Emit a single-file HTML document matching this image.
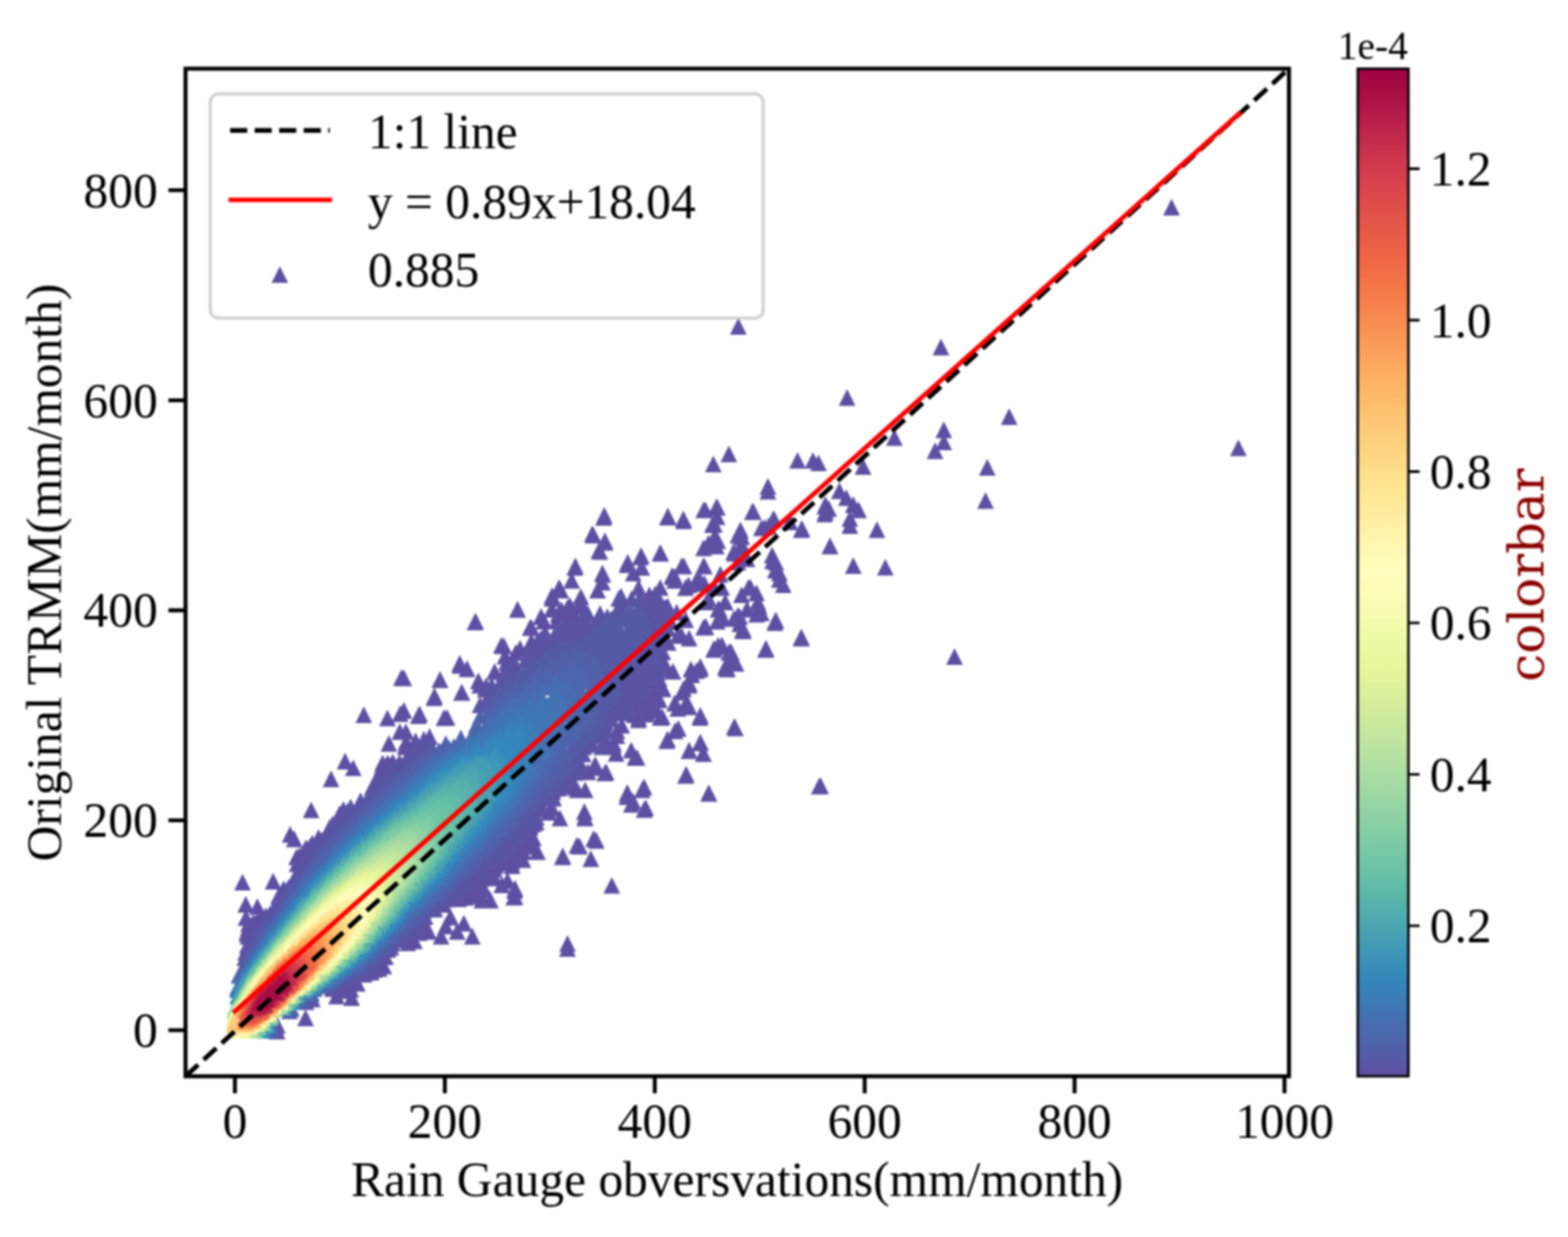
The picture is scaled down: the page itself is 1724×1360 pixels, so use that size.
<!DOCTYPE html><html><head><meta charset="utf-8"><title>scatter</title><style>html,body{margin:0;padding:0;background:#fff;}svg{display:block}#wrap{filter:blur(1px)}text{font-family:'Liberation Serif','Times New Roman',serif;fill:#000}</style></head><body>
<div id="wrap">
<svg xmlns="http://www.w3.org/2000/svg" width="1724" height="1360" viewBox="0 0 1724 1360">
<rect width="1724" height="1360" fill="#fff"/>
<defs><clipPath id="ax"><rect x="204.0" y="75.5" width="1213.2" height="1107.8"/></clipPath>
<linearGradient id="cb" x1="0" y1="0" x2="0" y2="1"><stop offset="0.0000" stop-color="#9e0142"/><stop offset="0.0312" stop-color="#ad1246"/><stop offset="0.0625" stop-color="#be254a"/><stop offset="0.0938" stop-color="#d0384e"/><stop offset="0.1250" stop-color="#dc484c"/><stop offset="0.1562" stop-color="#e55749"/><stop offset="0.1875" stop-color="#ef6645"/><stop offset="0.2188" stop-color="#f57748"/><stop offset="0.2500" stop-color="#f88c51"/><stop offset="0.2812" stop-color="#fba05b"/><stop offset="0.3125" stop-color="#fdb365"/><stop offset="0.3438" stop-color="#fdc372"/><stop offset="0.3750" stop-color="#fed27f"/><stop offset="0.4062" stop-color="#fee18d"/><stop offset="0.4375" stop-color="#feeb9d"/><stop offset="0.4688" stop-color="#fff5ae"/><stop offset="0.5000" stop-color="#fffebe"/><stop offset="0.5312" stop-color="#f8fcb4"/><stop offset="0.5625" stop-color="#f0f9a7"/><stop offset="0.5938" stop-color="#e8f69b"/><stop offset="0.6250" stop-color="#d8ef9b"/><stop offset="0.6562" stop-color="#c6e89f"/><stop offset="0.6875" stop-color="#b3e0a2"/><stop offset="0.7188" stop-color="#9fd8a4"/><stop offset="0.7500" stop-color="#89d0a4"/><stop offset="0.7812" stop-color="#74c7a5"/><stop offset="0.8125" stop-color="#60bba8"/><stop offset="0.8438" stop-color="#50a9af"/><stop offset="0.8750" stop-color="#3f97b7"/><stop offset="0.9062" stop-color="#3585bb"/><stop offset="0.9375" stop-color="#4273b3"/><stop offset="0.9688" stop-color="#5061aa"/><stop offset="1.0000" stop-color="#5e4fa2"/></linearGradient></defs>
<g clip-path="url(#ax)"><path fill="#5e4fa2" d="M336.0 1109.8l9.2 18.4h-18.4zM386.6 1087.6l9.2 18.4h-18.4zM370.0 1085.8l9.2 18.4h-18.4zM266.7 960.7l9.2 18.4h-18.4zM270.2 985.0l9.2 18.4h-18.4zM283.0 987.4l9.2 18.4h-18.4zM300.3 959.5l9.2 18.4h-18.4zM618.2 932.8l9.2 18.4h-18.4zM634.4 920.1l9.2 18.4h-18.4zM624.0 1028.0l9.2 18.4h-18.4zM323.5 913.1l9.2 18.4h-18.4zM364.0 847.1l9.2 18.4h-18.4zM379.4 827.6l9.2 18.4h-18.4zM388.4 834.9l9.2 18.4h-18.4zM319.0 908.0l9.2 18.4h-18.4zM342.1 881.2l9.2 18.4h-18.4zM643.0 888.5l9.2 18.4h-18.4zM689.3 866.6l9.2 18.4h-18.4zM652.7 912.8l9.2 18.4h-18.4zM674.6 808.1l9.2 18.4h-18.4zM694.0 815.4l9.2 18.4h-18.4zM523.0 673.9l9.2 18.4h-18.4zM441.4 735.7l9.2 18.4h-18.4zM483.8 737.8l9.2 18.4h-18.4zM505.8 722.4l9.2 18.4h-18.4zM513.5 725.8l9.2 18.4h-18.4zM508.0 752.2l9.2 18.4h-18.4zM477.2 757.8l9.2 18.4h-18.4zM400.0 776.5l9.2 18.4h-18.4zM426.0 780.2l9.2 18.4h-18.4zM440.0 775.4l9.2 18.4h-18.4zM461.3 775.8l9.2 18.4h-18.4zM488.2 779.8l9.2 18.4h-18.4zM439.6 795.2l9.2 18.4h-18.4zM446.3 795.2l9.2 18.4h-18.4zM472.3 800.5l9.2 18.4h-18.4zM427.6 808.2l9.2 18.4h-18.4zM554.0 700.8l9.2 18.4h-18.4zM571.8 703.6l9.2 18.4h-18.4zM526.0 739.3l9.2 18.4h-18.4zM543.8 729.1l9.2 18.4h-18.4zM1288.1 218.6l9.2 18.4h-18.4zM1361.6 483.2l9.2 18.4h-18.4zM1049.5 712.5l9.2 18.4h-18.4zM902.2 854.6l9.2 18.4h-18.4zM811.8 349.5l9.2 18.4h-18.4zM1109.6 448.8l9.2 18.4h-18.4zM1085.5 504.6l9.2 18.4h-18.4zM1083.6 541.0l9.2 18.4h-18.4zM1034.6 372.3l9.2 18.4h-18.4zM931.4 427.8l9.2 18.4h-18.4zM983.4 471.8l9.2 18.4h-18.4zM1037.7 463.3l9.2 18.4h-18.4zM1037.7 476.7l9.2 18.4h-18.4zM1028.1 486.3l9.2 18.4h-18.4zM948.9 503.5l9.2 18.4h-18.4zM900.0 499.7l9.2 18.4h-18.4zM907.6 545.6l9.2 18.4h-18.4zM907.6 553.2l9.2 18.4h-18.4zM922.9 530.3l9.2 18.4h-18.4zM930.6 537.9l9.2 18.4h-18.4zM938.2 545.6l9.2 18.4h-18.4zM944.0 551.3l9.2 18.4h-18.4zM934.4 560.9l9.2 18.4h-18.4zM934.4 568.5l9.2 18.4h-18.4zM964.2 573.1l9.2 18.4h-18.4zM912.6 590.7l9.2 18.4h-18.4zM938.2 612.5l9.2 18.4h-18.4zM973.4 614.4l9.2 18.4h-18.4zM664.4 557.3l9.2 18.4h-18.4zM733.9 559.3l9.2 18.4h-18.4zM751.8 563.3l9.2 18.4h-18.4zM775.6 551.4l9.2 18.4h-18.4zM788.7 548.6l9.2 18.4h-18.4zM785.5 567.2l9.2 18.4h-18.4zM827.2 553.3l9.2 18.4h-18.4zM851.0 561.3l9.2 18.4h-18.4zM837.1 571.2l9.2 18.4h-18.4zM813.3 575.2l9.2 18.4h-18.4zM880.8 573.2l9.2 18.4h-18.4zM801.4 489.8l9.2 18.4h-18.4zM784.3 500.9l9.2 18.4h-18.4zM876.9 496.9l9.2 18.4h-18.4zM893.9 496.9l9.2 18.4h-18.4zM844.3 525.5l9.2 18.4h-18.4zM652.5 579.2l9.2 18.4h-18.4zM665.2 587.1l9.2 18.4h-18.4zM659.6 597.0l9.2 18.4h-18.4zM690.2 608.9l9.2 18.4h-18.4zM704.1 603.0l9.2 18.4h-18.4zM696.2 620.8l9.2 18.4h-18.4zM725.9 599.0l9.2 18.4h-18.4zM751.8 612.9l9.2 18.4h-18.4zM741.8 624.8l9.2 18.4h-18.4zM773.6 612.9l9.2 18.4h-18.4zM769.6 628.8l9.2 18.4h-18.4zM779.6 589.1l9.2 18.4h-18.4zM785.5 581.1l9.2 18.4h-18.4zM773.6 593.1l9.2 18.4h-18.4zM811.3 579.2l9.2 18.4h-18.4zM815.3 589.1l9.2 18.4h-18.4zM807.4 599.0l9.2 18.4h-18.4zM821.3 605.0l9.2 18.4h-18.4zM811.3 608.9l9.2 18.4h-18.4zM853.0 608.9l9.2 18.4h-18.4zM857.0 620.8l9.2 18.4h-18.4zM849.0 601.0l9.2 18.4h-18.4zM632.6 612.9l9.2 18.4h-18.4zM662.4 620.8l9.2 18.4h-18.4zM614.7 636.8l9.2 18.4h-18.4zM606.8 648.7l9.2 18.4h-18.4zM628.6 628.8l9.2 18.4h-18.4zM638.6 646.7l9.2 18.4h-18.4zM626.7 656.6l9.2 18.4h-18.4zM662.4 630.8l9.2 18.4h-18.4zM680.3 648.7l9.2 18.4h-18.4zM694.2 664.5l9.2 18.4h-18.4zM702.1 636.8l9.2 18.4h-18.4zM714.0 644.7l9.2 18.4h-18.4zM706.1 652.6l9.2 18.4h-18.4zM725.9 652.6l9.2 18.4h-18.4zM741.8 628.8l9.2 18.4h-18.4zM753.7 636.8l9.2 18.4h-18.4zM765.7 628.8l9.2 18.4h-18.4zM785.5 636.8l9.2 18.4h-18.4zM777.6 652.6l9.2 18.4h-18.4zM789.5 660.6l9.2 18.4h-18.4zM797.4 652.6l9.2 18.4h-18.4zM815.3 644.7l9.2 18.4h-18.4zM825.2 636.8l9.2 18.4h-18.4zM833.2 652.6l9.2 18.4h-18.4zM821.3 660.6l9.2 18.4h-18.4zM837.1 664.5l9.2 18.4h-18.4zM853.0 672.5l9.2 18.4h-18.4zM813.3 668.5l9.2 18.4h-18.4zM880.8 692.3l9.2 18.4h-18.4zM569.1 660.6l9.2 18.4h-18.4zM522.2 674.5l9.2 18.4h-18.4zM583.0 680.4l9.2 18.4h-18.4zM594.9 668.5l9.2 18.4h-18.4zM606.8 660.6l9.2 18.4h-18.4zM630.6 664.5l9.2 18.4h-18.4zM638.6 652.6l9.2 18.4h-18.4zM551.2 700.3l9.2 18.4h-18.4zM567.1 708.2l9.2 18.4h-18.4zM555.2 712.2l9.2 18.4h-18.4zM789.5 700.3l9.2 18.4h-18.4zM801.4 708.2l9.2 18.4h-18.4zM809.3 720.1l9.2 18.4h-18.4zM797.4 724.1l9.2 18.4h-18.4zM841.9 704.3l9.2 18.4h-18.4zM773.6 680.4l9.2 18.4h-18.4zM757.7 692.3l9.2 18.4h-18.4zM745.8 688.4l9.2 18.4h-18.4zM813.3 676.5l9.2 18.4h-18.4zM817.3 684.4l9.2 18.4h-18.4zM505.5 720.1l9.2 18.4h-18.4zM513.5 726.1l9.2 18.4h-18.4zM483.7 738.0l9.2 18.4h-18.4zM444.0 736.0l9.2 18.4h-18.4zM765.7 728.1l9.2 18.4h-18.4zM757.7 744.0l9.2 18.4h-18.4zM749.8 751.9l9.2 18.4h-18.4zM741.8 763.8l9.2 18.4h-18.4zM757.7 767.8l9.2 18.4h-18.4zM725.9 747.9l9.2 18.4h-18.4zM714.0 771.8l9.2 18.4h-18.4zM702.1 779.7l9.2 18.4h-18.4zM725.9 779.7l9.2 18.4h-18.4zM769.6 779.7l9.2 18.4h-18.4zM807.4 789.6l9.2 18.4h-18.4zM507.5 751.9l9.2 18.4h-18.4zM527.4 744.0l9.2 18.4h-18.4zM535.3 759.8l9.2 18.4h-18.4zM477.7 755.9l9.2 18.4h-18.4zM459.9 777.7l9.2 18.4h-18.4zM491.6 779.7l9.2 18.4h-18.4zM444.0 771.8l9.2 18.4h-18.4zM733.9 803.5l9.2 18.4h-18.4zM745.8 791.6l9.2 18.4h-18.4zM757.7 815.5l9.2 18.4h-18.4zM769.6 807.5l9.2 18.4h-18.4zM773.6 819.4l9.2 18.4h-18.4zM678.3 799.6l9.2 18.4h-18.4zM698.1 823.4l9.2 18.4h-18.4zM674.3 811.5l9.2 18.4h-18.4zM753.7 843.3l9.2 18.4h-18.4zM779.6 863.1l9.2 18.4h-18.4zM900.7 855.2l9.2 18.4h-18.4zM690.2 863.1l9.2 18.4h-18.4zM706.1 859.1l9.2 18.4h-18.4zM710.0 879.0l9.2 18.4h-18.4zM694.2 875.0l9.2 18.4h-18.4zM654.5 831.3l9.2 18.4h-18.4zM666.4 839.3l9.2 18.4h-18.4zM646.5 839.3l9.2 18.4h-18.4zM634.6 859.1l9.2 18.4h-18.4zM642.5 883.0l9.2 18.4h-18.4zM606.8 879.0l9.2 18.4h-18.4zM808.6 791.2l9.2 18.4h-18.4zM881.2 692.4l9.2 18.4h-18.4zM841.7 704.8l9.2 18.4h-18.4zM851.8 675.4l9.2 18.4h-18.4zM816.3 683.2l9.2 18.4h-18.4zM807.0 670.8l9.2 18.4h-18.4zM794.7 670.8l9.2 18.4h-18.4zM776.2 680.1l9.2 18.4h-18.4zM788.5 673.9l9.2 18.4h-18.4zM785.4 704.8l9.2 18.4h-18.4zM794.7 701.7l9.2 18.4h-18.4zM804.0 707.8l9.2 18.4h-18.4zM804.0 717.1l9.2 18.4h-18.4zM799.3 724.8l9.2 18.4h-18.4zM770.0 726.4l9.2 18.4h-18.4zM760.7 732.6l9.2 18.4h-18.4zM757.7 741.8l9.2 18.4h-18.4zM751.5 748.0l9.2 18.4h-18.4zM770.0 777.3l9.2 18.4h-18.4zM745.3 769.6l9.2 18.4h-18.4zM754.6 763.4l9.2 18.4h-18.4zM728.3 778.9l9.2 18.4h-18.4zM742.2 794.3l9.2 18.4h-18.4zM733.0 805.1l9.2 18.4h-18.4zM757.7 816.0l9.2 18.4h-18.4zM770.0 806.7l9.2 18.4h-18.4zM773.1 819.0l9.2 18.4h-18.4zM754.6 842.2l9.2 18.4h-18.4zM779.3 862.3l9.2 18.4h-18.4zM708.2 856.1l9.2 18.4h-18.4zM689.7 862.3l9.2 18.4h-18.4zM695.9 871.5l9.2 18.4h-18.4zM708.2 880.8l9.2 18.4h-18.4zM700.5 823.7l9.2 18.4h-18.4zM677.4 819.0l9.2 18.4h-18.4zM674.3 808.2l9.2 18.4h-18.4zM665.0 803.6l9.2 18.4h-18.4zM702.0 782.0l9.2 18.4h-18.4zM711.3 775.8l9.2 18.4h-18.4zM695.9 772.7l9.2 18.4h-18.4zM643.4 859.2l9.2 18.4h-18.4zM631.0 856.1l9.2 18.4h-18.4zM665.0 840.7l9.2 18.4h-18.4zM652.6 834.5l9.2 18.4h-18.4zM643.4 890.1l9.2 18.4h-18.4zM615.6 890.1l9.2 18.4h-18.4zM603.2 883.9l9.2 18.4h-18.4zM655.7 914.8l9.2 18.4h-18.4zM649.6 934.8l9.2 18.4h-18.4zM637.2 921.0l9.2 18.4h-18.4zM618.7 931.7l9.2 18.4h-18.4zM584.7 921.0l9.2 18.4h-18.4zM575.4 927.1l9.2 18.4h-18.4zM590.9 927.1l9.2 18.4h-18.4zM566.2 933.3l9.2 18.4h-18.4zM563.1 942.6l9.2 18.4h-18.4zM672.7 964.2l9.2 18.4h-18.4zM566.2 967.3l9.2 18.4h-18.4zM566.2 976.5l9.2 18.4h-18.4zM623.9 1033.7l9.2 18.4h-18.4zM663.7 559.5l9.2 18.4h-18.4zM651.2 577.8l9.2 18.4h-18.4zM665.1 585.2l9.2 18.4h-18.4zM658.5 596.2l9.2 18.4h-18.4zM734.3 558.0l9.2 18.4h-18.4zM751.2 561.7l9.2 18.4h-18.4zM632.0 614.6l9.2 18.4h-18.4zM663.0 622.0l9.2 18.4h-18.4zM657.0 639.6l9.2 18.4h-18.4zM689.4 611.7l9.2 18.4h-18.4zM704.9 601.4l9.2 18.4h-18.4zM705.6 614.6l9.2 18.4h-18.4zM726.2 598.4l9.2 18.4h-18.4zM749.7 613.2l9.2 18.4h-18.4zM739.4 624.9l9.2 18.4h-18.4zM757.0 633.8l9.2 18.4h-18.4zM568.8 660.9l9.2 18.4h-18.4zM584.3 680.8l9.2 18.4h-18.4zM607.0 645.5l9.2 18.4h-18.4zM616.6 639.6l9.2 18.4h-18.4zM624.0 658.8l9.2 18.4h-18.4zM732.0 658.8l9.2 18.4h-18.4zM844.3 530.8l9.2 18.4h-18.4zM734.7 558.8l9.2 18.4h-18.4zM751.6 561.7l9.2 18.4h-18.4zM773.7 551.4l9.2 18.4h-18.4zM787.6 548.4l9.2 18.4h-18.4zM788.4 558.8l9.2 18.4h-18.4zM783.2 567.6l9.2 18.4h-18.4zM828.1 552.8l9.2 18.4h-18.4zM850.1 561.7l9.2 18.4h-18.4zM906.8 547.0l9.2 18.4h-18.4zM906.8 555.8l9.2 18.4h-18.4zM911.2 549.9l9.2 18.4h-18.4zM840.6 570.5l9.2 18.4h-18.4zM845.0 569.0l9.2 18.4h-18.4zM868.5 564.6l9.2 18.4h-18.4zM881.8 572.0l9.2 18.4h-18.4zM814.1 573.4l9.2 18.4h-18.4zM815.6 580.8l9.2 18.4h-18.4zM778.8 588.2l9.2 18.4h-18.4zM789.1 585.2l9.2 18.4h-18.4zM787.6 591.1l9.2 18.4h-18.4zM806.8 597.0l9.2 18.4h-18.4zM814.1 592.6l9.2 18.4h-18.4zM725.9 598.4l9.2 18.4h-18.4zM912.6 591.1l9.2 18.4h-18.4zM749.4 613.2l9.2 18.4h-18.4zM739.1 623.4l9.2 18.4h-18.4zM774.4 613.2l9.2 18.4h-18.4zM792.0 622.0l9.2 18.4h-18.4zM849.4 607.3l9.2 18.4h-18.4zM852.4 617.6l9.2 18.4h-18.4zM856.8 627.9l9.2 18.4h-18.4zM861.2 633.7l9.2 18.4h-18.4zM764.1 632.3l9.2 18.4h-18.4zM774.4 632.3l9.2 18.4h-18.4zM793.5 636.7l9.2 18.4h-18.4zM822.9 636.7l9.2 18.4h-18.4zM831.8 642.6l9.2 18.4h-18.4zM834.7 657.3l9.2 18.4h-18.4zM831.8 666.1l9.2 18.4h-18.4zM725.9 636.7l9.2 18.4h-18.4zM778.8 648.4l9.2 18.4h-18.4zM790.6 660.2l9.2 18.4h-18.4zM793.5 667.6l9.2 18.4h-18.4zM811.2 667.6l9.2 18.4h-18.4zM817.1 682.3l9.2 18.4h-18.4zM775.9 679.3l9.2 18.4h-18.4zM852.4 673.4l9.2 18.4h-18.4zM881.0 691.1l9.2 18.4h-18.4zM842.1 703.6l9.2 18.4h-18.4zM753.8 672.0l9.2 18.4h-18.4zM749.4 689.6l9.2 18.4h-18.4zM734.7 697.0l9.2 18.4h-18.4zM728.8 707.3l9.2 18.4h-18.4zM784.7 704.3l9.2 18.4h-18.4zM793.5 699.9l9.2 18.4h-18.4zM802.4 707.3l9.2 18.4h-18.4zM805.3 717.6l9.2 18.4h-18.4zM799.4 726.4l9.2 18.4h-18.4zM759.7 726.4l9.2 18.4h-18.4zM770.0 723.4l9.2 18.4h-18.4zM723.0 706.8l9.2 18.4h-18.4zM730.0 718.8l9.2 18.4h-18.4zM740.0 728.8l9.2 18.4h-18.4zM725.0 725.8l9.2 18.4h-18.4zM551.7 963.6l9.2 18.4h-18.4zM565.8 969.8l9.2 18.4h-18.4zM564.8 977.2l9.2 18.4h-18.4zM529.8 980.3l9.2 18.4h-18.4zM539.2 980.3l9.2 18.4h-18.4zM495.3 999.1l9.2 18.4h-18.4zM519.3 1020.0l9.2 18.4h-18.4zM502.6 1014.8l9.2 18.4h-18.4zM484.9 1020.0l9.2 18.4h-18.4zM471.3 1014.8l9.2 18.4h-18.4zM455.7 1025.2l9.2 18.4h-18.4zM448.4 1027.3l9.2 18.4h-18.4zM510.0 1005.8l9.2 18.4h-18.4zM490.0 1008.8l9.2 18.4h-18.4zM558.0 958.8l9.2 18.4h-18.4zM575.0 935.8l9.2 18.4h-18.4zM270.5 999.5l9.2 18.4h-18.4zM385.8 1078.4l9.2 18.4h-18.4zM527.8 974.5l9.2 18.4h-18.4zM532.8 969.2l9.2 18.4h-18.4zM273.3 1006.1l9.2 18.4h-18.4zM378.5 1079.5l9.2 18.4h-18.4zM392.9 1071.8l9.2 18.4h-18.4zM543.7 956.0l9.2 18.4h-18.4zM518.0 976.4l9.2 18.4h-18.4zM562.8 938.3l9.2 18.4h-18.4zM273.1 1010.6l9.2 18.4h-18.4zM522.2 972.8l9.2 18.4h-18.4zM390.0 1071.8l9.2 18.4h-18.4zM374.9 1079.8l9.2 18.4h-18.4zM422.0 1052.8l9.2 18.4h-18.4zM271.1 1016.3l9.2 18.4h-18.4zM517.1 974.7l9.2 18.4h-18.4zM561.4 936.8l9.2 18.4h-18.4zM557.8 939.4l9.2 18.4h-18.4zM416.8 1055.7l9.2 18.4h-18.4zM521.1 970.7l9.2 18.4h-18.4zM388.7 1071.1l9.2 18.4h-18.4zM538.1 955.6l9.2 18.4h-18.4zM278.3 1004.9l9.2 18.4h-18.4zM720.3 768.3l9.2 18.4h-18.4zM529.2 962.7l9.2 18.4h-18.4zM586.5 912.0l9.2 18.4h-18.4zM578.3 919.4l9.2 18.4h-18.4zM511.0 977.4l9.2 18.4h-18.4zM408.2 1059.5l9.2 18.4h-18.4zM525.2 965.5l9.2 18.4h-18.4zM725.0 760.1l9.2 18.4h-18.4zM537.7 953.5l9.2 18.4h-18.4zM420.6 829.7l9.2 18.4h-18.4zM571.6 923.5l9.2 18.4h-18.4zM582.9 913.1l9.2 18.4h-18.4zM515.6 972.3l9.2 18.4h-18.4zM563.9 930.2l9.2 18.4h-18.4zM598.0 673.5l9.2 18.4h-18.4zM377.4 1075.9l9.2 18.4h-18.4zM512.4 974.5l9.2 18.4h-18.4zM584.6 910.7l9.2 18.4h-18.4zM411.6 1056.5l9.2 18.4h-18.4zM556.3 936.2l9.2 18.4h-18.4zM575.3 919.1l9.2 18.4h-18.4zM414.9 1054.5l9.2 18.4h-18.4zM461.0 1016.1l9.2 18.4h-18.4zM553.2 938.8l9.2 18.4h-18.4zM578.9 915.5l9.2 18.4h-18.4zM617.3 661.2l9.2 18.4h-18.4zM446.4 806.7l9.2 18.4h-18.4zM539.4 950.4l9.2 18.4h-18.4zM326.1 932.9l9.2 18.4h-18.4zM543.6 946.3l9.2 18.4h-18.4zM275.9 1013.4l9.2 18.4h-18.4zM519.4 967.2l9.2 18.4h-18.4zM272.3 1020.2l9.2 18.4h-18.4zM613.7 665.9l9.2 18.4h-18.4zM512.9 972.4l9.2 18.4h-18.4zM718.2 760.9l9.2 18.4h-18.4zM390.5 1067.6l9.2 18.4h-18.4zM573.6 918.6l9.2 18.4h-18.4zM729.3 748.2l9.2 18.4h-18.4zM400.5 1061.8l9.2 18.4h-18.4zM615.9 665.1l9.2 18.4h-18.4zM527.1 959.6l9.2 18.4h-18.4zM504.3 978.9l9.2 18.4h-18.4zM420.2 833.6l9.2 18.4h-18.4zM281.2 1005.3l9.2 18.4h-18.4zM549.7 939.3l9.2 18.4h-18.4zM569.7 920.8l9.2 18.4h-18.4zM529.9 956.4l9.2 18.4h-18.4zM578.7 912.2l9.2 18.4h-18.4zM385.5 1069.7l9.2 18.4h-18.4zM545.0 942.2l9.2 18.4h-18.4zM329.5 931.6l9.2 18.4h-18.4zM510.8 972.0l9.2 18.4h-18.4zM524.2 960.5l9.2 18.4h-18.4zM425.9 829.8l9.2 18.4h-18.4zM720.8 752.9l9.2 18.4h-18.4zM466.1 1008.3l9.2 18.4h-18.4zM537.9 948.0l9.2 18.4h-18.4zM335.6 924.3l9.2 18.4h-18.4zM445.5 811.5l9.2 18.4h-18.4zM707.3 767.7l9.2 18.4h-18.4zM518.4 965.0l9.2 18.4h-18.4zM551.9 935.3l9.2 18.4h-18.4zM336.6 923.1l9.2 18.4h-18.4zM399.2 1061.3l9.2 18.4h-18.4zM448.0 809.6l9.2 18.4h-18.4zM540.3 945.4l9.2 18.4h-18.4zM557.0 930.3l9.2 18.4h-18.4zM413.9 1052.2l9.2 18.4h-18.4zM284.0 1003.3l9.2 18.4h-18.4zM426.2 831.3l9.2 18.4h-18.4zM285.6 1000.5l9.2 18.4h-18.4zM535.3 949.0l9.2 18.4h-18.4zM553.8 932.2l9.2 18.4h-18.4zM417.7 839.6l9.2 18.4h-18.4zM412.8 1052.6l9.2 18.4h-18.4zM612.0 673.6l9.2 18.4h-18.4zM516.9 964.7l9.2 18.4h-18.4zM544.7 939.9l9.2 18.4h-18.4zM581.3 906.1l9.2 18.4h-18.4zM504.3 975.3l9.2 18.4h-18.4zM576.6 910.3l9.2 18.4h-18.4zM714.3 754.4l9.2 18.4h-18.4zM401.7 1058.8l9.2 18.4h-18.4zM526.5 955.7l9.2 18.4h-18.4zM335.4 927.2l9.2 18.4h-18.4zM419.5 839.2l9.2 18.4h-18.4zM703.4 767.8l9.2 18.4h-18.4zM706.2 762.3l9.2 18.4h-18.4zM427.6 831.5l9.2 18.4h-18.4zM281.0 1010.0l9.2 18.4h-18.4zM422.2 836.9l9.2 18.4h-18.4zM539.5 943.5l9.2 18.4h-18.4zM697.7 776.6l9.2 18.4h-18.4zM426.1 833.5l9.2 18.4h-18.4zM715.8 750.5l9.2 18.4h-18.4zM304.7 1124.3l9.2 18.4h-18.4zM550.1 933.6l9.2 18.4h-18.4zM511.1 968.3l9.2 18.4h-18.4zM342.9 918.8l9.2 18.4h-18.4zM343.4 918.0l9.2 18.4h-18.4zM513.0 966.5l9.2 18.4h-18.4zM555.2 928.7l9.2 18.4h-18.4zM407.0 1055.0l9.2 18.4h-18.4zM377.6 880.7l9.2 18.4h-18.4zM340.8 921.4l9.2 18.4h-18.4zM710.5 755.2l9.2 18.4h-18.4zM431.8 828.6l9.2 18.4h-18.4zM529.9 951.3l9.2 18.4h-18.4zM528.1 952.8l9.2 18.4h-18.4zM446.4 1022.9l9.2 18.4h-18.4zM457.0 805.3l9.2 18.4h-18.4zM373.4 885.4l9.2 18.4h-18.4zM569.9 914.3l9.2 18.4h-18.4zM513.4 965.5l9.2 18.4h-18.4zM423.8 1042.5l9.2 18.4h-18.4zM326.6 940.4l9.2 18.4h-18.4zM636.8 657.0l9.2 18.4h-18.4zM395.5 1061.4l9.2 18.4h-18.4zM589.6 894.6l9.2 18.4h-18.4zM724.6 736.7l9.2 18.4h-18.4zM425.4 836.1l9.2 18.4h-18.4zM520.1 958.8l9.2 18.4h-18.4zM733.2 726.3l9.2 18.4h-18.4zM584.1 696.1l9.2 18.4h-18.4zM350.2 911.5l9.2 18.4h-18.4zM567.0 915.8l9.2 18.4h-18.4zM377.1 882.7l9.2 18.4h-18.4zM552.6 929.1l9.2 18.4h-18.4zM573.3 909.7l9.2 18.4h-18.4zM583.1 900.2l9.2 18.4h-18.4zM541.8 938.9l9.2 18.4h-18.4zM505.3 971.3l9.2 18.4h-18.4zM586.8 896.4l9.2 18.4h-18.4zM332.9 933.7l9.2 18.4h-18.4zM417.1 844.9l9.2 18.4h-18.4zM338.6 926.6l9.2 18.4h-18.4zM331.9 935.0l9.2 18.4h-18.4zM715.6 744.4l9.2 18.4h-18.4zM457.2 1011.7l9.2 18.4h-18.4zM535.5 943.9l9.2 18.4h-18.4zM556.9 719.1l9.2 18.4h-18.4zM575.1 907.0l9.2 18.4h-18.4zM522.4 955.6l9.2 18.4h-18.4zM405.3 1054.7l9.2 18.4h-18.4zM710.2 749.6l9.2 18.4h-18.4zM488.0 985.1l9.2 18.4h-18.4zM330.4 937.6l9.2 18.4h-18.4zM376.5 1071.7l9.2 18.4h-18.4zM599.1 687.6l9.2 18.4h-18.4zM522.5 954.8l9.2 18.4h-18.4zM558.0 922.4l9.2 18.4h-18.4zM532.9 945.4l9.2 18.4h-18.4zM561.0 919.6l9.2 18.4h-18.4zM576.2 905.0l9.2 18.4h-18.4zM554.4 925.6l9.2 18.4h-18.4zM683.6 788.2l9.2 18.4h-18.4zM624.8 672.2l9.2 18.4h-18.4zM386.7 1065.4l9.2 18.4h-18.4zM460.9 1007.1l9.2 18.4h-18.4zM698.6 762.0l9.2 18.4h-18.4zM574.0 906.4l9.2 18.4h-18.4zM365.6 1077.6l9.2 18.4h-18.4zM578.8 901.8l9.2 18.4h-18.4zM423.1 841.0l9.2 18.4h-18.4zM548.1 930.8l9.2 18.4h-18.4zM433.4 831.2l9.2 18.4h-18.4zM337.5 929.8l9.2 18.4h-18.4zM583.1 897.3l9.2 18.4h-18.4zM678.3 794.3l9.2 18.4h-18.4zM365.7 896.7l9.2 18.4h-18.4zM515.5 960.3l9.2 18.4h-18.4zM520.8 955.4l9.2 18.4h-18.4zM273.5 1027.1l9.2 18.4h-18.4zM627.9 851.2l9.2 18.4h-18.4zM538.4 939.4l9.2 18.4h-18.4zM697.2 763.7l9.2 18.4h-18.4zM370.4 892.2l9.2 18.4h-18.4zM543.5 934.5l9.2 18.4h-18.4zM626.6 852.1l9.2 18.4h-18.4zM641.2 836.6l9.2 18.4h-18.4zM271.9 1030.1l9.2 18.4h-18.4zM348.1 917.4l9.2 18.4h-18.4zM594.7 692.8l9.2 18.4h-18.4zM362.5 900.5l9.2 18.4h-18.4z"/><path fill="#5b53a4" d="M520.9 954.7l9.2 18.4h-18.4zM385.5 877.9l9.2 18.4h-18.4zM722.9 729.4l9.2 18.4h-18.4zM581.6 702.4l9.2 18.4h-18.4zM589.8 889.4l9.2 18.4h-18.4zM510.8 963.6l9.2 18.4h-18.4zM518.2 956.9l9.2 18.4h-18.4zM717.2 735.7l9.2 18.4h-18.4zM343.1 923.9l9.2 18.4h-18.4zM727.0 724.0l9.2 18.4h-18.4zM577.6 901.4l9.2 18.4h-18.4zM709.8 744.0l9.2 18.4h-18.4zM343.5 1089.2l9.2 18.4h-18.4zM525.7 949.8l9.2 18.4h-18.4zM552.1 925.6l9.2 18.4h-18.4zM504.7 968.6l9.2 18.4h-18.4zM503.0 970.0l9.2 18.4h-18.4zM692.6 769.3l9.2 18.4h-18.4zM547.2 930.0l9.2 18.4h-18.4zM528.9 946.8l9.2 18.4h-18.4zM698.6 756.1l9.2 18.4h-18.4zM567.1 911.2l9.2 18.4h-18.4zM601.0 689.7l9.2 18.4h-18.4zM382.2 1067.3l9.2 18.4h-18.4zM587.1 891.3l9.2 18.4h-18.4zM288.4 1003.1l9.2 18.4h-18.4zM590.1 697.2l9.2 18.4h-18.4zM661.6 811.9l9.2 18.4h-18.4zM346.4 920.5l9.2 18.4h-18.4zM628.5 848.4l9.2 18.4h-18.4zM558.8 918.7l9.2 18.4h-18.4zM567.8 910.2l9.2 18.4h-18.4zM425.5 840.8l9.2 18.4h-18.4zM525.0 949.9l9.2 18.4h-18.4zM703.1 749.9l9.2 18.4h-18.4zM410.9 854.5l9.2 18.4h-18.4zM555.7 921.5l9.2 18.4h-18.4zM292.0 997.5l9.2 18.4h-18.4zM718.2 732.0l9.2 18.4h-18.4zM409.2 856.2l9.2 18.4h-18.4zM444.2 1020.6l9.2 18.4h-18.4zM512.5 961.1l9.2 18.4h-18.4zM608.5 868.4l9.2 18.4h-18.4zM278.6 1020.1l9.2 18.4h-18.4zM562.0 915.2l9.2 18.4h-18.4zM498.1 973.7l9.2 18.4h-18.4zM285.9 1007.9l9.2 18.4h-18.4zM381.9 882.9l9.2 18.4h-18.4zM539.5 936.1l9.2 18.4h-18.4zM456.0 1009.7l9.2 18.4h-18.4zM466.0 803.6l9.2 18.4h-18.4zM427.4 839.7l9.2 18.4h-18.4zM568.8 908.3l9.2 18.4h-18.4zM367.9 896.9l9.2 18.4h-18.4zM376.7 888.2l9.2 18.4h-18.4zM537.6 937.5l9.2 18.4h-18.4zM338.2 931.6l9.2 18.4h-18.4zM530.2 944.4l9.2 18.4h-18.4zM611.7 685.0l9.2 18.4h-18.4zM360.5 904.7l9.2 18.4h-18.4zM571.5 905.3l9.2 18.4h-18.4zM283.1 1013.1l9.2 18.4h-18.4zM620.5 680.8l9.2 18.4h-18.4zM543.2 932.1l9.2 18.4h-18.4zM578.2 898.6l9.2 18.4h-18.4zM306.2 976.1l9.2 18.4h-18.4zM405.9 1052.1l9.2 18.4h-18.4zM548.9 926.8l9.2 18.4h-18.4zM621.6 853.7l9.2 18.4h-18.4zM490.9 979.1l9.2 18.4h-18.4zM439.5 829.0l9.2 18.4h-18.4zM478.0 990.0l9.2 18.4h-18.4zM689.5 769.4l9.2 18.4h-18.4zM366.9 1075.6l9.2 18.4h-18.4zM563.6 719.7l9.2 18.4h-18.4zM542.3 932.5l9.2 18.4h-18.4zM417.2 850.2l9.2 18.4h-18.4zM525.6 947.8l9.2 18.4h-18.4zM580.7 895.4l9.2 18.4h-18.4zM545.4 929.5l9.2 18.4h-18.4zM467.5 998.5l9.2 18.4h-18.4zM551.7 923.4l9.2 18.4h-18.4zM439.5 1023.8l9.2 18.4h-18.4zM510.5 961.4l9.2 18.4h-18.4zM310.5 970.2l9.2 18.4h-18.4zM534.4 745.0l9.2 18.4h-18.4zM685.6 774.6l9.2 18.4h-18.4zM341.4 929.0l9.2 18.4h-18.4zM312.1 968.0l9.2 18.4h-18.4zM378.8 1068.3l9.2 18.4h-18.4zM397.4 1056.9l9.2 18.4h-18.4zM513.8 957.9l9.2 18.4h-18.4zM429.9 1032.1l9.2 18.4h-18.4zM424.1 844.5l9.2 18.4h-18.4zM353.0 915.0l9.2 18.4h-18.4zM380.0 886.5l9.2 18.4h-18.4zM438.1 831.4l9.2 18.4h-18.4zM416.6 851.7l9.2 18.4h-18.4zM456.5 814.4l9.2 18.4h-18.4zM288.0 1006.3l9.2 18.4h-18.4zM694.7 754.0l9.2 18.4h-18.4zM429.1 840.1l9.2 18.4h-18.4zM621.0 852.1l9.2 18.4h-18.4zM367.0 899.6l9.2 18.4h-18.4zM632.4 840.0l9.2 18.4h-18.4zM437.3 832.5l9.2 18.4h-18.4zM702.5 743.5l9.2 18.4h-18.4zM396.4 871.0l9.2 18.4h-18.4zM524.0 948.0l9.2 18.4h-18.4zM534.4 938.4l9.2 18.4h-18.4zM632.2 675.0l9.2 18.4h-18.4zM719.5 722.7l9.2 18.4h-18.4zM607.5 865.5l9.2 18.4h-18.4zM426.4 1034.7l9.2 18.4h-18.4zM500.1 969.5l9.2 18.4h-18.4zM336.5 1092.0l9.2 18.4h-18.4zM449.6 1013.7l9.2 18.4h-18.4zM566.4 907.7l9.2 18.4h-18.4zM575.7 898.4l9.2 18.4h-18.4zM399.5 1055.1l9.2 18.4h-18.4zM341.4 1089.2l9.2 18.4h-18.4zM626.8 680.4l9.2 18.4h-18.4zM458.6 1005.0l9.2 18.4h-18.4zM571.5 902.5l9.2 18.4h-18.4zM435.5 834.9l9.2 18.4h-18.4zM596.1 697.8l9.2 18.4h-18.4zM332.4 941.4l9.2 18.4h-18.4zM587.5 886.2l9.2 18.4h-18.4zM504.8 964.9l9.2 18.4h-18.4zM623.9 847.7l9.2 18.4h-18.4zM709.7 732.6l9.2 18.4h-18.4zM432.7 837.9l9.2 18.4h-18.4zM354.6 914.7l9.2 18.4h-18.4zM562.8 910.5l9.2 18.4h-18.4zM415.2 854.4l9.2 18.4h-18.4zM389.6 1061.0l9.2 18.4h-18.4zM614.6 857.0l9.2 18.4h-18.4zM335.0 938.5l9.2 18.4h-18.4zM554.0 730.5l9.2 18.4h-18.4zM420.2 849.8l9.2 18.4h-18.4zM504.2 965.1l9.2 18.4h-18.4zM637.3 832.5l9.2 18.4h-18.4zM570.5 902.7l9.2 18.4h-18.4zM534.1 937.5l9.2 18.4h-18.4zM415.2 1044.0l9.2 18.4h-18.4zM392.7 1058.9l9.2 18.4h-18.4zM591.8 701.6l9.2 18.4h-18.4zM603.9 867.6l9.2 18.4h-18.4zM687.0 766.1l9.2 18.4h-18.4zM636.0 833.7l9.2 18.4h-18.4zM682.4 774.3l9.2 18.4h-18.4zM397.3 1056.0l9.2 18.4h-18.4zM639.9 670.7l9.2 18.4h-18.4zM533.5 748.4l9.2 18.4h-18.4zM446.8 1015.4l9.2 18.4h-18.4zM270.1 1037.5l9.2 18.4h-18.4zM646.4 665.4l9.2 18.4h-18.4zM501.6 967.0l9.2 18.4h-18.4zM449.1 823.1l9.2 18.4h-18.4zM372.0 896.4l9.2 18.4h-18.4zM474.6 990.3l9.2 18.4h-18.4zM667.7 794.9l9.2 18.4h-18.4zM708.8 730.8l9.2 18.4h-18.4zM637.4 831.2l9.2 18.4h-18.4zM345.4 926.7l9.2 18.4h-18.4zM438.1 833.9l9.2 18.4h-18.4zM537.3 933.7l9.2 18.4h-18.4zM363.2 905.6l9.2 18.4h-18.4zM591.4 880.2l9.2 18.4h-18.4zM682.2 772.5l9.2 18.4h-18.4zM382.0 1065.2l9.2 18.4h-18.4zM693.1 748.3l9.2 18.4h-18.4zM517.6 951.7l9.2 18.4h-18.4zM573.7 898.1l9.2 18.4h-18.4zM445.5 827.5l9.2 18.4h-18.4zM723.0 710.9l9.2 18.4h-18.4zM493.8 973.1l9.2 18.4h-18.4zM696.1 744.0l9.2 18.4h-18.4zM552.8 918.4l9.2 18.4h-18.4zM601.5 697.0l9.2 18.4h-18.4zM704.7 733.5l9.2 18.4h-18.4zM461.3 813.2l9.2 18.4h-18.4zM438.0 834.8l9.2 18.4h-18.4zM559.4 911.7l9.2 18.4h-18.4zM493.2 973.4l9.2 18.4h-18.4zM622.8 845.8l9.2 18.4h-18.4zM540.6 744.0l9.2 18.4h-18.4zM278.6 1024.3l9.2 18.4h-18.4zM280.9 1020.5l9.2 18.4h-18.4zM566.5 904.6l9.2 18.4h-18.4zM460.2 1001.6l9.2 18.4h-18.4zM549.3 921.2l9.2 18.4h-18.4zM362.9 907.1l9.2 18.4h-18.4zM407.5 1048.6l9.2 18.4h-18.4zM608.1 860.8l9.2 18.4h-18.4zM553.4 917.1l9.2 18.4h-18.4zM690.1 751.6l9.2 18.4h-18.4zM689.1 754.6l9.2 18.4h-18.4zM286.2 1012.2l9.2 18.4h-18.4zM545.2 924.9l9.2 18.4h-18.4zM611.1 857.3l9.2 18.4h-18.4zM296.6 995.7l9.2 18.4h-18.4zM636.0 678.0l9.2 18.4h-18.4zM431.3 841.9l9.2 18.4h-18.4zM527.7 941.1l9.2 18.4h-18.4zM339.9 934.9l9.2 18.4h-18.4zM635.1 831.1l9.2 18.4h-18.4zM567.3 723.0l9.2 18.4h-18.4zM562.4 907.8l9.2 18.4h-18.4zM585.7 709.1l9.2 18.4h-18.4zM473.4 989.8l9.2 18.4h-18.4zM630.9 683.0l9.2 18.4h-18.4zM518.3 949.5l9.2 18.4h-18.4zM594.1 874.8l9.2 18.4h-18.4zM444.6 829.8l9.2 18.4h-18.4zM283.0 1018.0l9.2 18.4h-18.4zM567.8 902.1l9.2 18.4h-18.4zM385.3 1062.3l9.2 18.4h-18.4zM386.6 884.4l9.2 18.4h-18.4zM618.8 848.2l9.2 18.4h-18.4zM554.3 915.3l9.2 18.4h-18.4zM614.9 691.3l9.2 18.4h-18.4zM703.4 730.6l9.2 18.4h-18.4zM339.7 935.7l9.2 18.4h-18.4zM632.6 832.9l9.2 18.4h-18.4zM412.5 1044.5l9.2 18.4h-18.4zM436.7 837.6l9.2 18.4h-18.4zM302.4 987.6l9.2 18.4h-18.4zM384.1 887.1l9.2 18.4h-18.4zM574.1 895.3l9.2 18.4h-18.4zM728.7 696.3l9.2 18.4h-18.4zM529.9 938.1l9.2 18.4h-18.4zM556.5 732.8l9.2 18.4h-18.4zM430.5 843.7l9.2 18.4h-18.4zM713.9 715.9l9.2 18.4h-18.4zM546.2 922.6l9.2 18.4h-18.4zM392.0 1057.9l9.2 18.4h-18.4zM380.1 1065.3l9.2 18.4h-18.4zM431.0 1027.7l9.2 18.4h-18.4zM627.6 686.7l9.2 18.4h-18.4zM576.9 892.1l9.2 18.4h-18.4zM643.9 673.8l9.2 18.4h-18.4zM541.2 927.2l9.2 18.4h-18.4zM578.2 715.9l9.2 18.4h-18.4zM607.0 859.7l9.2 18.4h-18.4zM288.9 1009.0l9.2 18.4h-18.4zM583.2 885.4l9.2 18.4h-18.4zM324.4 955.2l9.2 18.4h-18.4zM493.8 971.1l9.2 18.4h-18.4zM609.5 695.2l9.2 18.4h-18.4zM579.6 889.0l9.2 18.4h-18.4zM338.4 937.9l9.2 18.4h-18.4zM463.8 997.1l9.2 18.4h-18.4zM333.4 944.1l9.2 18.4h-18.4zM295.8 998.2l9.2 18.4h-18.4zM367.4 904.1l9.2 18.4h-18.4zM620.6 690.0l9.2 18.4h-18.4zM378.1 893.7l9.2 18.4h-18.4zM583.3 712.6l9.2 18.4h-18.4zM535.1 932.6l9.2 18.4h-18.4zM358.8 913.9l9.2 18.4h-18.4zM508.0 957.8l9.2 18.4h-18.4zM416.6 857.4l9.2 18.4h-18.4zM285.1 1015.6l9.2 18.4h-18.4zM564.2 727.6l9.2 18.4h-18.4zM422.7 1034.7l9.2 18.4h-18.4zM598.0 868.4l9.2 18.4h-18.4zM351.3 922.9l9.2 18.4h-18.4zM342.5 933.6l9.2 18.4h-18.4zM447.8 1011.5l9.2 18.4h-18.4zM526.4 940.3l9.2 18.4h-18.4zM620.0 844.7l9.2 18.4h-18.4zM387.0 885.5l9.2 18.4h-18.4zM497.5 967.1l9.2 18.4h-18.4zM628.5 687.8l9.2 18.4h-18.4zM317.2 966.4l9.2 18.4h-18.4zM717.5 707.1l9.2 18.4h-18.4zM587.0 710.7l9.2 18.4h-18.4zM512.2 953.5l9.2 18.4h-18.4zM734.5 681.7l9.2 18.4h-18.4zM407.7 865.9l9.2 18.4h-18.4zM671.9 780.3l9.2 18.4h-18.4zM504.7 960.4l9.2 18.4h-18.4zM539.5 748.5l9.2 18.4h-18.4zM671.1 781.4l9.2 18.4h-18.4zM705.1 723.1l9.2 18.4h-18.4zM419.3 1037.5l9.2 18.4h-18.4zM422.0 852.9l9.2 18.4h-18.4zM575.9 891.6l9.2 18.4h-18.4zM447.7 829.0l9.2 18.4h-18.4zM709.1 717.6l9.2 18.4h-18.4zM744.0 663.8l9.2 18.4h-18.4zM521.1 945.0l9.2 18.4h-18.4zM552.1 915.5l9.2 18.4h-18.4zM566.5 901.2l9.2 18.4h-18.4zM682.9 646.3l9.2 18.4h-18.4zM720.1 702.0l9.2 18.4h-18.4zM691.6 739.2l9.2 18.4h-18.4zM551.3 739.1l9.2 18.4h-18.4zM643.4 677.4l9.2 18.4h-18.4zM379.1 893.7l9.2 18.4h-18.4zM585.6 881.0l9.2 18.4h-18.4zM293.4 1003.0l9.2 18.4h-18.4zM641.1 819.6l9.2 18.4h-18.4zM602.8 701.2l9.2 18.4h-18.4zM736.9 673.4l9.2 18.4h-18.4zM705.7 720.0l9.2 18.4h-18.4zM649.4 809.4l9.2 18.4h-18.4zM612.8 851.1l9.2 18.4h-18.4zM440.4 836.3l9.2 18.4h-18.4zM618.7 844.7l9.2 18.4h-18.4zM481.2 980.9l9.2 18.4h-18.4zM631.5 830.5l9.2 18.4h-18.4zM381.6 891.6l9.2 18.4h-18.4zM608.4 855.8l9.2 18.4h-18.4zM658.6 797.6l9.2 18.4h-18.4zM620.8 842.4l9.2 18.4h-18.4zM725.9 691.1l9.2 18.4h-18.4zM432.5 843.9l9.2 18.4h-18.4zM384.9 1061.5l9.2 18.4h-18.4zM717.4 703.3l9.2 18.4h-18.4zM450.7 1007.9l9.2 18.4h-18.4zM659.8 665.3l9.2 18.4h-18.4zM592.2 873.1l9.2 18.4h-18.4zM437.1 1020.6l9.2 18.4h-18.4zM399.8 1051.9l9.2 18.4h-18.4zM443.4 833.9l9.2 18.4h-18.4zM346.1 930.5l9.2 18.4h-18.4zM679.8 762.8l9.2 18.4h-18.4zM578.8 887.2l9.2 18.4h-18.4zM333.3 946.2l9.2 18.4h-18.4zM443.5 834.0l9.2 18.4h-18.4zM462.6 996.7l9.2 18.4h-18.4zM383.6 890.1l9.2 18.4h-18.4zM568.0 898.3l9.2 18.4h-18.4zM697.7 728.4l9.2 18.4h-18.4zM447.6 830.4l9.2 18.4h-18.4zM374.2 899.4l9.2 18.4h-18.4zM320.3 963.2l9.2 18.4h-18.4zM676.2 769.2l9.2 18.4h-18.4zM511.0 953.3l9.2 18.4h-18.4zM419.6 856.3l9.2 18.4h-18.4zM455.9 1002.4l9.2 18.4h-18.4zM522.6 942.1l9.2 18.4h-18.4zM555.0 911.0l9.2 18.4h-18.4zM603.7 859.5l9.2 18.4h-18.4zM615.1 847.3l9.2 18.4h-18.4zM514.6 949.7l9.2 18.4h-18.4zM536.3 929.1l9.2 18.4h-18.4zM310.3 978.2l9.2 18.4h-18.4zM345.5 931.7l9.2 18.4h-18.4zM523.9 940.8l9.2 18.4h-18.4zM269.2 1043.6l9.2 18.4h-18.4zM685.1 744.1l9.2 18.4h-18.4zM483.7 977.9l9.2 18.4h-18.4zM650.1 806.6l9.2 18.4h-18.4zM425.0 851.9l9.2 18.4h-18.4zM501.5 961.8l9.2 18.4h-18.4zM665.9 785.1l9.2 18.4h-18.4zM660.2 793.2l9.2 18.4h-18.4zM727.1 683.9l9.2 18.4h-18.4zM391.4 883.2l9.2 18.4h-18.4zM403.2 1049.3l9.2 18.4h-18.4zM373.5 1068.3l9.2 18.4h-18.4zM629.4 690.3l9.2 18.4h-18.4zM492.9 969.6l9.2 18.4h-18.4zM499.9 963.1l9.2 18.4h-18.4zM288.4 1012.1l9.2 18.4h-18.4zM718.7 696.7l9.2 18.4h-18.4zM428.6 848.7l9.2 18.4h-18.4zM731.9 673.6l9.2 18.4h-18.4zM402.0 873.3l9.2 18.4h-18.4zM515.0 948.8l9.2 18.4h-18.4zM569.3 726.7l9.2 18.4h-18.4zM307.0 983.7l9.2 18.4h-18.4zM559.0 906.4l9.2 18.4h-18.4zM632.7 826.8l9.2 18.4h-18.4zM520.4 943.6l9.2 18.4h-18.4zM329.2 952.1l9.2 18.4h-18.4zM305.1 1118.1l9.2 18.4h-18.4zM276.7 1031.1l9.2 18.4h-18.4zM627.6 832.6l9.2 18.4h-18.4zM477.1 983.3l9.2 18.4h-18.4zM594.4 708.8l9.2 18.4h-18.4zM546.4 918.6l9.2 18.4h-18.4zM540.4 924.4l9.2 18.4h-18.4zM596.6 866.1l9.2 18.4h-18.4zM683.4 651.9l9.2 18.4h-18.4zM563.6 901.4l9.2 18.4h-18.4zM639.2 685.2l9.2 18.4h-18.4zM505.5 957.5l9.2 18.4h-18.4zM560.7 904.3l9.2 18.4h-18.4zM623.0 693.5l9.2 18.4h-18.4zM452.3 1005.2l9.2 18.4h-18.4zM313.7 974.0l9.2 18.4h-18.4zM658.5 670.4l9.2 18.4h-18.4zM594.6 868.0l9.2 18.4h-18.4zM728.2 676.3l9.2 18.4h-18.4zM542.3 922.3l9.2 18.4h-18.4zM725.0 682.3l9.2 18.4h-18.4zM706.9 710.7l9.2 18.4h-18.4zM420.6 856.7l9.2 18.4h-18.4zM417.6 859.5l9.2 18.4h-18.4zM702.9 715.9l9.2 18.4h-18.4zM516.4 946.8l9.2 18.4h-18.4zM600.1 861.5l9.2 18.4h-18.4zM537.2 926.9l9.2 18.4h-18.4zM500.2 962.0l9.2 18.4h-18.4zM441.3 837.9l9.2 18.4h-18.4zM475.6 984.0l9.2 18.4h-18.4zM406.0 870.4l9.2 18.4h-18.4zM734.0 657.1l9.2 18.4h-18.4zM680.6 752.8l9.2 18.4h-18.4zM609.3 851.3l9.2 18.4h-18.4zM351.0 926.6l9.2 18.4h-18.4zM292.9 1006.1l9.2 18.4h-18.4zM626.4 832.3l9.2 18.4h-18.4zM625.3 833.6l9.2 18.4h-18.4zM392.6 1055.5l9.2 18.4h-18.4zM682.1 745.4l9.2 18.4h-18.4zM729.8 666.2l9.2 18.4h-18.4zM612.0 699.8l9.2 18.4h-18.4zM720.6 685.3l9.2 18.4h-18.4zM472.0 810.4l9.2 18.4h-18.4zM656.2 674.3l9.2 18.4h-18.4zM678.2 757.3l9.2 18.4h-18.4zM698.0 719.3l9.2 18.4h-18.4zM730.7 659.3l9.2 18.4h-18.4zM472.1 986.6l9.2 18.4h-18.4zM437.6 841.9l9.2 18.4h-18.4zM495.6 965.6l9.2 18.4h-18.4zM568.1 895.4l9.2 18.4h-18.4zM556.7 907.0l9.2 18.4h-18.4zM617.6 841.5l9.2 18.4h-18.4zM669.4 774.7l9.2 18.4h-18.4zM432.2 847.0l9.2 18.4h-18.4zM528.8 934.1l9.2 18.4h-18.4zM685.8 735.2l9.2 18.4h-18.4zM439.5 1016.6l9.2 18.4h-18.4zM694.3 649.3l9.2 18.4h-18.4zM448.2 1008.2l9.2 18.4h-18.4zM385.7 890.5l9.2 18.4h-18.4zM575.8 887.1l9.2 18.4h-18.4zM425.0 853.9l9.2 18.4h-18.4zM604.6 855.1l9.2 18.4h-18.4zM436.1 843.7l9.2 18.4h-18.4zM644.9 808.9l9.2 18.4h-18.4zM377.8 898.3l9.2 18.4h-18.4zM602.1 857.6l9.2 18.4h-18.4zM620.6 837.4l9.2 18.4h-18.4zM613.3 845.4l9.2 18.4h-18.4zM392.8 884.0l9.2 18.4h-18.4zM344.3 935.5l9.2 18.4h-18.4zM464.9 817.7l9.2 18.4h-18.4zM367.9 908.2l9.2 18.4h-18.4zM446.5 834.4l9.2 18.4h-18.4zM550.8 912.0l9.2 18.4h-18.4zM720.2 644.0l9.2 18.4h-18.4zM338.8 942.2l9.2 18.4h-18.4zM298.6 998.2l9.2 18.4h-18.4zM353.9 924.3l9.2 18.4h-18.4zM589.2 715.1l9.2 18.4h-18.4zM449.3 1006.7l9.2 18.4h-18.4zM651.2 799.9l9.2 18.4h-18.4zM673.4 764.9l9.2 18.4h-18.4zM615.5 842.6l9.2 18.4h-18.4zM534.9 927.5l9.2 18.4h-18.4zM535.7 926.8l9.2 18.4h-18.4zM312.6 977.4l9.2 18.4h-18.4zM507.0 954.2l9.2 18.4h-18.4zM641.9 811.8l9.2 18.4h-18.4zM438.6 841.8l9.2 18.4h-18.4zM529.3 932.8l9.2 18.4h-18.4zM724.8 653.0l9.2 18.4h-18.4zM349.9 929.1l9.2 18.4h-18.4zM527.7 934.3l9.2 18.4h-18.4zM546.0 916.6l9.2 18.4h-18.4zM667.8 668.8l9.2 18.4h-18.4zM528.2 933.8l9.2 18.4h-18.4zM721.7 670.7l9.2 18.4h-18.4zM706.6 701.1l9.2 18.4h-18.4zM609.7 848.5l9.2 18.4h-18.4zM356.4 921.8l9.2 18.4h-18.4zM379.6 897.3l9.2 18.4h-18.4zM701.6 708.2l9.2 18.4h-18.4zM635.4 818.9l9.2 18.4h-18.4zM359.3 918.4l9.2 18.4h-18.4zM722.2 663.0l9.2 18.4h-18.4zM703.0 649.8l9.2 18.4h-18.4zM688.8 726.3l9.2 18.4h-18.4zM444.2 1011.2l9.2 18.4h-18.4zM663.1 781.7l9.2 18.4h-18.4zM715.2 683.6l9.2 18.4h-18.4zM578.5 882.8l9.2 18.4h-18.4zM488.1 971.3l9.2 18.4h-18.4zM571.6 890.0l9.2 18.4h-18.4zM625.8 830.0l9.2 18.4h-18.4zM683.9 732.7l9.2 18.4h-18.4zM721.7 659.7l9.2 18.4h-18.4zM432.7 1022.0l9.2 18.4h-18.4zM439.4 841.8l9.2 18.4h-18.4zM377.3 899.8l9.2 18.4h-18.4zM650.8 682.6l9.2 18.4h-18.4zM684.3 659.9l9.2 18.4h-18.4zM422.7 1031.3l9.2 18.4h-18.4zM717.8 652.0l9.2 18.4h-18.4zM564.5 734.4l9.2 18.4h-18.4zM564.3 897.4l9.2 18.4h-18.4zM697.6 711.9l9.2 18.4h-18.4zM380.6 1062.5l9.2 18.4h-18.4zM589.0 870.7l9.2 18.4h-18.4zM377.9 1064.1l9.2 18.4h-18.4zM465.8 990.8l9.2 18.4h-18.4zM617.7 838.7l9.2 18.4h-18.4zM708.3 693.5l9.2 18.4h-18.4zM607.7 849.6l9.2 18.4h-18.4zM309.8 982.3l9.2 18.4h-18.4zM717.7 668.7l9.2 18.4h-18.4zM557.3 904.2l9.2 18.4h-18.4zM385.1 1059.4l9.2 18.4h-18.4zM686.0 660.3l9.2 18.4h-18.4zM365.0 1072.3l9.2 18.4h-18.4zM645.1 688.2l9.2 18.4h-18.4zM367.7 909.7l9.2 18.4h-18.4zM450.4 832.2l9.2 18.4h-18.4zM638.8 693.2l9.2 18.4h-18.4zM548.7 912.7l9.2 18.4h-18.4zM538.5 922.7l9.2 18.4h-18.4zM282.9 1023.8l9.2 18.4h-18.4zM682.2 663.0l9.2 18.4h-18.4zM391.2 886.9l9.2 18.4h-18.4zM527.9 765.5l9.2 18.4h-18.4zM676.2 666.8l9.2 18.4h-18.4zM383.9 894.0l9.2 18.4h-18.4zM687.4 724.5l9.2 18.4h-18.4zM605.9 851.0l9.2 18.4h-18.4zM465.4 990.9l9.2 18.4h-18.4zM503.6 956.1l9.2 18.4h-18.4zM669.4 767.9l9.2 18.4h-18.4zM448.1 834.5l9.2 18.4h-18.4zM711.9 656.9l9.2 18.4h-18.4zM342.6 939.1l9.2 18.4h-18.4zM399.4 879.4l9.2 18.4h-18.4zM351.2 929.0l9.2 18.4h-18.4zM437.3 1017.1l9.2 18.4h-18.4zM296.2 1003.2l9.2 18.4h-18.4zM712.8 659.0l9.2 18.4h-18.4zM553.0 907.9l9.2 18.4h-18.4zM456.0 998.9l9.2 18.4h-18.4zM712.5 676.6l9.2 18.4h-18.4zM713.5 672.7l9.2 18.4h-18.4zM702.6 698.8l9.2 18.4h-18.4zM316.4 973.3l9.2 18.4h-18.4zM579.4 724.3l9.2 18.4h-18.4zM547.5 913.3l9.2 18.4h-18.4zM439.0 843.1l9.2 18.4h-18.4zM334.2 949.5l9.2 18.4h-18.4zM428.5 853.0l9.2 18.4h-18.4zM357.3 922.0l9.2 18.4h-18.4zM658.6 679.9l9.2 18.4h-18.4z"/><path fill="#555aa7" d="M292.8 1008.7l9.2 18.4h-18.4zM454.2 1000.5l9.2 18.4h-18.4zM454.2 829.4l9.2 18.4h-18.4zM672.3 671.0l9.2 18.4h-18.4zM665.6 675.3l9.2 18.4h-18.4zM343.7 938.1l9.2 18.4h-18.4zM605.3 851.0l9.2 18.4h-18.4zM624.3 829.6l9.2 18.4h-18.4zM690.6 717.1l9.2 18.4h-18.4zM530.9 929.4l9.2 18.4h-18.4zM607.5 848.5l9.2 18.4h-18.4zM703.8 694.6l9.2 18.4h-18.4zM540.9 919.6l9.2 18.4h-18.4zM420.2 1032.8l9.2 18.4h-18.4zM595.6 861.3l9.2 18.4h-18.4zM435.8 846.4l9.2 18.4h-18.4zM449.6 833.7l9.2 18.4h-18.4zM584.5 721.0l9.2 18.4h-18.4zM277.1 1033.5l9.2 18.4h-18.4zM680.4 731.5l9.2 18.4h-18.4zM615.8 702.3l9.2 18.4h-18.4zM569.7 890.3l9.2 18.4h-18.4zM390.3 1055.6l9.2 18.4h-18.4zM708.3 682.2l9.2 18.4h-18.4zM620.6 833.5l9.2 18.4h-18.4zM702.0 659.9l9.2 18.4h-18.4zM460.6 994.5l9.2 18.4h-18.4zM605.4 708.0l9.2 18.4h-18.4zM705.8 687.5l9.2 18.4h-18.4zM578.4 880.7l9.2 18.4h-18.4zM598.7 857.6l9.2 18.4h-18.4zM298.3 1123.5l9.2 18.4h-18.4zM708.3 669.0l9.2 18.4h-18.4zM545.0 915.1l9.2 18.4h-18.4zM398.8 880.8l9.2 18.4h-18.4zM702.4 662.4l9.2 18.4h-18.4zM610.8 844.0l9.2 18.4h-18.4zM396.6 1051.2l9.2 18.4h-18.4zM609.1 845.8l9.2 18.4h-18.4zM675.4 747.7l9.2 18.4h-18.4zM594.7 861.5l9.2 18.4h-18.4zM706.9 675.0l9.2 18.4h-18.4zM689.0 665.2l9.2 18.4h-18.4zM559.5 740.8l9.2 18.4h-18.4zM324.7 962.1l9.2 18.4h-18.4zM691.6 710.9l9.2 18.4h-18.4zM386.9 1057.5l9.2 18.4h-18.4zM600.0 855.3l9.2 18.4h-18.4zM295.2 1005.7l9.2 18.4h-18.4zM472.7 983.3l9.2 18.4h-18.4zM404.8 875.6l9.2 18.4h-18.4zM576.8 881.6l9.2 18.4h-18.4zM694.3 665.6l9.2 18.4h-18.4zM560.5 898.9l9.2 18.4h-18.4zM704.5 676.3l9.2 18.4h-18.4zM350.0 931.6l9.2 18.4h-18.4zM272.5 1041.8l9.2 18.4h-18.4zM695.8 701.2l9.2 18.4h-18.4zM572.4 886.2l9.2 18.4h-18.4zM582.4 875.2l9.2 18.4h-18.4zM350.5 931.0l9.2 18.4h-18.4zM419.4 862.3l9.2 18.4h-18.4zM703.5 675.9l9.2 18.4h-18.4zM671.8 756.3l9.2 18.4h-18.4zM700.7 687.6l9.2 18.4h-18.4zM609.3 844.6l9.2 18.4h-18.4zM559.1 900.0l9.2 18.4h-18.4zM620.6 831.8l9.2 18.4h-18.4zM585.4 871.5l9.2 18.4h-18.4zM424.6 1028.0l9.2 18.4h-18.4zM524.1 934.6l9.2 18.4h-18.4zM458.8 826.6l9.2 18.4h-18.4zM645.0 694.0l9.2 18.4h-18.4zM651.8 792.0l9.2 18.4h-18.4zM428.5 854.5l9.2 18.4h-18.4zM619.1 833.3l9.2 18.4h-18.4zM616.3 836.3l9.2 18.4h-18.4zM375.3 904.2l9.2 18.4h-18.4zM682.4 721.4l9.2 18.4h-18.4zM508.7 949.3l9.2 18.4h-18.4zM612.0 841.0l9.2 18.4h-18.4zM423.1 859.5l9.2 18.4h-18.4zM698.3 687.3l9.2 18.4h-18.4zM688.0 710.9l9.2 18.4h-18.4zM365.8 914.0l9.2 18.4h-18.4zM696.9 673.6l9.2 18.4h-18.4zM666.6 680.8l9.2 18.4h-18.4zM564.5 893.8l9.2 18.4h-18.4zM687.5 671.7l9.2 18.4h-18.4zM655.8 785.2l9.2 18.4h-18.4zM654.8 688.4l9.2 18.4h-18.4zM648.3 796.2l9.2 18.4h-18.4zM479.5 976.5l9.2 18.4h-18.4zM519.6 938.5l9.2 18.4h-18.4zM385.7 894.4l9.2 18.4h-18.4zM563.7 894.6l9.2 18.4h-18.4zM601.0 712.7l9.2 18.4h-18.4zM616.8 835.1l9.2 18.4h-18.4zM657.0 687.4l9.2 18.4h-18.4zM622.2 702.3l9.2 18.4h-18.4zM604.4 849.0l9.2 18.4h-18.4zM678.0 676.0l9.2 18.4h-18.4zM318.3 972.4l9.2 18.4h-18.4zM465.8 988.7l9.2 18.4h-18.4zM287.7 1018.0l9.2 18.4h-18.4zM696.3 681.2l9.2 18.4h-18.4zM482.2 973.9l9.2 18.4h-18.4zM694.3 693.5l9.2 18.4h-18.4zM361.1 919.6l9.2 18.4h-18.4zM555.1 903.2l9.2 18.4h-18.4zM484.1 972.2l9.2 18.4h-18.4zM590.5 864.4l9.2 18.4h-18.4zM475.1 812.9l9.2 18.4h-18.4zM425.3 858.0l9.2 18.4h-18.4zM440.7 1012.2l9.2 18.4h-18.4zM371.8 908.1l9.2 18.4h-18.4zM452.5 1000.6l9.2 18.4h-18.4zM552.9 905.2l9.2 18.4h-18.4zM446.7 838.5l9.2 18.4h-18.4zM584.4 871.3l9.2 18.4h-18.4zM571.4 733.5l9.2 18.4h-18.4zM588.2 866.9l9.2 18.4h-18.4zM613.2 706.8l9.2 18.4h-18.4zM406.5 1043.7l9.2 18.4h-18.4zM576.1 730.2l9.2 18.4h-18.4zM434.9 849.5l9.2 18.4h-18.4zM271.6 1044.2l9.2 18.4h-18.4zM515.9 941.5l9.2 18.4h-18.4zM521.5 936.1l9.2 18.4h-18.4zM388.9 891.9l9.2 18.4h-18.4zM443.3 841.8l9.2 18.4h-18.4zM328.8 958.3l9.2 18.4h-18.4zM672.8 744.2l9.2 18.4h-18.4zM286.1 1020.9l9.2 18.4h-18.4zM363.5 1072.1l9.2 18.4h-18.4zM340.8 943.8l9.2 18.4h-18.4zM576.5 879.8l9.2 18.4h-18.4zM474.4 980.5l9.2 18.4h-18.4zM493.8 962.7l9.2 18.4h-18.4zM690.8 682.2l9.2 18.4h-18.4zM431.5 852.9l9.2 18.4h-18.4zM523.5 933.9l9.2 18.4h-18.4zM490.5 965.8l9.2 18.4h-18.4zM686.9 703.8l9.2 18.4h-18.4zM644.6 698.3l9.2 18.4h-18.4zM411.0 1039.7l9.2 18.4h-18.4zM661.8 772.7l9.2 18.4h-18.4zM677.0 680.7l9.2 18.4h-18.4zM534.5 923.1l9.2 18.4h-18.4zM620.0 830.0l9.2 18.4h-18.4zM394.0 887.4l9.2 18.4h-18.4zM382.7 898.2l9.2 18.4h-18.4zM555.2 902.0l9.2 18.4h-18.4zM678.9 717.6l9.2 18.4h-18.4zM633.4 700.8l9.2 18.4h-18.4zM657.6 779.3l9.2 18.4h-18.4zM679.4 681.8l9.2 18.4h-18.4zM613.2 837.5l9.2 18.4h-18.4zM410.7 872.0l9.2 18.4h-18.4zM283.9 1024.8l9.2 18.4h-18.4zM687.7 689.7l9.2 18.4h-18.4zM511.3 945.4l9.2 18.4h-18.4zM368.7 912.1l9.2 18.4h-18.4zM358.3 923.9l9.2 18.4h-18.4zM680.8 683.4l9.2 18.4h-18.4zM686.3 694.6l9.2 18.4h-18.4zM593.1 859.5l9.2 18.4h-18.4zM596.0 717.8l9.2 18.4h-18.4zM516.6 940.0l9.2 18.4h-18.4zM672.9 725.6l9.2 18.4h-18.4zM589.5 722.0l9.2 18.4h-18.4zM598.3 853.7l9.2 18.4h-18.4zM602.4 849.1l9.2 18.4h-18.4zM550.3 751.5l9.2 18.4h-18.4zM455.4 831.7l9.2 18.4h-18.4zM379.6 901.7l9.2 18.4h-18.4zM487.2 968.1l9.2 18.4h-18.4zM658.5 692.6l9.2 18.4h-18.4zM639.9 804.0l9.2 18.4h-18.4zM665.4 689.3l9.2 18.4h-18.4zM586.0 867.6l9.2 18.4h-18.4zM558.2 745.3l9.2 18.4h-18.4zM671.4 738.3l9.2 18.4h-18.4zM339.3 946.5l9.2 18.4h-18.4zM676.2 686.6l9.2 18.4h-18.4zM282.9 1026.6l9.2 18.4h-18.4zM679.7 709.1l9.2 18.4h-18.4zM653.6 695.9l9.2 18.4h-18.4zM682.8 694.0l9.2 18.4h-18.4zM670.2 727.4l9.2 18.4h-18.4zM677.3 713.9l9.2 18.4h-18.4zM445.0 841.4l9.2 18.4h-18.4zM297.5 1123.3l9.2 18.4h-18.4zM412.5 871.0l9.2 18.4h-18.4zM513.9 942.1l9.2 18.4h-18.4zM664.9 762.2l9.2 18.4h-18.4zM337.6 948.8l9.2 18.4h-18.4zM538.4 918.0l9.2 18.4h-18.4zM455.7 996.1l9.2 18.4h-18.4zM418.6 865.7l9.2 18.4h-18.4zM672.7 719.9l9.2 18.4h-18.4zM679.3 700.1l9.2 18.4h-18.4zM567.4 887.8l9.2 18.4h-18.4zM669.9 724.0l9.2 18.4h-18.4zM471.5 981.9l9.2 18.4h-18.4zM579.0 874.9l9.2 18.4h-18.4zM414.5 869.6l9.2 18.4h-18.4zM640.8 702.4l9.2 18.4h-18.4zM292.8 1011.9l9.2 18.4h-18.4zM665.9 758.0l9.2 18.4h-18.4zM492.1 962.9l9.2 18.4h-18.4zM617.1 830.8l9.2 18.4h-18.4zM450.4 837.2l9.2 18.4h-18.4zM432.7 1018.4l9.2 18.4h-18.4zM504.3 951.1l9.2 18.4h-18.4zM663.7 694.8l9.2 18.4h-18.4zM399.2 1047.7l9.2 18.4h-18.4zM672.8 694.9l9.2 18.4h-18.4zM544.3 757.7l9.2 18.4h-18.4zM340.8 945.4l9.2 18.4h-18.4zM608.5 840.4l9.2 18.4h-18.4zM367.9 1068.6l9.2 18.4h-18.4zM442.8 1008.5l9.2 18.4h-18.4zM674.5 703.0l9.2 18.4h-18.4zM575.0 733.9l9.2 18.4h-18.4zM620.0 707.3l9.2 18.4h-18.4zM558.5 896.7l9.2 18.4h-18.4zM572.5 881.6l9.2 18.4h-18.4zM460.5 991.4l9.2 18.4h-18.4zM673.3 706.4l9.2 18.4h-18.4zM470.9 819.3l9.2 18.4h-18.4zM276.4 1037.5l9.2 18.4h-18.4zM609.4 839.1l9.2 18.4h-18.4zM564.2 890.4l9.2 18.4h-18.4zM588.6 862.7l9.2 18.4h-18.4zM401.2 1046.2l9.2 18.4h-18.4zM599.0 850.7l9.2 18.4h-18.4zM545.6 909.8l9.2 18.4h-18.4zM356.4 927.6l9.2 18.4h-18.4zM495.6 959.0l9.2 18.4h-18.4zM405.3 878.7l9.2 18.4h-18.4zM668.2 744.2l9.2 18.4h-18.4zM492.7 961.7l9.2 18.4h-18.4zM624.7 706.3l9.2 18.4h-18.4zM539.8 915.5l9.2 18.4h-18.4zM669.6 710.4l9.2 18.4h-18.4zM602.7 846.1l9.2 18.4h-18.4zM570.3 883.3l9.2 18.4h-18.4zM654.0 703.0l9.2 18.4h-18.4zM613.4 833.7l9.2 18.4h-18.4zM622.4 823.0l9.2 18.4h-18.4zM463.7 826.2l9.2 18.4h-18.4zM440.5 847.1l9.2 18.4h-18.4zM666.3 703.6l9.2 18.4h-18.4zM580.9 871.2l9.2 18.4h-18.4zM501.9 952.6l9.2 18.4h-18.4zM317.0 977.1l9.2 18.4h-18.4zM486.6 967.2l9.2 18.4h-18.4zM587.5 863.1l9.2 18.4h-18.4zM442.6 845.3l9.2 18.4h-18.4zM458.5 992.6l9.2 18.4h-18.4zM656.7 704.1l9.2 18.4h-18.4zM628.0 815.4l9.2 18.4h-18.4zM658.2 704.6l9.2 18.4h-18.4zM664.7 716.7l9.2 18.4h-18.4zM546.9 907.6l9.2 18.4h-18.4zM334.7 953.7l9.2 18.4h-18.4zM357.6 1074.7l9.2 18.4h-18.4zM616.0 829.9l9.2 18.4h-18.4zM656.3 705.7l9.2 18.4h-18.4zM581.1 870.4l9.2 18.4h-18.4zM647.0 789.1l9.2 18.4h-18.4zM452.1 837.0l9.2 18.4h-18.4zM537.4 764.9l9.2 18.4h-18.4zM328.9 960.9l9.2 18.4h-18.4zM575.5 876.7l9.2 18.4h-18.4zM454.3 996.1l9.2 18.4h-18.4zM633.4 808.1l9.2 18.4h-18.4zM299.0 1003.7l9.2 18.4h-18.4zM391.7 1052.2l9.2 18.4h-18.4zM611.9 834.4l9.2 18.4h-18.4zM497.3 956.6l9.2 18.4h-18.4zM662.1 715.9l9.2 18.4h-18.4zM422.5 864.0l9.2 18.4h-18.4zM448.5 1001.8l9.2 18.4h-18.4zM421.2 865.2l9.2 18.4h-18.4zM378.3 905.2l9.2 18.4h-18.4zM663.1 756.4l9.2 18.4h-18.4zM467.8 983.8l9.2 18.4h-18.4zM592.4 856.1l9.2 18.4h-18.4zM454.7 835.1l9.2 18.4h-18.4zM433.2 854.7l9.2 18.4h-18.4zM654.0 776.2l9.2 18.4h-18.4zM464.3 986.9l9.2 18.4h-18.4zM665.8 732.4l9.2 18.4h-18.4zM526.0 928.0l9.2 18.4h-18.4zM509.1 944.6l9.2 18.4h-18.4zM459.5 830.8l9.2 18.4h-18.4zM295.9 1008.6l9.2 18.4h-18.4zM596.6 851.2l9.2 18.4h-18.4zM417.4 869.0l9.2 18.4h-18.4zM398.5 886.3l9.2 18.4h-18.4zM609.3 714.7l9.2 18.4h-18.4zM447.0 842.3l9.2 18.4h-18.4zM483.1 969.6l9.2 18.4h-18.4zM648.5 708.4l9.2 18.4h-18.4zM436.1 852.2l9.2 18.4h-18.4zM510.1 943.5l9.2 18.4h-18.4zM584.8 729.5l9.2 18.4h-18.4zM447.5 842.0l9.2 18.4h-18.4zM363.3 921.2l9.2 18.4h-18.4zM628.8 812.5l9.2 18.4h-18.4zM581.7 868.3l9.2 18.4h-18.4zM344.3 943.2l9.2 18.4h-18.4zM388.5 895.9l9.2 18.4h-18.4zM606.5 839.4l9.2 18.4h-18.4zM475.5 976.4l9.2 18.4h-18.4zM637.4 800.7l9.2 18.4h-18.4zM350.0 936.6l9.2 18.4h-18.4zM590.4 857.5l9.2 18.4h-18.4zM550.5 755.5l9.2 18.4h-18.4zM554.1 898.9l9.2 18.4h-18.4zM565.1 887.0l9.2 18.4h-18.4zM571.3 880.1l9.2 18.4h-18.4zM598.9 847.9l9.2 18.4h-18.4zM566.9 884.9l9.2 18.4h-18.4zM441.5 847.7l9.2 18.4h-18.4zM445.5 1004.2l9.2 18.4h-18.4zM663.7 749.2l9.2 18.4h-18.4zM318.4 1102.2l9.2 18.4h-18.4zM582.1 867.4l9.2 18.4h-18.4zM600.5 845.9l9.2 18.4h-18.4zM335.0 1088.1l9.2 18.4h-18.4zM408.8 877.3l9.2 18.4h-18.4zM611.1 833.5l9.2 18.4h-18.4zM528.9 924.3l9.2 18.4h-18.4zM348.1 939.1l9.2 18.4h-18.4zM640.7 795.2l9.2 18.4h-18.4zM657.8 765.6l9.2 18.4h-18.4zM435.0 1014.4l9.2 18.4h-18.4zM629.7 708.6l9.2 18.4h-18.4zM520.8 932.1l9.2 18.4h-18.4zM322.8 970.4l9.2 18.4h-18.4zM556.7 751.1l9.2 18.4h-18.4zM396.4 889.0l9.2 18.4h-18.4zM590.4 856.8l9.2 18.4h-18.4zM658.5 719.4l9.2 18.4h-18.4zM572.3 739.3l9.2 18.4h-18.4zM541.0 911.8l9.2 18.4h-18.4zM547.3 905.4l9.2 18.4h-18.4zM369.7 914.7l9.2 18.4h-18.4zM308.7 990.6l9.2 18.4h-18.4zM596.4 723.3l9.2 18.4h-18.4zM645.0 788.2l9.2 18.4h-18.4zM387.4 1054.5l9.2 18.4h-18.4zM392.2 893.0l9.2 18.4h-18.4zM456.5 834.7l9.2 18.4h-18.4zM575.7 874.3l9.2 18.4h-18.4zM495.4 957.1l9.2 18.4h-18.4zM444.4 845.6l9.2 18.4h-18.4zM424.8 863.4l9.2 18.4h-18.4zM489.8 962.3l9.2 18.4h-18.4zM562.0 889.5l9.2 18.4h-18.4zM442.4 1006.9l9.2 18.4h-18.4zM410.1 1037.8l9.2 18.4h-18.4zM394.2 891.3l9.2 18.4h-18.4zM598.5 847.1l9.2 18.4h-18.4zM523.3 929.3l9.2 18.4h-18.4zM604.0 840.7l9.2 18.4h-18.4zM596.9 848.8l9.2 18.4h-18.4zM655.7 717.8l9.2 18.4h-18.4zM352.3 934.8l9.2 18.4h-18.4zM415.8 871.7l9.2 18.4h-18.4zM611.2 832.0l9.2 18.4h-18.4zM580.2 734.5l9.2 18.4h-18.4zM513.6 938.5l9.2 18.4h-18.4zM268.9 1052.0l9.2 18.4h-18.4zM500.9 951.2l9.2 18.4h-18.4zM429.7 859.6l9.2 18.4h-18.4zM515.4 936.6l9.2 18.4h-18.4zM402.5 884.1l9.2 18.4h-18.4zM291.4 1016.7l9.2 18.4h-18.4zM662.2 743.7l9.2 18.4h-18.4zM303.7 998.4l9.2 18.4h-18.4zM450.4 998.5l9.2 18.4h-18.4zM423.2 1025.1l9.2 18.4h-18.4zM385.2 900.4l9.2 18.4h-18.4zM498.0 953.9l9.2 18.4h-18.4zM400.0 886.6l9.2 18.4h-18.4zM373.4 1063.6l9.2 18.4h-18.4zM406.9 1040.5l9.2 18.4h-18.4zM371.9 913.3l9.2 18.4h-18.4zM333.5 957.3l9.2 18.4h-18.4zM557.6 893.3l9.2 18.4h-18.4zM534.4 917.5l9.2 18.4h-18.4zM660.6 730.1l9.2 18.4h-18.4zM543.4 908.3l9.2 18.4h-18.4zM400.8 1044.8l9.2 18.4h-18.4zM635.7 710.3l9.2 18.4h-18.4zM593.7 851.3l9.2 18.4h-18.4zM572.9 876.2l9.2 18.4h-18.4zM526.3 925.4l9.2 18.4h-18.4zM450.1 841.5l9.2 18.4h-18.4zM288.8 1020.8l9.2 18.4h-18.4zM654.5 767.4l9.2 18.4h-18.4zM298.3 1006.6l9.2 18.4h-18.4zM440.9 1007.6l9.2 18.4h-18.4zM649.4 714.5l9.2 18.4h-18.4zM295.8 1123.5l9.2 18.4h-18.4zM368.7 917.0l9.2 18.4h-18.4zM417.3 871.1l9.2 18.4h-18.4zM447.7 1000.7l9.2 18.4h-18.4zM587.8 857.7l9.2 18.4h-18.4zM467.0 982.6l9.2 18.4h-18.4zM332.5 958.9l9.2 18.4h-18.4zM411.9 1035.4l9.2 18.4h-18.4zM568.4 880.8l9.2 18.4h-18.4z"/><path fill="#5061aa" d="M377.2 908.7l9.2 18.4h-18.4zM528.8 922.5l9.2 18.4h-18.4zM633.2 711.5l9.2 18.4h-18.4zM283.6 1029.1l9.2 18.4h-18.4zM559.9 890.0l9.2 18.4h-18.4zM605.5 836.7l9.2 18.4h-18.4zM598.4 844.9l9.2 18.4h-18.4zM506.5 944.6l9.2 18.4h-18.4zM427.8 1020.2l9.2 18.4h-18.4zM408.3 879.7l9.2 18.4h-18.4zM652.8 719.7l9.2 18.4h-18.4zM559.4 751.5l9.2 18.4h-18.4zM619.6 819.2l9.2 18.4h-18.4zM387.3 899.3l9.2 18.4h-18.4zM549.9 900.4l9.2 18.4h-18.4zM659.3 747.1l9.2 18.4h-18.4zM622.2 714.3l9.2 18.4h-18.4zM362.8 924.2l9.2 18.4h-18.4zM262.7 1063.2l9.2 18.4h-18.4zM366.6 920.0l9.2 18.4h-18.4zM429.3 861.2l9.2 18.4h-18.4zM659.0 736.0l9.2 18.4h-18.4zM294.6 1012.8l9.2 18.4h-18.4zM430.1 1017.5l9.2 18.4h-18.4zM601.5 840.5l9.2 18.4h-18.4zM392.4 1050.1l9.2 18.4h-18.4zM455.8 837.5l9.2 18.4h-18.4zM547.1 761.9l9.2 18.4h-18.4zM342.6 1082.8l9.2 18.4h-18.4zM459.6 834.2l9.2 18.4h-18.4zM465.4 829.2l9.2 18.4h-18.4zM320.4 1099.4l9.2 18.4h-18.4zM598.1 844.1l9.2 18.4h-18.4zM634.5 797.9l9.2 18.4h-18.4zM433.6 857.8l9.2 18.4h-18.4zM581.0 864.4l9.2 18.4h-18.4zM471.0 978.1l9.2 18.4h-18.4zM492.6 957.7l9.2 18.4h-18.4zM642.2 715.0l9.2 18.4h-18.4zM490.2 808.2l9.2 18.4h-18.4zM589.6 853.5l9.2 18.4h-18.4zM384.0 903.1l9.2 18.4h-18.4zM356.3 932.1l9.2 18.4h-18.4zM536.1 913.9l9.2 18.4h-18.4zM476.7 972.7l9.2 18.4h-18.4zM605.9 834.6l9.2 18.4h-18.4zM374.1 912.6l9.2 18.4h-18.4zM437.8 854.3l9.2 18.4h-18.4zM489.3 960.6l9.2 18.4h-18.4zM606.0 722.4l9.2 18.4h-18.4zM348.2 941.5l9.2 18.4h-18.4zM479.7 969.7l9.2 18.4h-18.4zM593.9 848.2l9.2 18.4h-18.4zM528.1 778.2l9.2 18.4h-18.4zM603.2 837.3l9.2 18.4h-18.4zM405.4 883.3l9.2 18.4h-18.4zM618.9 717.2l9.2 18.4h-18.4zM595.5 728.2l9.2 18.4h-18.4zM607.0 832.7l9.2 18.4h-18.4zM653.6 726.4l9.2 18.4h-18.4zM358.3 930.2l9.2 18.4h-18.4zM608.3 831.1l9.2 18.4h-18.4zM447.8 845.5l9.2 18.4h-18.4zM546.7 902.3l9.2 18.4h-18.4zM581.1 863.5l9.2 18.4h-18.4zM560.5 887.4l9.2 18.4h-18.4zM608.7 721.5l9.2 18.4h-18.4zM529.7 919.8l9.2 18.4h-18.4zM425.7 865.4l9.2 18.4h-18.4zM655.9 734.2l9.2 18.4h-18.4zM460.2 834.6l9.2 18.4h-18.4zM377.0 1060.2l9.2 18.4h-18.4zM520.8 928.6l9.2 18.4h-18.4zM645.4 777.6l9.2 18.4h-18.4zM411.6 878.2l9.2 18.4h-18.4zM303.0 1001.5l9.2 18.4h-18.4zM581.9 861.9l9.2 18.4h-18.4zM389.5 898.7l9.2 18.4h-18.4zM440.6 852.6l9.2 18.4h-18.4zM463.8 983.9l9.2 18.4h-18.4zM516.8 932.3l9.2 18.4h-18.4zM346.2 944.6l9.2 18.4h-18.4zM649.9 766.9l9.2 18.4h-18.4zM354.5 935.1l9.2 18.4h-18.4zM591.1 732.2l9.2 18.4h-18.4zM460.0 987.1l9.2 18.4h-18.4zM274.6 1044.7l9.2 18.4h-18.4zM337.7 954.8l9.2 18.4h-18.4zM655.0 741.4l9.2 18.4h-18.4zM476.9 820.8l9.2 18.4h-18.4zM482.8 815.9l9.2 18.4h-18.4zM549.8 897.9l9.2 18.4h-18.4zM554.8 892.5l9.2 18.4h-18.4zM437.4 856.0l9.2 18.4h-18.4zM556.0 757.4l9.2 18.4h-18.4zM377.7 910.5l9.2 18.4h-18.4zM552.3 895.1l9.2 18.4h-18.4zM612.6 823.5l9.2 18.4h-18.4zM468.7 828.2l9.2 18.4h-18.4zM412.8 877.9l9.2 18.4h-18.4zM481.6 966.7l9.2 18.4h-18.4zM276.9 1041.2l9.2 18.4h-18.4zM502.3 946.4l9.2 18.4h-18.4zM495.4 953.2l9.2 18.4h-18.4zM567.5 749.0l9.2 18.4h-18.4zM286.5 1026.6l9.2 18.4h-18.4zM565.4 880.1l9.2 18.4h-18.4zM645.8 722.9l9.2 18.4h-18.4zM352.4 938.1l9.2 18.4h-18.4zM415.8 875.4l9.2 18.4h-18.4zM568.9 876.0l9.2 18.4h-18.4zM459.0 837.0l9.2 18.4h-18.4zM473.5 974.2l9.2 18.4h-18.4zM602.4 835.3l9.2 18.4h-18.4zM544.2 903.2l9.2 18.4h-18.4zM574.5 869.3l9.2 18.4h-18.4zM395.6 894.0l9.2 18.4h-18.4zM357.0 1073.1l9.2 18.4h-18.4zM499.8 948.6l9.2 18.4h-18.4zM618.6 814.9l9.2 18.4h-18.4zM427.9 865.0l9.2 18.4h-18.4zM417.0 1028.7l9.2 18.4h-18.4zM506.1 942.0l9.2 18.4h-18.4zM406.7 1038.4l9.2 18.4h-18.4zM341.7 950.8l9.2 18.4h-18.4zM522.3 925.6l9.2 18.4h-18.4zM601.1 728.2l9.2 18.4h-18.4zM289.8 1021.9l9.2 18.4h-18.4zM532.3 915.3l9.2 18.4h-18.4zM365.3 1067.7l9.2 18.4h-18.4zM639.8 782.7l9.2 18.4h-18.4zM323.3 973.9l9.2 18.4h-18.4zM590.0 849.2l9.2 18.4h-18.4zM452.9 842.9l9.2 18.4h-18.4zM539.5 907.7l9.2 18.4h-18.4zM420.3 871.9l9.2 18.4h-18.4zM536.3 911.0l9.2 18.4h-18.4zM557.5 888.3l9.2 18.4h-18.4zM592.9 845.7l9.2 18.4h-18.4zM331.0 1089.3l9.2 18.4h-18.4zM380.1 909.0l9.2 18.4h-18.4zM484.3 963.5l9.2 18.4h-18.4zM641.6 722.2l9.2 18.4h-18.4zM457.7 988.4l9.2 18.4h-18.4zM455.1 990.6l9.2 18.4h-18.4zM651.6 748.6l9.2 18.4h-18.4zM560.8 884.3l9.2 18.4h-18.4zM379.6 909.6l9.2 18.4h-18.4zM537.6 909.3l9.2 18.4h-18.4zM421.7 870.9l9.2 18.4h-18.4zM585.7 853.9l9.2 18.4h-18.4zM645.2 726.1l9.2 18.4h-18.4zM463.2 834.1l9.2 18.4h-18.4zM384.4 1054.3l9.2 18.4h-18.4zM649.8 757.2l9.2 18.4h-18.4zM586.3 852.9l9.2 18.4h-18.4zM645.7 768.8l9.2 18.4h-18.4zM319.1 980.2l9.2 18.4h-18.4zM317.7 982.2l9.2 18.4h-18.4zM583.5 856.6l9.2 18.4h-18.4zM595.6 842.0l9.2 18.4h-18.4zM599.3 837.5l9.2 18.4h-18.4zM649.5 734.4l9.2 18.4h-18.4zM594.3 843.3l9.2 18.4h-18.4zM571.3 871.7l9.2 18.4h-18.4zM539.0 772.7l9.2 18.4h-18.4zM447.5 848.4l9.2 18.4h-18.4zM369.2 1064.7l9.2 18.4h-18.4zM591.6 734.9l9.2 18.4h-18.4zM350.3 941.6l9.2 18.4h-18.4zM512.6 934.3l9.2 18.4h-18.4zM372.0 917.5l9.2 18.4h-18.4zM369.5 920.2l9.2 18.4h-18.4zM390.5 899.7l9.2 18.4h-18.4zM334.8 959.8l9.2 18.4h-18.4zM315.0 986.3l9.2 18.4h-18.4zM319.9 979.4l9.2 18.4h-18.4zM619.0 722.8l9.2 18.4h-18.4zM367.1 922.9l9.2 18.4h-18.4zM367.7 1065.7l9.2 18.4h-18.4zM517.4 929.3l9.2 18.4h-18.4zM442.1 853.5l9.2 18.4h-18.4zM581.6 858.3l9.2 18.4h-18.4zM452.1 844.6l9.2 18.4h-18.4zM434.6 860.4l9.2 18.4h-18.4zM625.1 802.9l9.2 18.4h-18.4zM297.8 1120.1l9.2 18.4h-18.4zM525.5 921.0l9.2 18.4h-18.4zM556.1 888.5l9.2 18.4h-18.4zM424.0 869.7l9.2 18.4h-18.4zM610.7 726.2l9.2 18.4h-18.4zM387.9 1051.5l9.2 18.4h-18.4zM404.0 887.6l9.2 18.4h-18.4zM354.1 937.7l9.2 18.4h-18.4zM571.5 870.5l9.2 18.4h-18.4zM577.2 745.0l9.2 18.4h-18.4zM649.0 750.0l9.2 18.4h-18.4zM398.0 893.2l9.2 18.4h-18.4zM635.0 786.6l9.2 18.4h-18.4zM530.3 915.7l9.2 18.4h-18.4zM415.0 1029.6l9.2 18.4h-18.4zM312.8 989.7l9.2 18.4h-18.4zM444.6 1000.2l9.2 18.4h-18.4zM449.0 995.6l9.2 18.4h-18.4zM422.8 1021.9l9.2 18.4h-18.4zM441.6 1003.2l9.2 18.4h-18.4zM549.3 895.3l9.2 18.4h-18.4zM600.8 833.7l9.2 18.4h-18.4zM404.4 1039.5l9.2 18.4h-18.4zM626.5 723.3l9.2 18.4h-18.4zM575.3 865.1l9.2 18.4h-18.4zM453.1 844.4l9.2 18.4h-18.4zM431.6 1013.2l9.2 18.4h-18.4zM508.4 937.6l9.2 18.4h-18.4zM547.2 767.7l9.2 18.4h-18.4zM568.9 872.9l9.2 18.4h-18.4zM395.1 896.4l9.2 18.4h-18.4zM450.9 846.4l9.2 18.4h-18.4zM598.4 836.3l9.2 18.4h-18.4zM573.4 867.3l9.2 18.4h-18.4zM632.1 723.9l9.2 18.4h-18.4zM301.4 1006.2l9.2 18.4h-18.4zM470.0 829.7l9.2 18.4h-18.4zM611.3 820.0l9.2 18.4h-18.4zM644.2 765.1l9.2 18.4h-18.4zM378.3 1058.0l9.2 18.4h-18.4zM500.0 946.1l9.2 18.4h-18.4zM553.3 890.4l9.2 18.4h-18.4zM509.8 935.8l9.2 18.4h-18.4zM540.3 904.6l9.2 18.4h-18.4zM566.7 875.0l9.2 18.4h-18.4zM536.0 777.2l9.2 18.4h-18.4zM315.5 986.6l9.2 18.4h-18.4zM576.0 863.4l9.2 18.4h-18.4zM603.3 829.4l9.2 18.4h-18.4zM478.2 967.6l9.2 18.4h-18.4zM434.5 1009.9l9.2 18.4h-18.4zM620.7 725.4l9.2 18.4h-18.4zM445.7 998.5l9.2 18.4h-18.4zM439.3 1005.0l9.2 18.4h-18.4zM465.4 979.5l9.2 18.4h-18.4zM305.2 1001.4l9.2 18.4h-18.4zM364.1 927.6l9.2 18.4h-18.4zM475.3 970.1l9.2 18.4h-18.4zM359.7 932.5l9.2 18.4h-18.4zM496.5 949.3l9.2 18.4h-18.4zM523.9 787.6l9.2 18.4h-18.4zM547.5 896.1l9.2 18.4h-18.4zM635.8 780.9l9.2 18.4h-18.4zM631.2 789.2l9.2 18.4h-18.4zM388.6 903.1l9.2 18.4h-18.4zM434.5 862.1l9.2 18.4h-18.4zM590.8 843.8l9.2 18.4h-18.4zM280.6 1037.5l9.2 18.4h-18.4zM407.3 886.0l9.2 18.4h-18.4zM531.7 912.7l9.2 18.4h-18.4zM419.6 875.0l9.2 18.4h-18.4zM519.6 925.2l9.2 18.4h-18.4zM457.5 841.6l9.2 18.4h-18.4zM384.3 907.4l9.2 18.4h-18.4zM489.5 956.0l9.2 18.4h-18.4z"/><path fill="#4d65ad" d="M643.6 760.0l9.2 18.4h-18.4zM625.7 726.3l9.2 18.4h-18.4zM524.0 920.6l9.2 18.4h-18.4zM545.8 897.6l9.2 18.4h-18.4zM287.5 1027.3l9.2 18.4h-18.4zM468.8 831.9l9.2 18.4h-18.4zM465.8 834.5l9.2 18.4h-18.4zM330.3 967.0l9.2 18.4h-18.4zM493.5 951.8l9.2 18.4h-18.4zM560.4 881.0l9.2 18.4h-18.4zM306.8 999.5l9.2 18.4h-18.4zM414.2 880.0l9.2 18.4h-18.4zM286.2 1029.3l9.2 18.4h-18.4zM479.9 965.2l9.2 18.4h-18.4zM317.5 984.5l9.2 18.4h-18.4zM408.8 885.0l9.2 18.4h-18.4zM638.6 732.0l9.2 18.4h-18.4zM577.8 859.5l9.2 18.4h-18.4zM627.8 793.1l9.2 18.4h-18.4zM392.3 1047.5l9.2 18.4h-18.4zM433.2 863.7l9.2 18.4h-18.4zM642.9 739.9l9.2 18.4h-18.4zM543.4 899.7l9.2 18.4h-18.4zM458.8 985.0l9.2 18.4h-18.4zM297.2 1120.1l9.2 18.4h-18.4zM483.1 961.9l9.2 18.4h-18.4zM332.9 964.0l9.2 18.4h-18.4zM447.5 851.1l9.2 18.4h-18.4zM486.7 958.3l9.2 18.4h-18.4zM569.0 870.2l9.2 18.4h-18.4zM470.7 973.7l9.2 18.4h-18.4zM552.9 888.9l9.2 18.4h-18.4zM463.1 837.4l9.2 18.4h-18.4zM366.2 926.2l9.2 18.4h-18.4zM484.3 960.6l9.2 18.4h-18.4zM557.1 762.6l9.2 18.4h-18.4zM424.2 871.7l9.2 18.4h-18.4zM438.7 859.3l9.2 18.4h-18.4zM443.2 855.2l9.2 18.4h-18.4zM558.9 881.9l9.2 18.4h-18.4zM624.9 796.4l9.2 18.4h-18.4zM410.7 883.7l9.2 18.4h-18.4zM592.8 839.7l9.2 18.4h-18.4zM639.1 768.7l9.2 18.4h-18.4zM540.5 902.3l9.2 18.4h-18.4zM586.2 847.5l9.2 18.4h-18.4zM585.1 743.8l9.2 18.4h-18.4zM328.0 970.7l9.2 18.4h-18.4zM466.3 977.6l9.2 18.4h-18.4zM528.7 914.8l9.2 18.4h-18.4zM430.1 1013.3l9.2 18.4h-18.4zM402.5 891.3l9.2 18.4h-18.4zM565.1 874.4l9.2 18.4h-18.4zM628.9 729.4l9.2 18.4h-18.4zM599.1 831.4l9.2 18.4h-18.4zM504.5 939.5l9.2 18.4h-18.4zM463.7 837.4l9.2 18.4h-18.4zM594.5 837.1l9.2 18.4h-18.4zM506.7 802.0l9.2 18.4h-18.4zM603.2 734.6l9.2 18.4h-18.4zM339.1 957.3l9.2 18.4h-18.4zM594.5 739.0l9.2 18.4h-18.4zM561.5 760.2l9.2 18.4h-18.4zM450.0 849.6l9.2 18.4h-18.4zM502.0 942.0l9.2 18.4h-18.4zM397.1 896.6l9.2 18.4h-18.4zM637.5 736.3l9.2 18.4h-18.4zM412.4 1030.4l9.2 18.4h-18.4zM533.2 909.6l9.2 18.4h-18.4zM635.1 733.8l9.2 18.4h-18.4zM520.6 922.7l9.2 18.4h-18.4zM506.3 937.3l9.2 18.4h-18.4zM423.4 1019.7l9.2 18.4h-18.4zM293.3 1123.5l9.2 18.4h-18.4zM342.3 953.8l9.2 18.4h-18.4zM596.1 834.3l9.2 18.4h-18.4zM424.8 1018.2l9.2 18.4h-18.4zM618.4 804.1l9.2 18.4h-18.4zM462.7 980.6l9.2 18.4h-18.4zM432.2 865.7l9.2 18.4h-18.4zM489.1 954.9l9.2 18.4h-18.4zM479.7 964.3l9.2 18.4h-18.4zM322.7 978.5l9.2 18.4h-18.4zM590.9 741.7l9.2 18.4h-18.4zM578.2 749.3l9.2 18.4h-18.4zM590.2 841.3l9.2 18.4h-18.4zM376.8 915.9l9.2 18.4h-18.4zM439.0 1003.8l9.2 18.4h-18.4zM441.6 857.6l9.2 18.4h-18.4zM581.4 852.2l9.2 18.4h-18.4zM446.8 995.6l9.2 18.4h-18.4zM523.6 790.5l9.2 18.4h-18.4zM639.4 758.8l9.2 18.4h-18.4zM401.9 1039.7l9.2 18.4h-18.4zM639.9 752.0l9.2 18.4h-18.4zM407.5 1034.8l9.2 18.4h-18.4zM293.7 1019.5l9.2 18.4h-18.4zM636.9 739.7l9.2 18.4h-18.4zM542.8 775.4l9.2 18.4h-18.4zM283.0 1035.2l9.2 18.4h-18.4zM465.3 837.0l9.2 18.4h-18.4zM606.3 820.0l9.2 18.4h-18.4zM525.3 917.0l9.2 18.4h-18.4zM600.2 828.0l9.2 18.4h-18.4zM537.9 903.5l9.2 18.4h-18.4zM596.8 832.2l9.2 18.4h-18.4zM299.9 1010.7l9.2 18.4h-18.4zM428.2 869.6l9.2 18.4h-18.4zM458.1 843.5l9.2 18.4h-18.4zM444.8 855.3l9.2 18.4h-18.4zM477.9 826.6l9.2 18.4h-18.4zM572.1 863.5l9.2 18.4h-18.4zM495.4 947.8l9.2 18.4h-18.4zM383.6 1052.9l9.2 18.4h-18.4zM458.4 843.3l9.2 18.4h-18.4zM634.1 772.7l9.2 18.4h-18.4zM493.9 813.5l9.2 18.4h-18.4zM630.1 781.2l9.2 18.4h-18.4zM511.6 930.6l9.2 18.4h-18.4zM338.8 958.7l9.2 18.4h-18.4zM374.9 1058.9l9.2 18.4h-18.4zM533.5 907.7l9.2 18.4h-18.4zM588.6 841.5l9.2 18.4h-18.4zM406.2 889.5l9.2 18.4h-18.4zM340.4 957.0l9.2 18.4h-18.4zM491.8 951.2l9.2 18.4h-18.4zM471.8 971.1l9.2 18.4h-18.4zM618.4 733.5l9.2 18.4h-18.4zM627.4 786.1l9.2 18.4h-18.4zM578.4 854.7l9.2 18.4h-18.4zM382.2 911.7l9.2 18.4h-18.4zM625.2 733.8l9.2 18.4h-18.4zM585.6 845.0l9.2 18.4h-18.4zM394.1 900.7l9.2 18.4h-18.4zM532.2 908.9l9.2 18.4h-18.4zM586.5 843.6l9.2 18.4h-18.4zM448.5 992.9l9.2 18.4h-18.4zM461.3 841.4l9.2 18.4h-18.4zM413.7 883.0l9.2 18.4h-18.4zM636.1 761.7l9.2 18.4h-18.4zM457.7 984.1l9.2 18.4h-18.4zM417.8 1024.1l9.2 18.4h-18.4zM389.3 1048.5l9.2 18.4h-18.4zM426.1 1015.9l9.2 18.4h-18.4zM633.3 741.5l9.2 18.4h-18.4zM298.3 1013.6l9.2 18.4h-18.4zM595.2 832.3l9.2 18.4h-18.4zM474.7 830.2l9.2 18.4h-18.4zM614.5 735.7l9.2 18.4h-18.4zM400.2 895.5l9.2 18.4h-18.4zM600.6 824.9l9.2 18.4h-18.4zM475.4 967.0l9.2 18.4h-18.4zM450.9 851.0l9.2 18.4h-18.4zM405.2 1036.3l9.2 18.4h-18.4zM580.9 849.8l9.2 18.4h-18.4zM581.5 848.9l9.2 18.4h-18.4zM611.2 810.2l9.2 18.4h-18.4zM483.3 823.2l9.2 18.4h-18.4zM453.0 988.2l9.2 18.4h-18.4zM569.1 865.6l9.2 18.4h-18.4zM557.7 879.6l9.2 18.4h-18.4zM574.6 858.4l9.2 18.4h-18.4zM561.5 874.9l9.2 18.4h-18.4zM363.3 932.0l9.2 18.4h-18.4zM602.8 739.9l9.2 18.4h-18.4zM432.6 1008.9l9.2 18.4h-18.4zM577.2 854.3l9.2 18.4h-18.4zM573.9 858.8l9.2 18.4h-18.4zM301.6 1009.4l9.2 18.4h-18.4zM566.9 760.3l9.2 18.4h-18.4zM593.0 833.7l9.2 18.4h-18.4zM333.6 965.8l9.2 18.4h-18.4zM460.7 980.7l9.2 18.4h-18.4zM415.5 1026.0l9.2 18.4h-18.4zM328.4 972.6l9.2 18.4h-18.4zM460.1 843.5l9.2 18.4h-18.4zM349.9 947.1l9.2 18.4h-18.4zM427.4 872.1l9.2 18.4h-18.4zM314.6 991.6l9.2 18.4h-18.4zM583.0 845.6l9.2 18.4h-18.4zM589.4 837.6l9.2 18.4h-18.4zM586.1 841.7l9.2 18.4h-18.4zM579.8 849.9l9.2 18.4h-18.4zM378.8 916.2l9.2 18.4h-18.4zM515.0 925.3l9.2 18.4h-18.4zM541.1 897.5l9.2 18.4h-18.4zM499.0 811.5l9.2 18.4h-18.4zM375.9 919.0l9.2 18.4h-18.4zM550.3 887.1l9.2 18.4h-18.4zM537.6 782.7l9.2 18.4h-18.4zM507.8 932.7l9.2 18.4h-18.4zM612.6 805.7l9.2 18.4h-18.4zM538.0 900.8l9.2 18.4h-18.4zM578.3 851.7l9.2 18.4h-18.4zM590.8 746.6l9.2 18.4h-18.4zM498.5 942.6l9.2 18.4h-18.4zM632.2 762.1l9.2 18.4h-18.4zM628.4 775.8l9.2 18.4h-18.4zM616.5 799.1l9.2 18.4h-18.4zM396.2 1042.7l9.2 18.4h-18.4zM563.4 871.2l9.2 18.4h-18.4zM564.2 870.2l9.2 18.4h-18.4zM351.1 946.2l9.2 18.4h-18.4zM311.5 996.1l9.2 18.4h-18.4zM469.9 835.7l9.2 18.4h-18.4zM318.9 986.0l9.2 18.4h-18.4zM388.2 1048.6l9.2 18.4h-18.4zM421.0 878.1l9.2 18.4h-18.4zM346.6 951.4l9.2 18.4h-18.4zM554.0 882.2l9.2 18.4h-18.4zM435.6 1005.2l9.2 18.4h-18.4zM631.1 750.9l9.2 18.4h-18.4zM372.0 923.5l9.2 18.4h-18.4zM280.7 1040.2l9.2 18.4h-18.4zM533.2 905.6l9.2 18.4h-18.4zM599.6 743.4l9.2 18.4h-18.4zM520.5 796.2l9.2 18.4h-18.4zM521.9 795.3l9.2 18.4h-18.4zM278.9 1043.2l9.2 18.4h-18.4zM510.9 928.9l9.2 18.4h-18.4zM367.5 928.5l9.2 18.4h-18.4zM462.7 842.2l9.2 18.4h-18.4zM359.0 937.8l9.2 18.4h-18.4zM359.7 937.0l9.2 18.4h-18.4zM426.7 1014.1l9.2 18.4h-18.4zM345.7 952.8l9.2 18.4h-18.4z"/><path fill="#486cb0" d="M423.7 876.1l9.2 18.4h-18.4zM522.2 916.9l9.2 18.4h-18.4zM584.0 842.6l9.2 18.4h-18.4zM590.1 834.9l9.2 18.4h-18.4zM359.5 1068.8l9.2 18.4h-18.4zM292.9 1022.8l9.2 18.4h-18.4zM288.8 1028.7l9.2 18.4h-18.4zM369.9 926.2l9.2 18.4h-18.4zM547.9 888.7l9.2 18.4h-18.4zM573.2 758.3l9.2 18.4h-18.4zM470.1 836.2l9.2 18.4h-18.4zM466.4 974.2l9.2 18.4h-18.4zM361.0 1067.8l9.2 18.4h-18.4zM537.2 784.4l9.2 18.4h-18.4zM454.8 849.5l9.2 18.4h-18.4zM625.1 745.2l9.2 18.4h-18.4zM629.5 755.7l9.2 18.4h-18.4zM566.0 763.4l9.2 18.4h-18.4zM612.5 741.5l9.2 18.4h-18.4zM551.1 884.7l9.2 18.4h-18.4zM500.8 939.2l9.2 18.4h-18.4zM394.2 1043.8l9.2 18.4h-18.4zM511.4 927.8l9.2 18.4h-18.4zM391.0 905.9l9.2 18.4h-18.4zM492.4 947.9l9.2 18.4h-18.4zM471.8 835.1l9.2 18.4h-18.4zM526.8 911.5l9.2 18.4h-18.4zM555.2 879.5l9.2 18.4h-18.4zM486.5 953.9l9.2 18.4h-18.4zM435.4 866.9l9.2 18.4h-18.4zM419.3 880.5l9.2 18.4h-18.4zM468.5 838.1l9.2 18.4h-18.4zM297.3 1016.8l9.2 18.4h-18.4zM459.1 846.1l9.2 18.4h-18.4zM593.0 829.7l9.2 18.4h-18.4zM415.6 1024.7l9.2 18.4h-18.4zM504.3 809.1l9.2 18.4h-18.4zM372.5 923.9l9.2 18.4h-18.4zM434.0 1006.1l9.2 18.4h-18.4zM412.8 886.4l9.2 18.4h-18.4zM324.3 979.7l9.2 18.4h-18.4zM396.9 900.7l9.2 18.4h-18.4zM457.4 847.8l9.2 18.4h-18.4zM440.8 998.9l9.2 18.4h-18.4zM553.8 772.7l9.2 18.4h-18.4zM563.1 766.2l9.2 18.4h-18.4zM616.3 743.3l9.2 18.4h-18.4zM328.4 1088.9l9.2 18.4h-18.4zM580.2 755.4l9.2 18.4h-18.4zM337.4 963.1l9.2 18.4h-18.4zM371.5 1060.1l9.2 18.4h-18.4zM477.5 830.9l9.2 18.4h-18.4zM575.3 852.7l9.2 18.4h-18.4zM309.5 1000.1l9.2 18.4h-18.4zM408.2 890.7l9.2 18.4h-18.4zM523.5 914.5l9.2 18.4h-18.4zM599.6 746.4l9.2 18.4h-18.4zM517.9 920.2l9.2 18.4h-18.4zM502.7 936.2l9.2 18.4h-18.4zM626.5 755.7l9.2 18.4h-18.4zM577.3 849.4l9.2 18.4h-18.4zM475.0 833.1l9.2 18.4h-18.4zM544.7 890.8l9.2 18.4h-18.4zM598.1 821.6l9.2 18.4h-18.4zM617.8 790.2l9.2 18.4h-18.4zM542.9 892.9l9.2 18.4h-18.4zM388.2 909.2l9.2 18.4h-18.4zM626.5 761.9l9.2 18.4h-18.4zM496.4 942.9l9.2 18.4h-18.4zM421.9 1018.0l9.2 18.4h-18.4zM400.5 897.9l9.2 18.4h-18.4zM586.4 752.9l9.2 18.4h-18.4zM584.9 838.7l9.2 18.4h-18.4zM588.8 833.8l9.2 18.4h-18.4zM466.6 840.4l9.2 18.4h-18.4zM343.9 956.0l9.2 18.4h-18.4zM579.9 844.9l9.2 18.4h-18.4zM549.2 777.1l9.2 18.4h-18.4zM623.0 751.2l9.2 18.4h-18.4zM379.3 1054.2l9.2 18.4h-18.4zM568.3 861.4l9.2 18.4h-18.4zM425.2 876.4l9.2 18.4h-18.4zM331.2 971.2l9.2 18.4h-18.4zM553.1 880.4l9.2 18.4h-18.4zM439.6 864.4l9.2 18.4h-18.4zM345.7 1077.5l9.2 18.4h-18.4zM404.0 895.1l9.2 18.4h-18.4zM454.3 984.6l9.2 18.4h-18.4zM462.0 844.7l9.2 18.4h-18.4zM454.0 851.8l9.2 18.4h-18.4zM348.2 951.4l9.2 18.4h-18.4zM547.6 886.6l9.2 18.4h-18.4zM373.0 1058.7l9.2 18.4h-18.4zM607.4 746.4l9.2 18.4h-18.4zM405.0 1034.4l9.2 18.4h-18.4zM524.9 911.9l9.2 18.4h-18.4zM556.8 875.5l9.2 18.4h-18.4zM622.9 773.5l9.2 18.4h-18.4zM451.7 986.7l9.2 18.4h-18.4zM586.3 835.5l9.2 18.4h-18.4zM443.3 995.3l9.2 18.4h-18.4zM619.0 749.9l9.2 18.4h-18.4zM446.2 859.0l9.2 18.4h-18.4zM462.5 844.7l9.2 18.4h-18.4zM566.3 863.0l9.2 18.4h-18.4zM456.9 981.8l9.2 18.4h-18.4zM590.6 829.6l9.2 18.4h-18.4zM383.5 914.4l9.2 18.4h-18.4zM571.5 855.7l9.2 18.4h-18.4zM570.0 857.7l9.2 18.4h-18.4zM409.2 1030.0l9.2 18.4h-18.4zM447.8 990.2l9.2 18.4h-18.4zM461.6 977.2l9.2 18.4h-18.4zM411.9 888.6l9.2 18.4h-18.4zM475.8 963.2l9.2 18.4h-18.4zM602.0 813.0l9.2 18.4h-18.4zM621.4 756.0l9.2 18.4h-18.4zM506.4 930.8l9.2 18.4h-18.4zM564.5 864.9l9.2 18.4h-18.4zM493.4 819.6l9.2 18.4h-18.4zM433.2 870.5l9.2 18.4h-18.4zM449.3 856.6l9.2 18.4h-18.4zM441.1 863.9l9.2 18.4h-18.4zM267.2 1063.2l9.2 18.4h-18.4zM465.2 973.5l9.2 18.4h-18.4zM402.6 1036.3l9.2 18.4h-18.4zM480.4 830.2l9.2 18.4h-18.4zM466.5 972.2l9.2 18.4h-18.4zM443.4 861.9l9.2 18.4h-18.4zM432.2 871.4l9.2 18.4h-18.4zM408.3 892.1l9.2 18.4h-18.4zM437.1 1001.5l9.2 18.4h-18.4zM519.1 917.1l9.2 18.4h-18.4zM306.4 1005.6l9.2 18.4h-18.4zM453.2 853.6l9.2 18.4h-18.4zM375.5 922.7l9.2 18.4h-18.4zM616.8 784.2l9.2 18.4h-18.4zM391.6 907.5l9.2 18.4h-18.4zM325.9 979.3l9.2 18.4h-18.4zM607.7 801.9l9.2 18.4h-18.4zM317.5 990.6l9.2 18.4h-18.4zM561.4 867.9l9.2 18.4h-18.4zM587.6 831.6l9.2 18.4h-18.4zM607.1 802.6l9.2 18.4h-18.4zM553.4 877.8l9.2 18.4h-18.4zM498.5 938.8l9.2 18.4h-18.4zM477.1 961.2l9.2 18.4h-18.4zM477.7 833.0l9.2 18.4h-18.4zM577.4 845.0l9.2 18.4h-18.4zM612.7 752.0l9.2 18.4h-18.4zM362.5 936.8l9.2 18.4h-18.4zM389.3 909.9l9.2 18.4h-18.4zM285.5 1035.4l9.2 18.4h-18.4zM347.0 954.0l9.2 18.4h-18.4zM274.8 1051.6l9.2 18.4h-18.4zM613.0 790.4l9.2 18.4h-18.4zM487.7 950.1l9.2 18.4h-18.4zM512.3 923.6l9.2 18.4h-18.4zM388.1 911.2l9.2 18.4h-18.4zM536.4 897.4l9.2 18.4h-18.4zM368.8 1061.1l9.2 18.4h-18.4zM436.4 868.8l9.2 18.4h-18.4zM361.8 1066.1l9.2 18.4h-18.4zM542.5 890.2l9.2 18.4h-18.4zM582.3 837.5l9.2 18.4h-18.4zM280.6 1042.7l9.2 18.4h-18.4zM447.3 989.9l9.2 18.4h-18.4zM371.6 927.4l9.2 18.4h-18.4zM539.5 893.6l9.2 18.4h-18.4zM557.2 872.4l9.2 18.4h-18.4zM575.3 763.4l9.2 18.4h-18.4zM558.9 773.8l9.2 18.4h-18.4zM588.9 756.6l9.2 18.4h-18.4zM576.0 846.0l9.2 18.4h-18.4zM356.7 943.5l9.2 18.4h-18.4zM472.0 965.8l9.2 18.4h-18.4zM366.0 933.5l9.2 18.4h-18.4zM618.0 769.6l9.2 18.4h-18.4zM613.1 787.7l9.2 18.4h-18.4zM488.0 825.5l9.2 18.4h-18.4zM617.8 765.2l9.2 18.4h-18.4zM579.1 840.9l9.2 18.4h-18.4zM299.4 1016.1l9.2 18.4h-18.4zM415.3 887.1l9.2 18.4h-18.4zM537.1 790.0l9.2 18.4h-18.4zM606.3 800.8l9.2 18.4h-18.4zM571.2 852.6l9.2 18.4h-18.4zM616.5 775.8l9.2 18.4h-18.4zM393.4 906.8l9.2 18.4h-18.4zM546.2 885.1l9.2 18.4h-18.4zM516.7 804.3l9.2 18.4h-18.4zM588.3 828.2l9.2 18.4h-18.4zM533.1 900.1l9.2 18.4h-18.4zM395.7 904.9l9.2 18.4h-18.4zM481.9 955.4l9.2 18.4h-18.4zM515.2 919.6l9.2 18.4h-18.4zM358.2 942.3l9.2 18.4h-18.4zM579.0 840.3l9.2 18.4h-18.4z"/><path fill="#4273b3" d="M563.2 863.4l9.2 18.4h-18.4zM458.4 850.7l9.2 18.4h-18.4zM547.5 883.2l9.2 18.4h-18.4zM290.8 1123.5l9.2 18.4h-18.4zM296.9 1019.9l9.2 18.4h-18.4zM313.9 996.5l9.2 18.4h-18.4zM369.5 930.4l9.2 18.4h-18.4zM458.2 978.7l9.2 18.4h-18.4zM568.7 855.1l9.2 18.4h-18.4zM551.6 780.4l9.2 18.4h-18.4zM614.3 763.4l9.2 18.4h-18.4zM582.8 834.5l9.2 18.4h-18.4zM491.9 944.4l9.2 18.4h-18.4zM398.6 902.6l9.2 18.4h-18.4zM530.2 902.7l9.2 18.4h-18.4zM480.5 832.5l9.2 18.4h-18.4zM557.6 869.9l9.2 18.4h-18.4zM560.6 865.9l9.2 18.4h-18.4zM321.5 986.6l9.2 18.4h-18.4zM611.3 760.0l9.2 18.4h-18.4zM376.2 1055.2l9.2 18.4h-18.4zM381.5 918.5l9.2 18.4h-18.4zM596.2 814.6l9.2 18.4h-18.4zM420.0 883.8l9.2 18.4h-18.4zM513.1 921.0l9.2 18.4h-18.4zM482.3 954.3l9.2 18.4h-18.4zM576.9 841.1l9.2 18.4h-18.4zM580.2 836.8l9.2 18.4h-18.4zM526.6 906.1l9.2 18.4h-18.4zM560.1 775.7l9.2 18.4h-18.4zM421.7 882.7l9.2 18.4h-18.4zM410.7 892.3l9.2 18.4h-18.4zM569.4 852.7l9.2 18.4h-18.4zM501.1 933.6l9.2 18.4h-18.4zM351.7 950.3l9.2 18.4h-18.4zM538.6 892.4l9.2 18.4h-18.4zM403.9 898.4l9.2 18.4h-18.4zM554.1 873.5l9.2 18.4h-18.4zM607.0 759.5l9.2 18.4h-18.4zM570.7 850.6l9.2 18.4h-18.4zM583.0 832.6l9.2 18.4h-18.4zM427.8 877.6l9.2 18.4h-18.4zM448.7 860.0l9.2 18.4h-18.4zM476.5 836.5l9.2 18.4h-18.4zM552.9 875.0l9.2 18.4h-18.4zM475.8 837.1l9.2 18.4h-18.4zM596.4 759.0l9.2 18.4h-18.4zM506.4 927.5l9.2 18.4h-18.4zM462.1 848.7l9.2 18.4h-18.4zM413.7 889.9l9.2 18.4h-18.4zM611.8 772.2l9.2 18.4h-18.4zM521.7 911.0l9.2 18.4h-18.4zM572.6 847.1l9.2 18.4h-18.4zM424.4 880.8l9.2 18.4h-18.4zM526.7 905.3l9.2 18.4h-18.4zM564.9 858.3l9.2 18.4h-18.4zM309.1 1004.0l9.2 18.4h-18.4zM417.1 1020.0l9.2 18.4h-18.4zM435.6 871.7l9.2 18.4h-18.4zM464.1 847.4l9.2 18.4h-18.4zM486.7 948.7l9.2 18.4h-18.4zM261.1 1076.4l9.2 18.4h-18.4zM367.1 1061.4l9.2 18.4h-18.4zM592.8 816.5l9.2 18.4h-18.4zM479.4 956.3l9.2 18.4h-18.4zM405.7 1031.4l9.2 18.4h-18.4zM366.3 935.1l9.2 18.4h-18.4zM401.1 901.6l9.2 18.4h-18.4zM568.3 772.2l9.2 18.4h-18.4zM519.2 913.2l9.2 18.4h-18.4zM460.9 974.8l9.2 18.4h-18.4zM516.1 807.2l9.2 18.4h-18.4zM315.5 995.6l9.2 18.4h-18.4zM527.4 799.9l9.2 18.4h-18.4zM292.2 1027.6l9.2 18.4h-18.4zM572.6 845.7l9.2 18.4h-18.4zM296.2 1117.9l9.2 18.4h-18.4zM609.4 776.9l9.2 18.4h-18.4zM566.3 855.3l9.2 18.4h-18.4zM469.9 842.9l9.2 18.4h-18.4zM466.6 845.7l9.2 18.4h-18.4zM606.1 789.3l9.2 18.4h-18.4zM556.4 868.9l9.2 18.4h-18.4zM302.2 1013.9l9.2 18.4h-18.4zM379.8 1051.8l9.2 18.4h-18.4zM444.9 864.6l9.2 18.4h-18.4zM384.8 916.8l9.2 18.4h-18.4zM314.2 997.6l9.2 18.4h-18.4zM546.8 787.1l9.2 18.4h-18.4zM454.7 980.5l9.2 18.4h-18.4zM517.0 914.8l9.2 18.4h-18.4zM508.5 924.0l9.2 18.4h-18.4zM524.6 906.5l9.2 18.4h-18.4zM265.6 1067.8l9.2 18.4h-18.4zM584.0 766.0l9.2 18.4h-18.4zM401.4 1035.2l9.2 18.4h-18.4zM472.5 841.2l9.2 18.4h-18.4zM570.3 848.0l9.2 18.4h-18.4zM494.9 938.9l9.2 18.4h-18.4zM331.9 974.4l9.2 18.4h-18.4zM482.6 833.1l9.2 18.4h-18.4zM581.6 830.8l9.2 18.4h-18.4zM606.4 782.6l9.2 18.4h-18.4zM285.5 1037.6l9.2 18.4h-18.4zM578.0 835.6l9.2 18.4h-18.4zM601.8 765.7l9.2 18.4h-18.4zM577.4 836.3l9.2 18.4h-18.4zM552.7 872.6l9.2 18.4h-18.4zM337.0 968.3l9.2 18.4h-18.4zM456.2 855.3l9.2 18.4h-18.4zM505.8 926.4l9.2 18.4h-18.4zM410.7 1025.7l9.2 18.4h-18.4zM396.0 1039.2l9.2 18.4h-18.4zM558.4 864.8l9.2 18.4h-18.4zM368.2 933.9l9.2 18.4h-18.4zM342.9 961.7l9.2 18.4h-18.4zM428.1 1007.8l9.2 18.4h-18.4zM470.7 843.3l9.2 18.4h-18.4zM489.2 944.8l9.2 18.4h-18.4zM507.1 814.9l9.2 18.4h-18.4zM546.7 879.7l9.2 18.4h-18.4zM530.6 898.8l9.2 18.4h-18.4zM580.9 830.4l9.2 18.4h-18.4zM324.9 984.0l9.2 18.4h-18.4zM492.7 940.8l9.2 18.4h-18.4zM472.8 841.7l9.2 18.4h-18.4zM497.9 934.9l9.2 18.4h-18.4zM596.9 803.8l9.2 18.4h-18.4zM381.4 920.8l9.2 18.4h-18.4zM572.3 842.9l9.2 18.4h-18.4zM596.7 766.5l9.2 18.4h-18.4zM581.5 769.1l9.2 18.4h-18.4zM340.4 964.9l9.2 18.4h-18.4zM603.1 773.8l9.2 18.4h-18.4zM502.2 929.6l9.2 18.4h-18.4zM552.9 784.9l9.2 18.4h-18.4zM532.6 896.0l9.2 18.4h-18.4zM537.3 890.5l9.2 18.4h-18.4zM394.0 1040.5l9.2 18.4h-18.4zM428.5 879.3l9.2 18.4h-18.4zM591.3 767.3l9.2 18.4h-18.4zM539.2 794.5l9.2 18.4h-18.4zM575.6 772.1l9.2 18.4h-18.4zM356.8 946.7l9.2 18.4h-18.4zM570.3 845.3l9.2 18.4h-18.4zM387.7 915.4l9.2 18.4h-18.4zM364.0 1063.0l9.2 18.4h-18.4zM536.8 796.3l9.2 18.4h-18.4zM596.8 802.2l9.2 18.4h-18.4zM497.7 822.6l9.2 18.4h-18.4zM528.8 900.2l9.2 18.4h-18.4zM562.2 858.0l9.2 18.4h-18.4zM511.5 919.4l9.2 18.4h-18.4zM403.1 901.5l9.2 18.4h-18.4zM411.7 1024.2l9.2 18.4h-18.4z"/><path fill="#3f77b5" d="M460.9 852.4l9.2 18.4h-18.4zM396.5 907.4l9.2 18.4h-18.4zM448.2 863.3l9.2 18.4h-18.4zM486.3 947.1l9.2 18.4h-18.4zM407.2 897.9l9.2 18.4h-18.4zM323.0 987.0l9.2 18.4h-18.4zM472.9 961.2l9.2 18.4h-18.4zM494.6 825.2l9.2 18.4h-18.4zM548.2 876.6l9.2 18.4h-18.4zM267.0 1066.2l9.2 18.4h-18.4zM543.6 882.2l9.2 18.4h-18.4zM455.0 857.6l9.2 18.4h-18.4zM486.0 832.0l9.2 18.4h-18.4zM441.0 869.6l9.2 18.4h-18.4zM595.8 770.0l9.2 18.4h-18.4zM466.5 847.9l9.2 18.4h-18.4zM299.0 1019.5l9.2 18.4h-18.4zM377.9 924.9l9.2 18.4h-18.4zM386.8 1045.8l9.2 18.4h-18.4zM575.4 835.5l9.2 18.4h-18.4zM510.3 920.1l9.2 18.4h-18.4zM599.4 774.8l9.2 18.4h-18.4zM449.9 983.7l9.2 18.4h-18.4zM600.7 780.0l9.2 18.4h-18.4zM444.0 867.5l9.2 18.4h-18.4zM556.6 864.7l9.2 18.4h-18.4zM437.9 996.4l9.2 18.4h-18.4zM513.9 916.0l9.2 18.4h-18.4zM418.7 1016.7l9.2 18.4h-18.4zM463.8 970.0l9.2 18.4h-18.4zM455.0 978.7l9.2 18.4h-18.4zM334.9 972.0l9.2 18.4h-18.4zM272.1 1058.7l9.2 18.4h-18.4zM363.8 939.9l9.2 18.4h-18.4zM476.6 840.1l9.2 18.4h-18.4zM431.3 877.9l9.2 18.4h-18.4zM579.8 828.0l9.2 18.4h-18.4zM558.9 860.9l9.2 18.4h-18.4zM484.4 833.9l9.2 18.4h-18.4zM534.1 892.7l9.2 18.4h-18.4zM586.4 817.1l9.2 18.4h-18.4zM534.7 891.9l9.2 18.4h-18.4zM489.5 942.7l9.2 18.4h-18.4zM481.0 836.9l9.2 18.4h-18.4zM589.1 812.1l9.2 18.4h-18.4zM539.9 885.5l9.2 18.4h-18.4zM390.3 1042.8l9.2 18.4h-18.4zM348.4 957.0l9.2 18.4h-18.4zM589.2 772.2l9.2 18.4h-18.4zM372.5 931.1l9.2 18.4h-18.4zM289.1 1033.8l9.2 18.4h-18.4zM430.0 1004.6l9.2 18.4h-18.4zM565.0 851.0l9.2 18.4h-18.4zM559.1 860.0l9.2 18.4h-18.4zM514.6 812.1l9.2 18.4h-18.4zM374.2 1054.9l9.2 18.4h-18.4zM524.1 903.9l9.2 18.4h-18.4zM370.6 1057.6l9.2 18.4h-18.4zM392.1 1041.3l9.2 18.4h-18.4zM558.6 784.3l9.2 18.4h-18.4zM570.9 840.3l9.2 18.4h-18.4zM386.3 917.8l9.2 18.4h-18.4zM526.1 901.3l9.2 18.4h-18.4zM561.6 855.8l9.2 18.4h-18.4zM451.9 861.5l9.2 18.4h-18.4zM596.0 793.7l9.2 18.4h-18.4zM574.0 834.8l9.2 18.4h-18.4zM569.1 779.1l9.2 18.4h-18.4zM471.5 961.5l9.2 18.4h-18.4zM466.5 966.5l9.2 18.4h-18.4zM576.9 830.2l9.2 18.4h-18.4zM571.1 839.1l9.2 18.4h-18.4zM531.2 895.2l9.2 18.4h-18.4zM401.4 904.4l9.2 18.4h-18.4zM577.4 776.2l9.2 18.4h-18.4zM536.7 888.5l9.2 18.4h-18.4zM596.1 784.5l9.2 18.4h-18.4zM540.2 884.1l9.2 18.4h-18.4zM319.7 992.6l9.2 18.4h-18.4zM448.0 984.6l9.2 18.4h-18.4zM379.8 924.4l9.2 18.4h-18.4zM518.6 909.3l9.2 18.4h-18.4zM441.5 991.5l9.2 18.4h-18.4zM355.5 949.7l9.2 18.4h-18.4zM542.8 880.6l9.2 18.4h-18.4zM435.3 998.3l9.2 18.4h-18.4zM525.6 806.1l9.2 18.4h-18.4zM420.0 888.4l9.2 18.4h-18.4zM496.8 933.4l9.2 18.4h-18.4zM261.2 1078.6l9.2 18.4h-18.4zM308.7 1007.4l9.2 18.4h-18.4zM442.3 870.3l9.2 18.4h-18.4zM484.2 835.5l9.2 18.4h-18.4zM306.0 1011.0l9.2 18.4h-18.4zM520.7 809.4l9.2 18.4h-18.4zM302.0 1016.6l9.2 18.4h-18.4zM589.6 778.2l9.2 18.4h-18.4zM460.2 855.3l9.2 18.4h-18.4zM441.1 871.5l9.2 18.4h-18.4zM364.3 940.6l9.2 18.4h-18.4zM351.2 954.8l9.2 18.4h-18.4zM407.1 1027.5l9.2 18.4h-18.4zM340.4 966.8l9.2 18.4h-18.4zM516.3 911.2l9.2 18.4h-18.4zM546.2 875.4l9.2 18.4h-18.4zM549.4 871.2l9.2 18.4h-18.4zM332.1 977.0l9.2 18.4h-18.4zM398.6 1035.6l9.2 18.4h-18.4zM345.8 960.9l9.2 18.4h-18.4zM451.3 863.1l9.2 18.4h-18.4zM582.2 777.9l9.2 18.4h-18.4zM564.0 849.4l9.2 18.4h-18.4zM498.2 931.2l9.2 18.4h-18.4zM592.3 793.7l9.2 18.4h-18.4zM335.2 1082.1l9.2 18.4h-18.4zM549.9 870.1l9.2 18.4h-18.4zM413.1 1021.3l9.2 18.4h-18.4zM368.4 936.6l9.2 18.4h-18.4zM546.5 794.4l9.2 18.4h-18.4zM469.5 962.5l9.2 18.4h-18.4zM465.1 967.0l9.2 18.4h-18.4zM443.8 988.4l9.2 18.4h-18.4zM427.1 1006.7l9.2 18.4h-18.4zM296.5 1024.4l9.2 18.4h-18.4zM468.5 963.6l9.2 18.4h-18.4zM588.1 805.7l9.2 18.4h-18.4zM478.4 840.8l9.2 18.4h-18.4zM415.3 893.1l9.2 18.4h-18.4zM570.7 836.1l9.2 18.4h-18.4zM489.1 832.4l9.2 18.4h-18.4zM561.2 853.4l9.2 18.4h-18.4zM278.9 1049.4l9.2 18.4h-18.4zM541.7 880.6l9.2 18.4h-18.4zM345.0 962.1l9.2 18.4h-18.4zM591.3 788.1l9.2 18.4h-18.4zM571.3 834.7l9.2 18.4h-18.4zM422.2 887.4l9.2 18.4h-18.4zM473.6 958.0l9.2 18.4h-18.4zM431.2 1002.1l9.2 18.4h-18.4zM356.6 1067.3l9.2 18.4h-18.4zM543.3 797.3l9.2 18.4h-18.4zM523.7 902.1l9.2 18.4h-18.4zM563.1 849.6l9.2 18.4h-18.4zM393.5 912.7l9.2 18.4h-18.4zM534.5 802.9l9.2 18.4h-18.4zM410.7 897.5l9.2 18.4h-18.4zM585.8 781.4l9.2 18.4h-18.4zM494.7 934.6l9.2 18.4h-18.4zM435.9 876.4l9.2 18.4h-18.4zM426.9 883.8l9.2 18.4h-18.4zM382.8 1047.6l9.2 18.4h-18.4zM419.6 890.0l9.2 18.4h-18.4zM338.3 969.9l9.2 18.4h-18.4zM588.6 799.4l9.2 18.4h-18.4zM584.7 809.9l9.2 18.4h-18.4zM446.2 868.3l9.2 18.4h-18.4zM573.7 829.6l9.2 18.4h-18.4zM487.5 834.4l9.2 18.4h-18.4zM360.8 945.2l9.2 18.4h-18.4zM557.3 789.4l9.2 18.4h-18.4zM436.3 996.2l9.2 18.4h-18.4z"/><path fill="#3a7eb8" d="M498.2 826.4l9.2 18.4h-18.4zM558.3 856.4l9.2 18.4h-18.4zM554.2 862.5l9.2 18.4h-18.4zM567.3 840.7l9.2 18.4h-18.4zM564.4 846.1l9.2 18.4h-18.4zM490.5 832.3l9.2 18.4h-18.4zM433.5 999.1l9.2 18.4h-18.4zM481.6 948.9l9.2 18.4h-18.4zM476.6 954.2l9.2 18.4h-18.4zM421.9 1011.5l9.2 18.4h-18.4zM568.1 838.5l9.2 18.4h-18.4zM526.3 898.1l9.2 18.4h-18.4zM574.6 827.0l9.2 18.4h-18.4zM281.3 1046.2l9.2 18.4h-18.4zM455.5 860.8l9.2 18.4h-18.4zM329.0 982.0l9.2 18.4h-18.4zM499.1 928.4l9.2 18.4h-18.4zM429.6 882.3l9.2 18.4h-18.4zM388.9 917.8l9.2 18.4h-18.4zM555.9 858.5l9.2 18.4h-18.4zM408.4 900.4l9.2 18.4h-18.4zM551.1 865.6l9.2 18.4h-18.4zM465.0 853.3l9.2 18.4h-18.4zM476.9 843.8l9.2 18.4h-18.4zM524.9 809.9l9.2 18.4h-18.4zM474.3 845.9l9.2 18.4h-18.4zM584.8 796.1l9.2 18.4h-18.4zM501.1 925.5l9.2 18.4h-18.4zM463.5 854.9l9.2 18.4h-18.4zM573.0 786.5l9.2 18.4h-18.4zM569.0 787.6l9.2 18.4h-18.4zM298.7 1022.5l9.2 18.4h-18.4zM524.9 898.4l9.2 18.4h-18.4zM582.7 790.9l9.2 18.4h-18.4zM472.5 847.7l9.2 18.4h-18.4zM288.3 1123.5l9.2 18.4h-18.4zM384.3 922.5l9.2 18.4h-18.4zM401.4 907.0l9.2 18.4h-18.4zM528.3 894.1l9.2 18.4h-18.4zM452.1 864.8l9.2 18.4h-18.4zM520.2 903.7l9.2 18.4h-18.4zM558.9 852.1l9.2 18.4h-18.4zM295.8 1026.7l9.2 18.4h-18.4zM570.2 829.9l9.2 18.4h-18.4zM530.6 891.2l9.2 18.4h-18.4zM490.4 834.1l9.2 18.4h-18.4zM484.1 838.9l9.2 18.4h-18.4zM536.3 884.1l9.2 18.4h-18.4zM396.5 911.7l9.2 18.4h-18.4zM449.8 867.0l9.2 18.4h-18.4zM458.0 860.1l9.2 18.4h-18.4zM506.5 822.5l9.2 18.4h-18.4zM574.8 788.8l9.2 18.4h-18.4zM424.2 1008.2l9.2 18.4h-18.4zM564.8 790.7l9.2 18.4h-18.4zM391.3 916.4l9.2 18.4h-18.4zM538.2 881.4l9.2 18.4h-18.4zM320.7 993.6l9.2 18.4h-18.4zM358.2 1065.4l9.2 18.4h-18.4zM360.4 947.0l9.2 18.4h-18.4zM564.8 840.1l9.2 18.4h-18.4zM444.2 871.9l9.2 18.4h-18.4zM460.8 969.3l9.2 18.4h-18.4zM567.4 833.9l9.2 18.4h-18.4zM414.2 1018.6l9.2 18.4h-18.4zM492.5 934.8l9.2 18.4h-18.4zM363.0 944.4l9.2 18.4h-18.4zM549.0 866.4l9.2 18.4h-18.4zM505.0 920.3l9.2 18.4h-18.4zM356.6 1066.6l9.2 18.4h-18.4zM549.7 798.2l9.2 18.4h-18.4zM456.2 973.9l9.2 18.4h-18.4zM544.0 873.1l9.2 18.4h-18.4zM414.2 896.4l9.2 18.4h-18.4zM514.1 909.8l9.2 18.4h-18.4zM580.0 802.6l9.2 18.4h-18.4zM559.7 848.9l9.2 18.4h-18.4zM294.0 1029.5l9.2 18.4h-18.4zM575.2 817.2l9.2 18.4h-18.4zM507.8 916.8l9.2 18.4h-18.4zM566.6 833.7l9.2 18.4h-18.4zM347.4 1073.0l9.2 18.4h-18.4zM291.7 1032.7l9.2 18.4h-18.4zM434.2 880.1l9.2 18.4h-18.4zM546.6 869.0l9.2 18.4h-18.4zM315.0 1001.5l9.2 18.4h-18.4zM496.1 830.8l9.2 18.4h-18.4zM577.1 811.7l9.2 18.4h-18.4zM566.9 832.3l9.2 18.4h-18.4zM370.2 1056.3l9.2 18.4h-18.4zM427.0 886.0l9.2 18.4h-18.4zM570.7 791.9l9.2 18.4h-18.4zM502.9 826.0l9.2 18.4h-18.4zM483.2 840.5l9.2 18.4h-18.4zM404.1 905.6l9.2 18.4h-18.4zM561.4 844.7l9.2 18.4h-18.4zM421.7 890.5l9.2 18.4h-18.4zM532.7 887.1l9.2 18.4h-18.4zM546.0 869.4l9.2 18.4h-18.4zM286.8 1039.6l9.2 18.4h-18.4zM335.1 975.9l9.2 18.4h-18.4zM564.4 837.6l9.2 18.4h-18.4zM450.0 979.6l9.2 18.4h-18.4zM516.7 906.2l9.2 18.4h-18.4zM473.3 848.7l9.2 18.4h-18.4zM402.9 906.9l9.2 18.4h-18.4zM550.0 863.1l9.2 18.4h-18.4zM377.7 930.0l9.2 18.4h-18.4zM469.1 852.2l9.2 18.4h-18.4zM562.2 841.7l9.2 18.4h-18.4zM371.4 936.5l9.2 18.4h-18.4zM499.6 925.1l9.2 18.4h-18.4zM575.7 799.8l9.2 18.4h-18.4zM462.9 857.4l9.2 18.4h-18.4zM465.5 963.5l9.2 18.4h-18.4zM354.5 954.4l9.2 18.4h-18.4zM558.0 797.2l9.2 18.4h-18.4zM307.5 1011.9l9.2 18.4h-18.4zM364.8 943.5l9.2 18.4h-18.4z"/><path fill="#3585bb" d="M467.5 853.9l9.2 18.4h-18.4zM509.2 914.1l9.2 18.4h-18.4zM559.6 845.9l9.2 18.4h-18.4zM567.2 828.2l9.2 18.4h-18.4zM553.3 856.9l9.2 18.4h-18.4zM570.9 796.3l9.2 18.4h-18.4zM482.4 842.1l9.2 18.4h-18.4zM484.2 840.8l9.2 18.4h-18.4zM562.6 839.2l9.2 18.4h-18.4zM352.3 957.0l9.2 18.4h-18.4zM327.7 985.7l9.2 18.4h-18.4zM310.2 1008.5l9.2 18.4h-18.4zM571.4 818.3l9.2 18.4h-18.4zM483.8 943.3l9.2 18.4h-18.4zM548.5 864.0l9.2 18.4h-18.4zM541.0 874.7l9.2 18.4h-18.4zM555.4 852.9l9.2 18.4h-18.4zM348.4 961.3l9.2 18.4h-18.4zM414.8 1017.0l9.2 18.4h-18.4zM375.6 932.8l9.2 18.4h-18.4zM573.4 808.4l9.2 18.4h-18.4zM451.6 977.3l9.2 18.4h-18.4zM438.1 991.6l9.2 18.4h-18.4zM393.8 915.8l9.2 18.4h-18.4zM521.5 899.2l9.2 18.4h-18.4zM563.2 836.0l9.2 18.4h-18.4zM561.6 839.8l9.2 18.4h-18.4zM542.4 806.3l9.2 18.4h-18.4zM557.7 847.8l9.2 18.4h-18.4zM440.2 876.8l9.2 18.4h-18.4zM435.7 880.3l9.2 18.4h-18.4zM450.8 868.4l9.2 18.4h-18.4zM382.6 926.1l9.2 18.4h-18.4zM497.3 831.8l9.2 18.4h-18.4zM460.8 860.1l9.2 18.4h-18.4zM571.5 802.7l9.2 18.4h-18.4zM338.1 973.1l9.2 18.4h-18.4zM538.3 877.6l9.2 18.4h-18.4zM478.3 949.0l9.2 18.4h-18.4zM495.1 833.4l9.2 18.4h-18.4zM551.4 858.4l9.2 18.4h-18.4zM559.0 799.9l9.2 18.4h-18.4zM531.3 886.4l9.2 18.4h-18.4zM546.1 866.2l9.2 18.4h-18.4zM482.2 843.2l9.2 18.4h-18.4zM556.2 849.7l9.2 18.4h-18.4zM406.7 1024.9l9.2 18.4h-18.4zM540.7 873.9l9.2 18.4h-18.4zM552.3 856.4l9.2 18.4h-18.4zM502.1 920.9l9.2 18.4h-18.4zM326.5 987.8l9.2 18.4h-18.4zM490.1 837.4l9.2 18.4h-18.4zM332.3 980.6l9.2 18.4h-18.4zM472.2 851.2l9.2 18.4h-18.4zM388.7 920.9l9.2 18.4h-18.4zM516.4 904.4l9.2 18.4h-18.4zM397.7 1033.9l9.2 18.4h-18.4zM475.9 848.4l9.2 18.4h-18.4zM315.7 1001.8l9.2 18.4h-18.4zM487.8 937.8l9.2 18.4h-18.4zM335.9 976.2l9.2 18.4h-18.4zM426.9 1003.5l9.2 18.4h-18.4zM549.9 804.4l9.2 18.4h-18.4zM339.9 971.4l9.2 18.4h-18.4zM368.1 941.1l9.2 18.4h-18.4zM475.8 951.2l9.2 18.4h-18.4zM511.3 823.2l9.2 18.4h-18.4zM428.9 1001.2l9.2 18.4h-18.4zM480.0 946.4l9.2 18.4h-18.4zM563.1 830.2l9.2 18.4h-18.4zM558.4 843.3l9.2 18.4h-18.4zM501.1 830.2l9.2 18.4h-18.4zM418.7 1012.1l9.2 18.4h-18.4zM470.7 956.5l9.2 18.4h-18.4zM485.6 939.9l9.2 18.4h-18.4zM312.4 1006.4l9.2 18.4h-18.4zM490.8 837.6l9.2 18.4h-18.4zM474.3 952.5l9.2 18.4h-18.4zM504.5 917.4l9.2 18.4h-18.4zM538.3 810.0l9.2 18.4h-18.4zM275.2 1057.9l9.2 18.4h-18.4zM511.2 909.7l9.2 18.4h-18.4zM321.1 1091.7l9.2 18.4h-18.4zM494.4 835.3l9.2 18.4h-18.4zM391.2 1038.8l9.2 18.4h-18.4zM456.5 865.0l9.2 18.4h-18.4zM406.0 1025.1l9.2 18.4h-18.4zM495.5 927.7l9.2 18.4h-18.4zM533.3 882.2l9.2 18.4h-18.4zM447.6 872.4l9.2 18.4h-18.4zM524.7 893.2l9.2 18.4h-18.4zM534.9 880.0l9.2 18.4h-18.4zM566.2 811.3l9.2 18.4h-18.4zM396.4 914.8l9.2 18.4h-18.4zM528.3 888.4l9.2 18.4h-18.4zM466.3 960.8l9.2 18.4h-18.4zM489.5 934.7l9.2 18.4h-18.4zM383.4 1045.0l9.2 18.4h-18.4zM541.7 870.2l9.2 18.4h-18.4zM389.4 921.0l9.2 18.4h-18.4zM419.9 894.5l9.2 18.4h-18.4zM406.9 905.6l9.2 18.4h-18.4zM318.0 999.6l9.2 18.4h-18.4zM554.2 806.1l9.2 18.4h-18.4zM556.9 843.8l9.2 18.4h-18.4zM558.0 841.0l9.2 18.4h-18.4zM445.3 874.6l9.2 18.4h-18.4zM360.4 1062.7l9.2 18.4h-18.4zM370.7 939.3l9.2 18.4h-18.4zM418.4 896.0l9.2 18.4h-18.4zM484.1 843.5l9.2 18.4h-18.4zM461.7 861.2l9.2 18.4h-18.4zM380.6 929.5l9.2 18.4h-18.4zM270.8 1064.7l9.2 18.4h-18.4zM559.2 836.6l9.2 18.4h-18.4zM560.0 807.6l9.2 18.4h-18.4zM526.7 889.8l9.2 18.4h-18.4zM410.9 902.4l9.2 18.4h-18.4zM552.2 852.2l9.2 18.4h-18.4zM496.0 926.2l9.2 18.4h-18.4zM521.8 818.8l9.2 18.4h-18.4zM280.5 1050.4l9.2 18.4h-18.4zM539.1 872.9l9.2 18.4h-18.4zM442.9 984.3l9.2 18.4h-18.4zM531.5 883.2l9.2 18.4h-18.4zM478.5 848.3l9.2 18.4h-18.4zM560.2 830.0l9.2 18.4h-18.4zM561.0 824.6l9.2 18.4h-18.4zM460.3 966.4l9.2 18.4h-18.4z"/><path fill="#3389bd" d="M470.1 855.0l9.2 18.4h-18.4zM479.2 848.0l9.2 18.4h-18.4zM558.3 836.5l9.2 18.4h-18.4zM548.4 857.6l9.2 18.4h-18.4zM559.0 833.4l9.2 18.4h-18.4zM426.4 890.0l9.2 18.4h-18.4zM287.5 1122.9l9.2 18.4h-18.4zM560.9 822.1l9.2 18.4h-18.4zM554.6 809.5l9.2 18.4h-18.4zM503.6 916.7l9.2 18.4h-18.4zM488.6 841.0l9.2 18.4h-18.4zM549.1 856.3l9.2 18.4h-18.4zM438.2 989.5l9.2 18.4h-18.4zM559.3 812.3l9.2 18.4h-18.4zM432.7 995.7l9.2 18.4h-18.4zM323.9 992.6l9.2 18.4h-18.4zM375.1 1051.0l9.2 18.4h-18.4zM298.4 1026.0l9.2 18.4h-18.4zM422.7 1006.8l9.2 18.4h-18.4zM345.4 966.8l9.2 18.4h-18.4zM304.1 1018.4l9.2 18.4h-18.4zM455.3 971.3l9.2 18.4h-18.4zM357.5 953.7l9.2 18.4h-18.4zM517.4 900.1l9.2 18.4h-18.4zM482.1 942.0l9.2 18.4h-18.4zM444.2 876.5l9.2 18.4h-18.4zM492.9 929.1l9.2 18.4h-18.4zM497.6 923.1l9.2 18.4h-18.4zM438.3 881.1l9.2 18.4h-18.4zM394.1 1035.6l9.2 18.4h-18.4zM553.8 845.3l9.2 18.4h-18.4zM489.4 933.1l9.2 18.4h-18.4zM361.3 949.9l9.2 18.4h-18.4zM474.8 852.2l9.2 18.4h-18.4zM376.9 1049.4l9.2 18.4h-18.4zM511.6 906.7l9.2 18.4h-18.4zM394.7 1035.1l9.2 18.4h-18.4zM520.0 896.5l9.2 18.4h-18.4zM523.6 891.8l9.2 18.4h-18.4zM513.5 904.2l9.2 18.4h-18.4zM452.6 870.2l9.2 18.4h-18.4zM468.9 956.5l9.2 18.4h-18.4zM277.8 1055.0l9.2 18.4h-18.4zM556.7 817.2l9.2 18.4h-18.4zM551.9 848.3l9.2 18.4h-18.4zM498.8 834.8l9.2 18.4h-18.4zM434.3 884.5l9.2 18.4h-18.4zM505.7 913.1l9.2 18.4h-18.4zM403.7 909.9l9.2 18.4h-18.4zM543.6 863.1l9.2 18.4h-18.4zM478.6 945.5l9.2 18.4h-18.4zM463.1 861.9l9.2 18.4h-18.4zM420.8 895.5l9.2 18.4h-18.4zM289.1 1039.0l9.2 18.4h-18.4zM490.9 930.7l9.2 18.4h-18.4zM428.7 889.1l9.2 18.4h-18.4zM506.3 912.2l9.2 18.4h-18.4zM279.3 1053.0l9.2 18.4h-18.4zM392.6 919.9l9.2 18.4h-18.4zM555.7 836.7l9.2 18.4h-18.4zM505.7 830.7l9.2 18.4h-18.4zM434.0 885.0l9.2 18.4h-18.4zM429.8 888.3l9.2 18.4h-18.4zM306.4 1015.9l9.2 18.4h-18.4zM521.1 894.2l9.2 18.4h-18.4zM372.9 1052.4l9.2 18.4h-18.4zM360.7 951.0l9.2 18.4h-18.4zM452.6 973.3l9.2 18.4h-18.4zM538.6 870.3l9.2 18.4h-18.4zM533.8 816.5l9.2 18.4h-18.4zM535.4 816.0l9.2 18.4h-18.4zM546.4 814.8l9.2 18.4h-18.4zM553.6 842.2l9.2 18.4h-18.4zM526.1 819.6l9.2 18.4h-18.4zM486.2 844.5l9.2 18.4h-18.4zM545.0 859.6l9.2 18.4h-18.4zM540.8 866.5l9.2 18.4h-18.4zM322.8 994.9l9.2 18.4h-18.4zM445.5 980.4l9.2 18.4h-18.4zM496.7 837.1l9.2 18.4h-18.4zM491.6 840.7l9.2 18.4h-18.4zM408.3 906.4l9.2 18.4h-18.4zM450.6 975.2l9.2 18.4h-18.4zM384.5 927.5l9.2 18.4h-18.4zM549.7 850.3l9.2 18.4h-18.4zM437.2 989.5l9.2 18.4h-18.4zM415.6 900.4l9.2 18.4h-18.4zM472.0 952.3l9.2 18.4h-18.4zM337.2 977.0l9.2 18.4h-18.4zM551.7 845.4l9.2 18.4h-18.4zM508.2 909.2l9.2 18.4h-18.4zM554.9 834.6l9.2 18.4h-18.4zM466.5 860.0l9.2 18.4h-18.4zM555.2 831.3l9.2 18.4h-18.4zM364.5 1058.7l9.2 18.4h-18.4zM386.7 925.7l9.2 18.4h-18.4zM340.5 1076.3l9.2 18.4h-18.4zM493.4 926.6l9.2 18.4h-18.4zM483.2 939.2l9.2 18.4h-18.4zM497.6 837.1l9.2 18.4h-18.4zM554.9 829.2l9.2 18.4h-18.4zM486.3 935.4l9.2 18.4h-18.4zM513.7 902.1l9.2 18.4h-18.4zM347.3 965.9l9.2 18.4h-18.4zM333.6 981.8l9.2 18.4h-18.4zM433.9 886.0l9.2 18.4h-18.4zM549.5 818.8l9.2 18.4h-18.4zM347.9 965.4l9.2 18.4h-18.4zM340.5 973.5l9.2 18.4h-18.4zM381.6 930.8l9.2 18.4h-18.4zM507.9 830.8l9.2 18.4h-18.4zM434.8 991.9l9.2 18.4h-18.4zM477.3 852.2l9.2 18.4h-18.4zM503.8 913.7l9.2 18.4h-18.4zM501.9 834.9l9.2 18.4h-18.4zM446.1 979.1l9.2 18.4h-18.4zM490.0 843.0l9.2 18.4h-18.4zM553.1 835.5l9.2 18.4h-18.4zM402.4 912.4l9.2 18.4h-18.4zM420.3 1007.9l9.2 18.4h-18.4z"/><path fill="#3990ba" d="M471.3 857.1l9.2 18.4h-18.4zM386.0 1041.3l9.2 18.4h-18.4zM267.2 1071.4l9.2 18.4h-18.4zM355.6 957.5l9.2 18.4h-18.4zM412.1 1016.6l9.2 18.4h-18.4zM397.3 917.0l9.2 18.4h-18.4zM400.3 1028.9l9.2 18.4h-18.4zM510.7 904.8l9.2 18.4h-18.4zM509.9 830.4l9.2 18.4h-18.4zM549.8 844.7l9.2 18.4h-18.4zM286.1 1044.0l9.2 18.4h-18.4zM552.5 829.8l9.2 18.4h-18.4zM450.8 873.9l9.2 18.4h-18.4zM544.0 819.0l9.2 18.4h-18.4zM484.2 847.7l9.2 18.4h-18.4zM551.2 839.7l9.2 18.4h-18.4zM496.5 921.3l9.2 18.4h-18.4zM350.5 963.2l9.2 18.4h-18.4zM344.6 1073.1l9.2 18.4h-18.4zM550.8 839.6l9.2 18.4h-18.4zM462.8 961.1l9.2 18.4h-18.4zM293.6 1116.6l9.2 18.4h-18.4zM316.2 1004.4l9.2 18.4h-18.4zM421.8 896.5l9.2 18.4h-18.4zM548.2 847.2l9.2 18.4h-18.4zM520.6 891.8l9.2 18.4h-18.4zM541.0 861.8l9.2 18.4h-18.4zM371.3 941.6l9.2 18.4h-18.4zM532.8 874.9l9.2 18.4h-18.4zM542.4 859.2l9.2 18.4h-18.4zM498.8 918.3l9.2 18.4h-18.4zM319.4 1000.4l9.2 18.4h-18.4zM538.9 865.1l9.2 18.4h-18.4zM308.9 1013.9l9.2 18.4h-18.4zM548.9 844.1l9.2 18.4h-18.4zM481.9 850.2l9.2 18.4h-18.4zM526.2 883.8l9.2 18.4h-18.4zM529.2 879.6l9.2 18.4h-18.4zM549.4 825.9l9.2 18.4h-18.4zM474.1 856.1l9.2 18.4h-18.4zM550.6 833.9l9.2 18.4h-18.4zM550.3 836.9l9.2 18.4h-18.4zM440.5 882.2l9.2 18.4h-18.4zM514.5 899.0l9.2 18.4h-18.4zM285.8 1123.5l9.2 18.4h-18.4zM332.0 984.8l9.2 18.4h-18.4zM461.2 962.3l9.2 18.4h-18.4zM353.1 960.8l9.2 18.4h-18.4zM545.1 852.1l9.2 18.4h-18.4zM515.8 828.6l9.2 18.4h-18.4zM489.0 845.3l9.2 18.4h-18.4zM456.1 870.5l9.2 18.4h-18.4zM492.1 843.2l9.2 18.4h-18.4zM496.9 840.0l9.2 18.4h-18.4zM456.1 967.6l9.2 18.4h-18.4zM505.8 834.4l9.2 18.4h-18.4zM361.7 951.9l9.2 18.4h-18.4zM440.9 983.4l9.2 18.4h-18.4zM497.6 839.7l9.2 18.4h-18.4zM417.1 1010.5l9.2 18.4h-18.4zM402.7 913.3l9.2 18.4h-18.4zM543.6 854.4l9.2 18.4h-18.4zM516.4 895.9l9.2 18.4h-18.4zM513.1 830.6l9.2 18.4h-18.4zM507.0 907.4l9.2 18.4h-18.4zM435.3 886.8l9.2 18.4h-18.4zM524.2 885.2l9.2 18.4h-18.4zM351.9 1067.4l9.2 18.4h-18.4zM532.7 872.6l9.2 18.4h-18.4zM418.9 900.0l9.2 18.4h-18.4zM499.1 839.4l9.2 18.4h-18.4zM424.7 895.3l9.2 18.4h-18.4zM452.4 874.3l9.2 18.4h-18.4zM442.6 881.5l9.2 18.4h-18.4zM367.3 946.6l9.2 18.4h-18.4zM547.9 838.5l9.2 18.4h-18.4zM461.3 867.2l9.2 18.4h-18.4zM414.3 1013.2l9.2 18.4h-18.4zM461.2 961.6l9.2 18.4h-18.4zM371.2 1052.5l9.2 18.4h-18.4zM546.2 844.4l9.2 18.4h-18.4zM546.7 842.2l9.2 18.4h-18.4zM547.5 834.4l9.2 18.4h-18.4zM546.3 829.5l9.2 18.4h-18.4zM509.4 833.6l9.2 18.4h-18.4zM423.8 896.3l9.2 18.4h-18.4zM450.1 876.5l9.2 18.4h-18.4zM303.4 1021.9l9.2 18.4h-18.4zM391.9 1035.5l9.2 18.4h-18.4zM511.3 832.6l9.2 18.4h-18.4zM517.1 829.7l9.2 18.4h-18.4zM507.6 905.7l9.2 18.4h-18.4zM377.9 936.4l9.2 18.4h-18.4zM526.7 880.4l9.2 18.4h-18.4zM516.2 894.8l9.2 18.4h-18.4zM500.6 914.1l9.2 18.4h-18.4zM529.8 875.8l9.2 18.4h-18.4zM308.6 1015.3l9.2 18.4h-18.4zM541.3 825.8l9.2 18.4h-18.4zM373.8 940.6l9.2 18.4h-18.4zM367.7 1055.1l9.2 18.4h-18.4zM505.7 836.3l9.2 18.4h-18.4zM545.9 832.2l9.2 18.4h-18.4zM393.7 922.1l9.2 18.4h-18.4zM406.0 1021.7l9.2 18.4h-18.4zM269.2 1069.6l9.2 18.4h-18.4z"/><path fill="#3f97b7" d="M510.4 901.7l9.2 18.4h-18.4zM545.6 833.3l9.2 18.4h-18.4zM545.2 842.6l9.2 18.4h-18.4zM501.7 839.1l9.2 18.4h-18.4zM536.6 863.1l9.2 18.4h-18.4zM478.2 941.4l9.2 18.4h-18.4zM539.7 857.0l9.2 18.4h-18.4zM544.8 835.5l9.2 18.4h-18.4zM428.2 997.1l9.2 18.4h-18.4zM532.7 869.4l9.2 18.4h-18.4zM413.1 905.9l9.2 18.4h-18.4zM542.8 848.5l9.2 18.4h-18.4zM482.1 936.5l9.2 18.4h-18.4zM507.9 836.0l9.2 18.4h-18.4zM544.6 839.5l9.2 18.4h-18.4zM430.2 994.7l9.2 18.4h-18.4zM523.4 828.8l9.2 18.4h-18.4zM486.8 849.6l9.2 18.4h-18.4zM541.9 830.2l9.2 18.4h-18.4zM541.3 851.8l9.2 18.4h-18.4zM355.9 959.4l9.2 18.4h-18.4zM451.1 971.4l9.2 18.4h-18.4zM467.6 953.3l9.2 18.4h-18.4zM455.8 873.1l9.2 18.4h-18.4zM489.3 927.1l9.2 18.4h-18.4zM497.6 842.6l9.2 18.4h-18.4zM473.6 946.4l9.2 18.4h-18.4zM452.8 969.5l9.2 18.4h-18.4zM313.9 1009.2l9.2 18.4h-18.4zM503.8 908.7l9.2 18.4h-18.4zM430.6 892.1l9.2 18.4h-18.4zM501.9 840.2l9.2 18.4h-18.4zM477.0 857.0l9.2 18.4h-18.4zM443.8 882.4l9.2 18.4h-18.4zM527.1 828.9l9.2 18.4h-18.4zM378.3 1046.1l9.2 18.4h-18.4zM470.7 949.4l9.2 18.4h-18.4zM542.0 834.6l9.2 18.4h-18.4zM345.3 971.1l9.2 18.4h-18.4zM508.2 836.9l9.2 18.4h-18.4zM441.3 981.1l9.2 18.4h-18.4zM523.0 882.5l9.2 18.4h-18.4zM311.8 1098.7l9.2 18.4h-18.4zM541.0 847.8l9.2 18.4h-18.4zM532.1 829.2l9.2 18.4h-18.4zM452.0 877.0l9.2 18.4h-18.4zM518.7 888.5l9.2 18.4h-18.4zM534.0 829.5l9.2 18.4h-18.4zM519.2 832.2l9.2 18.4h-18.4zM296.9 1031.4l9.2 18.4h-18.4zM432.6 991.2l9.2 18.4h-18.4zM468.9 863.7l9.2 18.4h-18.4zM525.5 830.3l9.2 18.4h-18.4zM539.7 833.1l9.2 18.4h-18.4zM527.8 874.7l9.2 18.4h-18.4zM508.5 837.3l9.2 18.4h-18.4zM501.2 910.8l9.2 18.4h-18.4zM447.4 880.3l9.2 18.4h-18.4zM541.4 839.6l9.2 18.4h-18.4zM535.8 830.7l9.2 18.4h-18.4zM408.2 911.0l9.2 18.4h-18.4zM387.0 929.4l9.2 18.4h-18.4zM464.5 867.4l9.2 18.4h-18.4zM536.7 857.8l9.2 18.4h-18.4zM537.7 855.5l9.2 18.4h-18.4zM529.1 830.1l9.2 18.4h-18.4zM496.0 844.9l9.2 18.4h-18.4zM517.7 889.3l9.2 18.4h-18.4zM416.5 904.1l9.2 18.4h-18.4zM390.1 926.8l9.2 18.4h-18.4zM528.9 872.2l9.2 18.4h-18.4zM524.2 831.3l9.2 18.4h-18.4zM529.9 870.6l9.2 18.4h-18.4zM499.6 912.4l9.2 18.4h-18.4zM538.4 834.0l9.2 18.4h-18.4zM434.7 890.0l9.2 18.4h-18.4zM539.8 837.6l9.2 18.4h-18.4zM534.6 861.1l9.2 18.4h-18.4zM540.1 844.0l9.2 18.4h-18.4zM517.1 834.2l9.2 18.4h-18.4zM280.4 1054.2l9.2 18.4h-18.4zM475.9 859.2l9.2 18.4h-18.4zM532.3 865.3l9.2 18.4h-18.4zM524.6 878.4l9.2 18.4h-18.4zM489.0 925.6l9.2 18.4h-18.4zM540.0 841.9l9.2 18.4h-18.4zM453.2 968.0l9.2 18.4h-18.4zM404.7 914.5l9.2 18.4h-18.4zM261.1 1086.0l9.2 18.4h-18.4zM270.2 1069.2l9.2 18.4h-18.4zM478.5 939.0l9.2 18.4h-18.4zM525.5 832.2l9.2 18.4h-18.4zM519.7 833.8l9.2 18.4h-18.4zM485.8 852.6l9.2 18.4h-18.4zM539.0 840.6l9.2 18.4h-18.4zM464.5 955.3l9.2 18.4h-18.4zM507.3 902.0l9.2 18.4h-18.4zM462.2 870.0l9.2 18.4h-18.4z"/><path fill="#459eb4" d="M457.2 963.3l9.2 18.4h-18.4zM537.3 837.2l9.2 18.4h-18.4zM447.8 973.3l9.2 18.4h-18.4zM483.7 932.0l9.2 18.4h-18.4zM494.8 917.2l9.2 18.4h-18.4zM537.6 849.6l9.2 18.4h-18.4zM471.3 947.2l9.2 18.4h-18.4zM472.7 862.4l9.2 18.4h-18.4zM421.0 1003.7l9.2 18.4h-18.4zM531.5 864.8l9.2 18.4h-18.4zM433.6 891.6l9.2 18.4h-18.4zM441.2 885.9l9.2 18.4h-18.4zM423.7 899.3l9.2 18.4h-18.4zM450.4 879.6l9.2 18.4h-18.4zM534.2 858.4l9.2 18.4h-18.4zM435.7 986.4l9.2 18.4h-18.4zM489.3 851.0l9.2 18.4h-18.4zM533.9 835.2l9.2 18.4h-18.4zM528.2 833.6l9.2 18.4h-18.4zM468.3 866.0l9.2 18.4h-18.4zM399.3 919.7l9.2 18.4h-18.4zM513.4 837.5l9.2 18.4h-18.4zM530.0 834.0l9.2 18.4h-18.4zM441.9 979.2l9.2 18.4h-18.4zM330.7 989.5l9.2 18.4h-18.4zM463.5 869.8l9.2 18.4h-18.4zM490.9 921.6l9.2 18.4h-18.4zM411.9 909.1l9.2 18.4h-18.4zM534.9 837.4l9.2 18.4h-18.4zM536.2 850.5l9.2 18.4h-18.4zM533.5 836.1l9.2 18.4h-18.4zM507.2 840.7l9.2 18.4h-18.4zM481.2 856.9l9.2 18.4h-18.4zM467.9 950.6l9.2 18.4h-18.4zM536.3 843.2l9.2 18.4h-18.4zM333.9 985.8l9.2 18.4h-18.4zM526.3 872.2l9.2 18.4h-18.4zM414.9 906.9l9.2 18.4h-18.4zM516.2 888.1l9.2 18.4h-18.4zM532.2 860.4l9.2 18.4h-18.4zM523.1 877.5l9.2 18.4h-18.4zM419.9 902.9l9.2 18.4h-18.4zM376.3 940.9l9.2 18.4h-18.4zM405.9 1019.8l9.2 18.4h-18.4zM380.6 936.9l9.2 18.4h-18.4zM535.5 844.5l9.2 18.4h-18.4zM520.7 881.0l9.2 18.4h-18.4zM494.3 916.4l9.2 18.4h-18.4zM492.0 919.2l9.2 18.4h-18.4zM524.5 836.0l9.2 18.4h-18.4zM396.8 1029.4l9.2 18.4h-18.4zM266.4 1075.5l9.2 18.4h-18.4zM493.1 849.8l9.2 18.4h-18.4zM527.9 836.5l9.2 18.4h-18.4zM521.6 836.7l9.2 18.4h-18.4zM519.8 837.2l9.2 18.4h-18.4zM371.3 946.1l9.2 18.4h-18.4zM392.9 926.0l9.2 18.4h-18.4zM263.6 1081.5l9.2 18.4h-18.4zM442.3 886.2l9.2 18.4h-18.4zM438.6 982.1l9.2 18.4h-18.4zM534.6 847.8l9.2 18.4h-18.4zM275.9 1061.5l9.2 18.4h-18.4zM524.5 836.7l9.2 18.4h-18.4zM479.5 859.1l9.2 18.4h-18.4zM534.2 849.8l9.2 18.4h-18.4zM295.9 1034.0l9.2 18.4h-18.4zM519.4 882.0l9.2 18.4h-18.4zM533.6 842.6l9.2 18.4h-18.4zM491.6 851.1l9.2 18.4h-18.4zM384.5 933.6l9.2 18.4h-18.4zM531.1 839.0l9.2 18.4h-18.4zM457.3 875.8l9.2 18.4h-18.4zM533.1 854.2l9.2 18.4h-18.4zM510.9 840.7l9.2 18.4h-18.4zM531.9 840.0l9.2 18.4h-18.4zM366.3 951.1l9.2 18.4h-18.4zM525.0 872.5l9.2 18.4h-18.4zM446.7 883.4l9.2 18.4h-18.4zM503.2 844.6l9.2 18.4h-18.4zM289.7 1042.3l9.2 18.4h-18.4zM517.1 838.7l9.2 18.4h-18.4zM527.0 868.5l9.2 18.4h-18.4zM433.8 892.8l9.2 18.4h-18.4zM419.8 1004.2l9.2 18.4h-18.4zM531.6 840.9l9.2 18.4h-18.4zM500.4 846.4l9.2 18.4h-18.4zM515.7 839.5l9.2 18.4h-18.4zM425.8 997.2l9.2 18.4h-18.4zM360.5 957.3l9.2 18.4h-18.4zM321.5 1001.6l9.2 18.4h-18.4zM532.7 852.6l9.2 18.4h-18.4zM354.3 963.7l9.2 18.4h-18.4zM514.1 840.1l9.2 18.4h-18.4zM292.5 1038.7l9.2 18.4h-18.4zM461.6 872.8l9.2 18.4h-18.4zM460.8 957.6l9.2 18.4h-18.4zM528.7 839.7l9.2 18.4h-18.4zM370.0 947.8l9.2 18.4h-18.4zM508.0 897.4l9.2 18.4h-18.4zM511.8 892.2l9.2 18.4h-18.4zM480.5 933.9l9.2 18.4h-18.4zM527.3 839.6l9.2 18.4h-18.4zM327.2 994.8l9.2 18.4h-18.4zM416.4 1007.6l9.2 18.4h-18.4zM527.4 865.5l9.2 18.4h-18.4zM300.2 1028.9l9.2 18.4h-18.4zM378.7 1044.4l9.2 18.4h-18.4zM496.1 849.6l9.2 18.4h-18.4zM517.1 840.2l9.2 18.4h-18.4z"/><path fill="#49a2b2" d="M501.6 905.4l9.2 18.4h-18.4zM306.6 1020.7l9.2 18.4h-18.4zM529.1 860.9l9.2 18.4h-18.4zM516.5 884.5l9.2 18.4h-18.4zM408.0 913.9l9.2 18.4h-18.4zM398.5 922.0l9.2 18.4h-18.4zM290.1 1118.0l9.2 18.4h-18.4zM468.8 868.0l9.2 18.4h-18.4zM342.4 976.8l9.2 18.4h-18.4zM475.7 939.5l9.2 18.4h-18.4zM530.9 852.8l9.2 18.4h-18.4zM428.6 897.5l9.2 18.4h-18.4zM432.9 988.1l9.2 18.4h-18.4zM521.3 840.4l9.2 18.4h-18.4zM530.3 846.2l9.2 18.4h-18.4zM498.6 908.7l9.2 18.4h-18.4zM484.2 928.1l9.2 18.4h-18.4zM328.7 993.3l9.2 18.4h-18.4zM485.7 856.8l9.2 18.4h-18.4zM525.2 868.1l9.2 18.4h-18.4zM520.1 877.6l9.2 18.4h-18.4zM475.4 863.8l9.2 18.4h-18.4zM529.7 855.2l9.2 18.4h-18.4zM496.4 850.4l9.2 18.4h-18.4zM349.7 1067.2l9.2 18.4h-18.4zM473.9 865.0l9.2 18.4h-18.4zM473.5 941.7l9.2 18.4h-18.4zM498.3 849.4l9.2 18.4h-18.4zM510.1 843.9l9.2 18.4h-18.4zM485.3 926.1l9.2 18.4h-18.4zM348.3 970.8l9.2 18.4h-18.4zM511.4 890.7l9.2 18.4h-18.4zM528.8 847.3l9.2 18.4h-18.4zM388.4 931.3l9.2 18.4h-18.4zM525.2 842.9l9.2 18.4h-18.4zM509.5 893.3l9.2 18.4h-18.4zM346.6 1069.5l9.2 18.4h-18.4zM472.1 866.6l9.2 18.4h-18.4zM486.9 856.6l9.2 18.4h-18.4zM528.7 848.7l9.2 18.4h-18.4zM441.2 888.9l9.2 18.4h-18.4zM488.1 921.8l9.2 18.4h-18.4zM526.4 863.0l9.2 18.4h-18.4zM379.0 940.1l9.2 18.4h-18.4zM519.3 842.5l9.2 18.4h-18.4zM385.1 934.4l9.2 18.4h-18.4zM363.1 1056.8l9.2 18.4h-18.4zM448.8 883.8l9.2 18.4h-18.4zM399.4 1025.5l9.2 18.4h-18.4zM498.8 849.9l9.2 18.4h-18.4zM506.4 846.4l9.2 18.4h-18.4zM526.2 845.5l9.2 18.4h-18.4zM333.0 988.6l9.2 18.4h-18.4zM489.8 918.9l9.2 18.4h-18.4zM527.5 857.4l9.2 18.4h-18.4zM409.9 913.3l9.2 18.4h-18.4zM527.7 855.8l9.2 18.4h-18.4zM510.9 890.3l9.2 18.4h-18.4zM408.6 1015.4l9.2 18.4h-18.4zM525.8 846.2l9.2 18.4h-18.4zM451.0 967.0l9.2 18.4h-18.4zM521.1 844.0l9.2 18.4h-18.4zM506.9 895.8l9.2 18.4h-18.4zM482.2 929.5l9.2 18.4h-18.4zM402.5 1021.9l9.2 18.4h-18.4zM454.3 880.7l9.2 18.4h-18.4zM496.3 910.0l9.2 18.4h-18.4zM286.0 1048.2l9.2 18.4h-18.4zM452.7 965.0l9.2 18.4h-18.4zM484.4 859.1l9.2 18.4h-18.4zM312.7 1013.8l9.2 18.4h-18.4zM345.2 974.6l9.2 18.4h-18.4zM412.1 911.8l9.2 18.4h-18.4zM464.9 872.8l9.2 18.4h-18.4zM383.8 1039.4l9.2 18.4h-18.4zM323.6 1000.4l9.2 18.4h-18.4zM526.5 852.8l9.2 18.4h-18.4zM294.3 1037.4l9.2 18.4h-18.4zM288.0 1045.6l9.2 18.4h-18.4zM493.7 853.8l9.2 18.4h-18.4zM513.1 845.5l9.2 18.4h-18.4zM358.3 961.1l9.2 18.4h-18.4zM483.0 860.4l9.2 18.4h-18.4zM512.4 886.9l9.2 18.4h-18.4zM342.5 1072.3l9.2 18.4h-18.4zM478.4 863.5l9.2 18.4h-18.4zM522.3 846.2l9.2 18.4h-18.4zM502.5 849.5l9.2 18.4h-18.4zM339.2 981.8l9.2 18.4h-18.4zM477.9 934.5l9.2 18.4h-18.4zM477.6 864.4l9.2 18.4h-18.4zM525.1 851.6l9.2 18.4h-18.4zM507.0 848.0l9.2 18.4h-18.4zM426.3 900.9l9.2 18.4h-18.4zM426.4 994.7l9.2 18.4h-18.4zM362.5 957.0l9.2 18.4h-18.4zM523.5 864.2l9.2 18.4h-18.4zM392.1 929.2l9.2 18.4h-18.4zM518.2 846.4l9.2 18.4h-18.4zM522.2 848.0l9.2 18.4h-18.4zM523.7 862.7l9.2 18.4h-18.4zM319.3 1006.0l9.2 18.4h-18.4zM524.8 856.6l9.2 18.4h-18.4zM479.5 932.1l9.2 18.4h-18.4z"/><path fill="#50a9af" d="M517.8 876.3l9.2 18.4h-18.4zM519.3 873.4l9.2 18.4h-18.4zM452.5 882.7l9.2 18.4h-18.4zM333.8 1078.6l9.2 18.4h-18.4zM522.5 849.2l9.2 18.4h-18.4zM352.2 967.9l9.2 18.4h-18.4zM283.3 1123.5l9.2 18.4h-18.4zM508.9 848.2l9.2 18.4h-18.4zM521.7 849.2l9.2 18.4h-18.4zM508.6 848.6l9.2 18.4h-18.4zM301.8 1028.2l9.2 18.4h-18.4zM501.7 900.9l9.2 18.4h-18.4zM498.4 852.8l9.2 18.4h-18.4zM411.7 1011.2l9.2 18.4h-18.4zM414.2 911.0l9.2 18.4h-18.4zM498.6 905.0l9.2 18.4h-18.4zM376.5 943.8l9.2 18.4h-18.4zM463.0 952.2l9.2 18.4h-18.4zM515.5 879.0l9.2 18.4h-18.4zM434.4 895.5l9.2 18.4h-18.4zM515.1 848.2l9.2 18.4h-18.4zM369.9 950.2l9.2 18.4h-18.4zM461.8 876.7l9.2 18.4h-18.4zM354.6 1062.9l9.2 18.4h-18.4zM519.4 870.3l9.2 18.4h-18.4zM456.0 960.0l9.2 18.4h-18.4zM470.7 870.5l9.2 18.4h-18.4zM509.8 888.0l9.2 18.4h-18.4zM511.3 849.3l9.2 18.4h-18.4zM489.2 858.6l9.2 18.4h-18.4zM421.4 905.7l9.2 18.4h-18.4zM494.8 909.2l9.2 18.4h-18.4zM521.9 858.9l9.2 18.4h-18.4zM511.4 885.0l9.2 18.4h-18.4zM501.2 852.7l9.2 18.4h-18.4zM469.8 943.5l9.2 18.4h-18.4zM461.4 953.6l9.2 18.4h-18.4zM427.3 901.2l9.2 18.4h-18.4zM481.3 863.7l9.2 18.4h-18.4zM463.5 876.0l9.2 18.4h-18.4zM507.6 850.8l9.2 18.4h-18.4zM521.1 860.6l9.2 18.4h-18.4zM326.4 1083.8l9.2 18.4h-18.4zM465.9 874.3l9.2 18.4h-18.4zM337.0 985.3l9.2 18.4h-18.4zM519.6 866.8l9.2 18.4h-18.4zM489.2 916.0l9.2 18.4h-18.4zM485.1 922.4l9.2 18.4h-18.4zM416.2 1005.6l9.2 18.4h-18.4zM492.1 857.7l9.2 18.4h-18.4zM518.3 852.3l9.2 18.4h-18.4zM491.1 913.5l9.2 18.4h-18.4zM383.3 1039.0l9.2 18.4h-18.4zM387.0 934.8l9.2 18.4h-18.4zM494.3 856.7l9.2 18.4h-18.4zM374.0 1046.9l9.2 18.4h-18.4zM516.7 851.7l9.2 18.4h-18.4zM438.1 893.7l9.2 18.4h-18.4zM408.8 1013.8l9.2 18.4h-18.4zM519.6 855.6l9.2 18.4h-18.4zM422.4 998.3l9.2 18.4h-18.4zM365.9 954.8l9.2 18.4h-18.4zM465.8 947.8l9.2 18.4h-18.4zM397.8 925.6l9.2 18.4h-18.4zM500.0 854.4l9.2 18.4h-18.4zM458.1 880.5l9.2 18.4h-18.4zM511.0 851.5l9.2 18.4h-18.4zM459.8 879.4l9.2 18.4h-18.4zM346.8 974.5l9.2 18.4h-18.4zM519.5 858.3l9.2 18.4h-18.4zM498.8 902.5l9.2 18.4h-18.4zM517.6 869.7l9.2 18.4h-18.4zM316.2 1092.8l9.2 18.4h-18.4zM480.4 865.2l9.2 18.4h-18.4zM506.1 891.6l9.2 18.4h-18.4zM427.8 991.7l9.2 18.4h-18.4zM504.4 894.1l9.2 18.4h-18.4zM496.5 905.4l9.2 18.4h-18.4zM350.9 970.3l9.2 18.4h-18.4zM462.6 951.4l9.2 18.4h-18.4zM450.4 885.9l9.2 18.4h-18.4zM401.3 922.9l9.2 18.4h-18.4zM447.0 969.2l9.2 18.4h-18.4zM512.7 852.6l9.2 18.4h-18.4zM377.2 1044.0l9.2 18.4h-18.4zM512.9 879.3l9.2 18.4h-18.4zM447.4 887.9l9.2 18.4h-18.4zM353.2 1063.6l9.2 18.4h-18.4zM390.8 932.0l9.2 18.4h-18.4zM475.9 934.4l9.2 18.4h-18.4zM517.8 857.8l9.2 18.4h-18.4zM492.8 910.0l9.2 18.4h-18.4zM405.2 919.8l9.2 18.4h-18.4zM468.7 943.6l9.2 18.4h-18.4zM515.7 855.0l9.2 18.4h-18.4z"/><path fill="#56b0ad" d="M486.4 862.5l9.2 18.4h-18.4zM344.7 977.2l9.2 18.4h-18.4zM429.2 989.6l9.2 18.4h-18.4zM513.0 877.3l9.2 18.4h-18.4zM360.9 960.5l9.2 18.4h-18.4zM316.8 1010.5l9.2 18.4h-18.4zM500.4 898.6l9.2 18.4h-18.4zM501.1 897.5l9.2 18.4h-18.4zM419.2 1001.4l9.2 18.4h-18.4zM470.7 940.7l9.2 18.4h-18.4zM513.2 855.3l9.2 18.4h-18.4zM503.2 894.2l9.2 18.4h-18.4zM514.9 871.4l9.2 18.4h-18.4zM395.1 1028.0l9.2 18.4h-18.4zM438.7 977.6l9.2 18.4h-18.4zM433.6 898.1l9.2 18.4h-18.4zM398.4 1024.5l9.2 18.4h-18.4zM443.6 891.1l9.2 18.4h-18.4zM516.1 863.5l9.2 18.4h-18.4zM408.3 917.7l9.2 18.4h-18.4zM501.8 856.5l9.2 18.4h-18.4zM513.9 873.1l9.2 18.4h-18.4zM510.6 880.2l9.2 18.4h-18.4zM275.5 1064.7l9.2 18.4h-18.4zM504.5 856.2l9.2 18.4h-18.4zM291.2 1115.8l9.2 18.4h-18.4zM510.5 856.5l9.2 18.4h-18.4zM393.5 930.4l9.2 18.4h-18.4zM443.1 972.6l9.2 18.4h-18.4zM484.9 919.9l9.2 18.4h-18.4zM514.8 865.8l9.2 18.4h-18.4zM484.4 865.1l9.2 18.4h-18.4zM456.0 957.9l9.2 18.4h-18.4zM495.7 859.6l9.2 18.4h-18.4zM392.5 931.4l9.2 18.4h-18.4zM489.0 862.8l9.2 18.4h-18.4zM512.1 858.5l9.2 18.4h-18.4zM514.3 866.5l9.2 18.4h-18.4zM514.0 867.9l9.2 18.4h-18.4zM451.0 963.5l9.2 18.4h-18.4zM478.5 929.1l9.2 18.4h-18.4zM513.8 863.0l9.2 18.4h-18.4zM419.7 909.2l9.2 18.4h-18.4zM501.8 858.2l9.2 18.4h-18.4zM489.0 912.7l9.2 18.4h-18.4zM470.7 874.2l9.2 18.4h-18.4zM370.5 1049.0l9.2 18.4h-18.4zM475.9 871.0l9.2 18.4h-18.4zM307.4 1022.8l9.2 18.4h-18.4zM329.8 995.3l9.2 18.4h-18.4zM490.6 862.8l9.2 18.4h-18.4zM380.1 1040.9l9.2 18.4h-18.4zM358.7 963.5l9.2 18.4h-18.4zM460.1 881.9l9.2 18.4h-18.4zM508.2 881.6l9.2 18.4h-18.4zM379.7 943.2l9.2 18.4h-18.4zM509.2 859.9l9.2 18.4h-18.4zM406.7 920.1l9.2 18.4h-18.4zM454.7 958.7l9.2 18.4h-18.4zM337.3 1075.2l9.2 18.4h-18.4zM464.7 946.7l9.2 18.4h-18.4zM499.6 860.1l9.2 18.4h-18.4zM332.6 992.2l9.2 18.4h-18.4zM279.4 1059.7l9.2 18.4h-18.4zM486.4 915.6l9.2 18.4h-18.4zM510.8 862.6l9.2 18.4h-18.4zM310.7 1018.9l9.2 18.4h-18.4zM420.5 909.2l9.2 18.4h-18.4zM449.7 888.8l9.2 18.4h-18.4zM392.5 1029.8l9.2 18.4h-18.4zM473.7 873.3l9.2 18.4h-18.4zM504.4 887.6l9.2 18.4h-18.4zM402.3 1019.4l9.2 18.4h-18.4zM446.0 891.2l9.2 18.4h-18.4zM505.2 860.4l9.2 18.4h-18.4zM322.3 1004.8l9.2 18.4h-18.4zM509.3 876.5l9.2 18.4h-18.4zM510.7 866.0l9.2 18.4h-18.4zM510.8 870.2l9.2 18.4h-18.4zM438.2 896.4l9.2 18.4h-18.4zM376.6 946.5l9.2 18.4h-18.4zM429.1 902.9l9.2 18.4h-18.4z"/><path fill="#5ab4ab" d="M396.4 1025.8l9.2 18.4h-18.4zM480.8 869.4l9.2 18.4h-18.4zM488.9 865.2l9.2 18.4h-18.4zM404.4 922.4l9.2 18.4h-18.4zM483.4 868.0l9.2 18.4h-18.4zM368.8 954.0l9.2 18.4h-18.4zM496.5 899.9l9.2 18.4h-18.4zM431.2 901.6l9.2 18.4h-18.4zM385.3 1036.0l9.2 18.4h-18.4zM479.2 870.6l9.2 18.4h-18.4zM491.4 907.0l9.2 18.4h-18.4zM468.1 877.8l9.2 18.4h-18.4zM505.5 862.7l9.2 18.4h-18.4zM415.9 913.4l9.2 18.4h-18.4zM481.9 921.7l9.2 18.4h-18.4zM504.8 884.3l9.2 18.4h-18.4zM436.9 897.9l9.2 18.4h-18.4zM458.5 884.6l9.2 18.4h-18.4zM502.3 889.2l9.2 18.4h-18.4zM501.2 862.6l9.2 18.4h-18.4zM463.5 881.2l9.2 18.4h-18.4zM473.4 934.0l9.2 18.4h-18.4zM507.4 876.3l9.2 18.4h-18.4zM496.3 863.9l9.2 18.4h-18.4zM498.4 863.5l9.2 18.4h-18.4zM507.8 873.2l9.2 18.4h-18.4zM471.5 876.2l9.2 18.4h-18.4zM287.3 1049.1l9.2 18.4h-18.4zM402.8 924.3l9.2 18.4h-18.4zM409.8 1010.5l9.2 18.4h-18.4zM491.4 906.0l9.2 18.4h-18.4zM479.8 924.5l9.2 18.4h-18.4zM424.6 993.2l9.2 18.4h-18.4zM478.2 872.3l9.2 18.4h-18.4zM371.8 951.7l9.2 18.4h-18.4zM507.2 873.3l9.2 18.4h-18.4zM506.5 867.4l9.2 18.4h-18.4zM505.6 879.9l9.2 18.4h-18.4zM496.2 864.7l9.2 18.4h-18.4zM426.4 906.0l9.2 18.4h-18.4zM384.5 940.1l9.2 18.4h-18.4zM453.0 888.3l9.2 18.4h-18.4zM443.1 970.6l9.2 18.4h-18.4zM294.3 1040.2l9.2 18.4h-18.4zM468.8 878.5l9.2 18.4h-18.4zM482.3 919.7l9.2 18.4h-18.4zM431.4 984.4l9.2 18.4h-18.4zM443.5 894.1l9.2 18.4h-18.4zM496.5 897.3l9.2 18.4h-18.4zM492.6 866.3l9.2 18.4h-18.4zM499.1 865.4l9.2 18.4h-18.4zM497.3 895.4l9.2 18.4h-18.4zM452.5 889.0l9.2 18.4h-18.4zM505.2 869.8l9.2 18.4h-18.4zM500.9 866.0l9.2 18.4h-18.4zM493.5 901.4l9.2 18.4h-18.4zM399.6 927.6l9.2 18.4h-18.4zM348.4 1066.2l9.2 18.4h-18.4zM327.9 999.0l9.2 18.4h-18.4zM356.8 966.9l9.2 18.4h-18.4zM434.3 980.3l9.2 18.4h-18.4zM439.0 974.7l9.2 18.4h-18.4zM447.1 965.7l9.2 18.4h-18.4zM470.6 878.1l9.2 18.4h-18.4zM317.1 1012.2l9.2 18.4h-18.4zM454.9 956.4l9.2 18.4h-18.4zM418.7 912.4l9.2 18.4h-18.4zM486.6 910.9l9.2 18.4h-18.4zM501.6 885.2l9.2 18.4h-18.4zM489.1 869.1l9.2 18.4h-18.4zM411.2 918.5l9.2 18.4h-18.4zM455.6 887.8l9.2 18.4h-18.4zM478.4 924.8l9.2 18.4h-18.4zM499.8 868.1l9.2 18.4h-18.4z"/><path fill="#60bba8" d="M278.7 1061.7l9.2 18.4h-18.4zM319.5 1088.7l9.2 18.4h-18.4zM386.5 939.1l9.2 18.4h-18.4zM476.9 875.2l9.2 18.4h-18.4zM461.0 948.6l9.2 18.4h-18.4zM501.3 884.5l9.2 18.4h-18.4zM502.2 870.9l9.2 18.4h-18.4zM401.1 926.9l9.2 18.4h-18.4zM299.4 1034.3l9.2 18.4h-18.4zM502.1 871.3l9.2 18.4h-18.4zM469.1 937.9l9.2 18.4h-18.4zM455.7 954.9l9.2 18.4h-18.4zM451.7 959.8l9.2 18.4h-18.4zM475.1 876.5l9.2 18.4h-18.4zM489.2 906.0l9.2 18.4h-18.4zM472.1 933.6l9.2 18.4h-18.4zM499.8 886.7l9.2 18.4h-18.4zM495.8 895.1l9.2 18.4h-18.4zM402.4 1017.9l9.2 18.4h-18.4zM501.8 880.4l9.2 18.4h-18.4zM343.2 981.8l9.2 18.4h-18.4zM293.2 1042.3l9.2 18.4h-18.4zM498.5 888.8l9.2 18.4h-18.4zM501.6 875.5l9.2 18.4h-18.4zM494.9 869.9l9.2 18.4h-18.4zM488.1 906.9l9.2 18.4h-18.4zM481.3 874.0l9.2 18.4h-18.4zM324.8 1003.4l9.2 18.4h-18.4zM491.4 870.8l9.2 18.4h-18.4zM464.9 883.5l9.2 18.4h-18.4zM423.8 909.5l9.2 18.4h-18.4zM498.9 872.2l9.2 18.4h-18.4zM390.1 1030.5l9.2 18.4h-18.4zM493.0 871.7l9.2 18.4h-18.4zM457.0 888.6l9.2 18.4h-18.4zM318.9 1010.7l9.2 18.4h-18.4zM447.7 893.7l9.2 18.4h-18.4zM496.9 872.7l9.2 18.4h-18.4zM497.0 888.9l9.2 18.4h-18.4zM475.3 927.5l9.2 18.4h-18.4zM384.3 942.0l9.2 18.4h-18.4zM357.0 1058.9l9.2 18.4h-18.4zM490.2 902.0l9.2 18.4h-18.4zM488.9 872.8l9.2 18.4h-18.4zM313.4 1017.5l9.2 18.4h-18.4zM474.5 878.7l9.2 18.4h-18.4zM434.6 978.5l9.2 18.4h-18.4zM498.5 875.8l9.2 18.4h-18.4zM374.4 951.0l9.2 18.4h-18.4zM442.0 897.4l9.2 18.4h-18.4zM498.1 884.5l9.2 18.4h-18.4zM436.0 901.4l9.2 18.4h-18.4zM498.7 878.3l9.2 18.4h-18.4zM484.9 874.4l9.2 18.4h-18.4zM389.7 937.5l9.2 18.4h-18.4zM497.1 875.3l9.2 18.4h-18.4zM285.5 1052.9l9.2 18.4h-18.4zM398.4 930.3l9.2 18.4h-18.4zM409.3 1009.4l9.2 18.4h-18.4zM482.2 914.8l9.2 18.4h-18.4zM470.0 934.8l9.2 18.4h-18.4zM362.9 962.3l9.2 18.4h-18.4zM458.9 888.4l9.2 18.4h-18.4zM363.0 1053.8l9.2 18.4h-18.4zM433.6 903.5l9.2 18.4h-18.4zM305.9 1027.0l9.2 18.4h-18.4zM410.8 1007.5l9.2 18.4h-18.4z"/><path fill="#66c2a5" d="M483.4 876.2l9.2 18.4h-18.4zM488.2 875.1l9.2 18.4h-18.4zM469.2 883.0l9.2 18.4h-18.4zM392.4 935.6l9.2 18.4h-18.4zM425.7 989.4l9.2 18.4h-18.4zM481.5 877.1l9.2 18.4h-18.4zM465.1 940.9l9.2 18.4h-18.4zM495.4 887.4l9.2 18.4h-18.4zM280.8 1123.5l9.2 18.4h-18.4zM452.2 892.4l9.2 18.4h-18.4zM492.0 895.3l9.2 18.4h-18.4zM421.2 994.9l9.2 18.4h-18.4zM495.5 881.5l9.2 18.4h-18.4zM413.8 918.6l9.2 18.4h-18.4zM490.4 876.3l9.2 18.4h-18.4zM404.2 1014.8l9.2 18.4h-18.4zM468.4 936.0l9.2 18.4h-18.4zM431.1 982.1l9.2 18.4h-18.4zM359.8 965.8l9.2 18.4h-18.4zM462.3 887.8l9.2 18.4h-18.4zM418.9 997.6l9.2 18.4h-18.4zM336.1 991.2l9.2 18.4h-18.4zM366.5 1050.5l9.2 18.4h-18.4zM407.3 923.9l9.2 18.4h-18.4zM381.2 945.7l9.2 18.4h-18.4zM476.9 922.5l9.2 18.4h-18.4zM281.3 1059.1l9.2 18.4h-18.4zM357.8 1057.9l9.2 18.4h-18.4zM483.6 908.9l9.2 18.4h-18.4zM493.8 881.9l9.2 18.4h-18.4zM459.8 947.0l9.2 18.4h-18.4zM493.4 886.9l9.2 18.4h-18.4zM490.3 896.1l9.2 18.4h-18.4zM492.4 880.8l9.2 18.4h-18.4zM348.0 978.2l9.2 18.4h-18.4zM486.8 878.5l9.2 18.4h-18.4zM293.0 1043.7l9.2 18.4h-18.4zM338.6 988.6l9.2 18.4h-18.4zM419.5 914.8l9.2 18.4h-18.4zM479.2 880.3l9.2 18.4h-18.4zM492.3 882.8l9.2 18.4h-18.4zM398.4 931.6l9.2 18.4h-18.4zM285.5 1053.5l9.2 18.4h-18.4zM376.0 950.9l9.2 18.4h-18.4zM486.4 879.5l9.2 18.4h-18.4zM390.9 937.8l9.2 18.4h-18.4zM439.6 971.1l9.2 18.4h-18.4zM451.7 894.0l9.2 18.4h-18.4zM470.0 884.8l9.2 18.4h-18.4zM444.6 965.2l9.2 18.4h-18.4zM479.0 916.7l9.2 18.4h-18.4zM486.6 901.3l9.2 18.4h-18.4zM430.5 907.3l9.2 18.4h-18.4zM422.8 912.8l9.2 18.4h-18.4zM341.5 985.6l9.2 18.4h-18.4zM467.7 886.6l9.2 18.4h-18.4zM490.3 891.3l9.2 18.4h-18.4zM473.0 884.1l9.2 18.4h-18.4zM489.5 882.7l9.2 18.4h-18.4zM386.0 1033.0l9.2 18.4h-18.4zM436.2 903.6l9.2 18.4h-18.4zM457.5 949.0l9.2 18.4h-18.4zM367.8 958.9l9.2 18.4h-18.4zM480.7 912.0l9.2 18.4h-18.4zM482.0 881.5l9.2 18.4h-18.4zM474.2 924.9l9.2 18.4h-18.4zM487.5 897.5l9.2 18.4h-18.4zM486.1 882.2l9.2 18.4h-18.4z"/><path fill="#6bc4a5" d="M439.6 901.7l9.2 18.4h-18.4zM488.8 893.0l9.2 18.4h-18.4zM372.0 1045.3l9.2 18.4h-18.4zM489.4 886.9l9.2 18.4h-18.4zM430.3 982.0l9.2 18.4h-18.4zM427.6 985.5l9.2 18.4h-18.4zM375.2 1042.5l9.2 18.4h-18.4zM489.3 888.8l9.2 18.4h-18.4zM413.0 920.6l9.2 18.4h-18.4zM461.9 890.4l9.2 18.4h-18.4zM462.3 942.3l9.2 18.4h-18.4zM312.0 1020.7l9.2 18.4h-18.4zM369.4 957.7l9.2 18.4h-18.4zM486.3 899.0l9.2 18.4h-18.4zM414.0 920.1l9.2 18.4h-18.4zM483.7 903.9l9.2 18.4h-18.4zM480.9 909.3l9.2 18.4h-18.4zM346.5 980.6l9.2 18.4h-18.4zM476.4 884.7l9.2 18.4h-18.4zM278.2 1064.1l9.2 18.4h-18.4zM471.3 928.4l9.2 18.4h-18.4zM386.8 942.3l9.2 18.4h-18.4zM298.0 1108.1l9.2 18.4h-18.4zM433.7 906.1l9.2 18.4h-18.4zM463.9 890.5l9.2 18.4h-18.4zM485.3 885.2l9.2 18.4h-18.4zM479.4 912.6l9.2 18.4h-18.4zM481.3 884.4l9.2 18.4h-18.4zM471.2 887.2l9.2 18.4h-18.4zM473.1 886.5l9.2 18.4h-18.4zM437.8 903.7l9.2 18.4h-18.4zM344.0 983.6l9.2 18.4h-18.4zM482.8 903.2l9.2 18.4h-18.4zM311.2 1022.0l9.2 18.4h-18.4zM461.7 942.0l9.2 18.4h-18.4zM485.8 890.7l9.2 18.4h-18.4zM403.8 1013.7l9.2 18.4h-18.4zM356.6 970.7l9.2 18.4h-18.4zM296.0 1109.8l9.2 18.4h-18.4zM447.0 898.7l9.2 18.4h-18.4zM485.0 894.5l9.2 18.4h-18.4zM473.7 923.0l9.2 18.4h-18.4zM331.9 997.7l9.2 18.4h-18.4zM476.4 886.9l9.2 18.4h-18.4zM451.9 896.2l9.2 18.4h-18.4zM445.2 962.7l9.2 18.4h-18.4zM414.3 1001.2l9.2 18.4h-18.4zM479.8 887.2l9.2 18.4h-18.4zM316.1 1016.5l9.2 18.4h-18.4zM478.0 913.3l9.2 18.4h-18.4zM436.7 972.6l9.2 18.4h-18.4zM481.6 889.2l9.2 18.4h-18.4zM470.9 889.6l9.2 18.4h-18.4zM482.4 899.9l9.2 18.4h-18.4zM374.5 1042.5l9.2 18.4h-18.4zM450.5 897.5l9.2 18.4h-18.4zM475.7 917.8l9.2 18.4h-18.4zM397.7 934.3l9.2 18.4h-18.4zM474.2 889.1l9.2 18.4h-18.4zM458.3 945.7l9.2 18.4h-18.4zM441.1 967.2l9.2 18.4h-18.4zM460.5 893.5l9.2 18.4h-18.4z"/><path fill="#74c7a5" d="M467.6 932.1l9.2 18.4h-18.4zM425.3 913.2l9.2 18.4h-18.4zM428.8 910.8l9.2 18.4h-18.4zM386.1 1032.0l9.2 18.4h-18.4zM351.3 976.7l9.2 18.4h-18.4zM456.9 894.9l9.2 18.4h-18.4zM479.3 905.9l9.2 18.4h-18.4zM334.0 1075.7l9.2 18.4h-18.4zM466.9 892.0l9.2 18.4h-18.4zM353.6 974.5l9.2 18.4h-18.4zM453.4 951.6l9.2 18.4h-18.4zM427.2 912.3l9.2 18.4h-18.4zM352.2 1061.3l9.2 18.4h-18.4zM410.2 924.8l9.2 18.4h-18.4zM480.2 892.6l9.2 18.4h-18.4zM363.7 1051.7l9.2 18.4h-18.4zM442.9 902.3l9.2 18.4h-18.4zM431.8 978.0l9.2 18.4h-18.4zM480.5 898.9l9.2 18.4h-18.4zM422.8 915.6l9.2 18.4h-18.4zM381.3 1036.1l9.2 18.4h-18.4zM448.6 957.5l9.2 18.4h-18.4zM477.7 891.8l9.2 18.4h-18.4zM304.5 1031.0l9.2 18.4h-18.4zM467.5 893.2l9.2 18.4h-18.4zM328.0 1003.0l9.2 18.4h-18.4zM469.4 892.8l9.2 18.4h-18.4zM478.0 893.6l9.2 18.4h-18.4zM441.7 965.6l9.2 18.4h-18.4zM479.3 896.6l9.2 18.4h-18.4zM380.4 949.5l9.2 18.4h-18.4zM465.2 894.0l9.2 18.4h-18.4zM447.0 959.1l9.2 18.4h-18.4zM473.0 892.9l9.2 18.4h-18.4zM365.2 963.6l9.2 18.4h-18.4zM407.4 927.5l9.2 18.4h-18.4zM366.9 962.0l9.2 18.4h-18.4zM470.5 925.0l9.2 18.4h-18.4zM301.3 1035.1l9.2 18.4h-18.4zM478.0 901.2l9.2 18.4h-18.4zM477.0 907.7l9.2 18.4h-18.4zM275.5 1068.9l9.2 18.4h-18.4zM447.3 901.1l9.2 18.4h-18.4zM467.1 930.4l9.2 18.4h-18.4zM464.0 935.4l9.2 18.4h-18.4zM475.9 895.9l9.2 18.4h-18.4zM475.7 911.1l9.2 18.4h-18.4zM434.4 908.8l9.2 18.4h-18.4zM371.9 957.7l9.2 18.4h-18.4zM421.5 917.5l9.2 18.4h-18.4zM342.8 986.7l9.2 18.4h-18.4zM391.2 1026.5l9.2 18.4h-18.4zM420.9 991.5l9.2 18.4h-18.4zM400.5 933.6l9.2 18.4h-18.4zM476.1 904.3l9.2 18.4h-18.4zM390.5 941.6l9.2 18.4h-18.4z"/><path fill="#7ccaa5" d="M326.2 1005.7l9.2 18.4h-18.4zM471.5 896.2l9.2 18.4h-18.4zM398.6 1018.2l9.2 18.4h-18.4zM460.5 896.6l9.2 18.4h-18.4zM315.2 1091.1l9.2 18.4h-18.4zM312.5 1093.8l9.2 18.4h-18.4zM423.3 988.3l9.2 18.4h-18.4zM338.3 991.9l9.2 18.4h-18.4zM384.7 946.6l9.2 18.4h-18.4zM451.7 951.9l9.2 18.4h-18.4zM470.5 922.7l9.2 18.4h-18.4zM432.0 910.9l9.2 18.4h-18.4zM456.3 898.4l9.2 18.4h-18.4zM392.7 940.2l9.2 18.4h-18.4zM305.4 1030.6l9.2 18.4h-18.4zM382.6 948.5l9.2 18.4h-18.4zM437.5 969.3l9.2 18.4h-18.4zM359.8 969.6l9.2 18.4h-18.4zM320.2 1013.1l9.2 18.4h-18.4zM472.9 915.4l9.2 18.4h-18.4zM473.5 901.9l9.2 18.4h-18.4zM469.1 924.3l9.2 18.4h-18.4zM425.9 984.2l9.2 18.4h-18.4zM452.0 950.7l9.2 18.4h-18.4zM467.7 898.2l9.2 18.4h-18.4zM445.7 903.7l9.2 18.4h-18.4zM442.2 905.6l9.2 18.4h-18.4zM359.2 1054.8l9.2 18.4h-18.4zM321.0 1085.5l9.2 18.4h-18.4zM473.8 907.3l9.2 18.4h-18.4zM383.9 1032.7l9.2 18.4h-18.4zM322.4 1084.1l9.2 18.4h-18.4zM278.3 1123.5l9.2 18.4h-18.4zM420.1 919.9l9.2 18.4h-18.4zM457.1 943.3l9.2 18.4h-18.4zM471.4 917.5l9.2 18.4h-18.4zM428.9 914.0l9.2 18.4h-18.4zM458.6 940.9l9.2 18.4h-18.4zM406.0 930.5l9.2 18.4h-18.4zM401.7 1013.9l9.2 18.4h-18.4zM469.1 899.8l9.2 18.4h-18.4zM457.4 899.6l9.2 18.4h-18.4zM464.6 898.8l9.2 18.4h-18.4zM471.9 915.2l9.2 18.4h-18.4zM449.4 902.7l9.2 18.4h-18.4zM465.2 929.9l9.2 18.4h-18.4zM417.1 995.1l9.2 18.4h-18.4zM452.0 901.8l9.2 18.4h-18.4zM414.5 998.2l9.2 18.4h-18.4zM405.0 931.6l9.2 18.4h-18.4z"/><path fill="#81cda5" d="M412.4 1000.7l9.2 18.4h-18.4zM469.5 902.1l9.2 18.4h-18.4zM444.4 959.4l9.2 18.4h-18.4zM289.1 1114.9l9.2 18.4h-18.4zM451.5 902.5l9.2 18.4h-18.4zM404.9 1009.7l9.2 18.4h-18.4zM459.8 900.5l9.2 18.4h-18.4zM392.5 1023.9l9.2 18.4h-18.4zM283.7 1119.4l9.2 18.4h-18.4zM462.6 933.1l9.2 18.4h-18.4zM470.0 904.3l9.2 18.4h-18.4zM429.5 977.7l9.2 18.4h-18.4zM312.0 1023.7l9.2 18.4h-18.4zM470.1 906.6l9.2 18.4h-18.4zM459.3 937.8l9.2 18.4h-18.4zM463.6 901.5l9.2 18.4h-18.4zM338.9 1070.9l9.2 18.4h-18.4zM435.5 911.4l9.2 18.4h-18.4zM355.6 975.3l9.2 18.4h-18.4zM332.0 1000.6l9.2 18.4h-18.4zM377.6 954.7l9.2 18.4h-18.4zM440.3 908.8l9.2 18.4h-18.4zM467.2 922.7l9.2 18.4h-18.4zM378.5 953.9l9.2 18.4h-18.4zM424.6 918.4l9.2 18.4h-18.4zM470.0 910.3l9.2 18.4h-18.4zM333.0 999.6l9.2 18.4h-18.4zM258.3 1098.8l9.2 18.4h-18.4zM336.0 996.3l9.2 18.4h-18.4zM468.7 916.5l9.2 18.4h-18.4zM266.6 1083.9l9.2 18.4h-18.4zM467.9 906.0l9.2 18.4h-18.4zM414.4 925.9l9.2 18.4h-18.4zM362.6 968.8l9.2 18.4h-18.4zM419.3 922.6l9.2 18.4h-18.4zM445.1 957.0l9.2 18.4h-18.4zM369.2 962.7l9.2 18.4h-18.4zM433.6 913.3l9.2 18.4h-18.4zM423.1 985.8l9.2 18.4h-18.4zM454.6 943.7l9.2 18.4h-18.4zM465.5 904.9l9.2 18.4h-18.4zM430.9 974.6l9.2 18.4h-18.4zM439.7 910.0l9.2 18.4h-18.4z"/><path fill="#89d0a4" d="M316.2 1019.4l9.2 18.4h-18.4zM468.1 912.0l9.2 18.4h-18.4zM455.3 904.3l9.2 18.4h-18.4zM417.3 924.4l9.2 18.4h-18.4zM407.8 931.4l9.2 18.4h-18.4zM445.2 907.9l9.2 18.4h-18.4zM453.0 905.2l9.2 18.4h-18.4zM460.5 933.1l9.2 18.4h-18.4zM377.3 955.8l9.2 18.4h-18.4zM365.8 966.3l9.2 18.4h-18.4zM410.2 929.9l9.2 18.4h-18.4zM466.0 908.7l9.2 18.4h-18.4zM443.3 909.2l9.2 18.4h-18.4zM460.5 905.4l9.2 18.4h-18.4zM466.5 916.9l9.2 18.4h-18.4zM448.3 951.4l9.2 18.4h-18.4zM394.2 942.2l9.2 18.4h-18.4zM324.7 1009.9l9.2 18.4h-18.4zM463.5 925.8l9.2 18.4h-18.4zM402.0 936.4l9.2 18.4h-18.4zM431.9 972.4l9.2 18.4h-18.4zM452.3 945.4l9.2 18.4h-18.4zM364.3 1049.1l9.2 18.4h-18.4zM309.6 1027.7l9.2 18.4h-18.4zM438.7 963.6l9.2 18.4h-18.4zM465.4 918.1l9.2 18.4h-18.4zM457.4 906.3l9.2 18.4h-18.4zM458.9 934.2l9.2 18.4h-18.4zM442.7 958.4l9.2 18.4h-18.4zM436.8 965.9l9.2 18.4h-18.4zM459.5 906.9l9.2 18.4h-18.4zM461.8 927.8l9.2 18.4h-18.4zM422.4 922.3l9.2 18.4h-18.4zM348.8 983.5l9.2 18.4h-18.4zM453.8 907.2l9.2 18.4h-18.4zM295.3 1044.9l9.2 18.4h-18.4zM390.6 945.7l9.2 18.4h-18.4z"/><path fill="#91d3a4" d="M462.3 909.1l9.2 18.4h-18.4zM374.0 959.6l9.2 18.4h-18.4zM446.0 953.5l9.2 18.4h-18.4zM302.8 1036.0l9.2 18.4h-18.4zM395.5 1018.8l9.2 18.4h-18.4zM462.7 910.1l9.2 18.4h-18.4zM406.0 934.2l9.2 18.4h-18.4zM396.3 941.6l9.2 18.4h-18.4zM388.4 947.6l9.2 18.4h-18.4zM370.4 1043.3l9.2 18.4h-18.4zM323.0 1012.5l9.2 18.4h-18.4zM332.5 1075.3l9.2 18.4h-18.4zM415.3 994.4l9.2 18.4h-18.4zM449.7 909.0l9.2 18.4h-18.4zM442.4 911.7l9.2 18.4h-18.4zM388.7 1026.1l9.2 18.4h-18.4zM349.8 982.9l9.2 18.4h-18.4zM354.9 977.9l9.2 18.4h-18.4zM462.8 921.5l9.2 18.4h-18.4zM454.3 940.2l9.2 18.4h-18.4zM463.4 915.6l9.2 18.4h-18.4zM346.2 1064.2l9.2 18.4h-18.4zM338.6 1070.3l9.2 18.4h-18.4zM430.7 918.1l9.2 18.4h-18.4zM414.7 928.5l9.2 18.4h-18.4zM358.9 974.2l9.2 18.4h-18.4zM406.7 1004.9l9.2 18.4h-18.4zM450.5 909.8l9.2 18.4h-18.4zM461.0 912.1l9.2 18.4h-18.4zM301.0 1038.6l9.2 18.4h-18.4zM308.9 1029.2l9.2 18.4h-18.4zM386.6 949.7l9.2 18.4h-18.4zM344.4 989.0l9.2 18.4h-18.4zM398.4 940.9l9.2 18.4h-18.4zM424.6 981.0l9.2 18.4h-18.4zM461.6 917.5l9.2 18.4h-18.4zM418.9 988.9l9.2 18.4h-18.4zM457.8 911.8l9.2 18.4h-18.4zM437.5 915.5l9.2 18.4h-18.4zM266.4 1085.7l9.2 18.4h-18.4zM407.6 934.4l9.2 18.4h-18.4zM460.9 916.0l9.2 18.4h-18.4z"/><path fill="#99d6a4" d="M411.0 999.1l9.2 18.4h-18.4zM446.2 912.2l9.2 18.4h-18.4zM389.0 948.3l9.2 18.4h-18.4zM455.8 935.0l9.2 18.4h-18.4zM457.4 931.7l9.2 18.4h-18.4zM382.6 953.5l9.2 18.4h-18.4zM333.2 1001.6l9.2 18.4h-18.4zM446.5 950.3l9.2 18.4h-18.4zM269.5 1080.2l9.2 18.4h-18.4zM441.2 957.7l9.2 18.4h-18.4zM443.5 913.7l9.2 18.4h-18.4zM350.7 983.0l9.2 18.4h-18.4zM320.1 1016.8l9.2 18.4h-18.4zM454.3 912.2l9.2 18.4h-18.4zM448.8 946.3l9.2 18.4h-18.4zM369.0 965.7l9.2 18.4h-18.4zM270.9 1078.0l9.2 18.4h-18.4zM275.8 1123.5l9.2 18.4h-18.4zM289.6 1053.0l9.2 18.4h-18.4zM439.8 915.4l9.2 18.4h-18.4zM341.6 992.7l9.2 18.4h-18.4zM392.6 946.1l9.2 18.4h-18.4zM454.2 936.3l9.2 18.4h-18.4zM459.2 921.4l9.2 18.4h-18.4zM272.3 1076.1l9.2 18.4h-18.4zM458.8 923.7l9.2 18.4h-18.4zM339.0 995.7l9.2 18.4h-18.4zM457.9 916.1l9.2 18.4h-18.4zM420.5 926.5l9.2 18.4h-18.4zM416.9 990.5l9.2 18.4h-18.4zM455.1 933.7l9.2 18.4h-18.4zM405.2 1005.6l9.2 18.4h-18.4zM433.7 966.6l9.2 18.4h-18.4zM457.3 917.1l9.2 18.4h-18.4zM402.2 1009.2l9.2 18.4h-18.4zM449.8 943.1l9.2 18.4h-18.4zM327.5 1008.8l9.2 18.4h-18.4zM426.5 923.4l9.2 18.4h-18.4zM396.5 1015.9l9.2 18.4h-18.4zM402.5 939.6l9.2 18.4h-18.4zM433.4 919.7l9.2 18.4h-18.4zM439.0 917.2l9.2 18.4h-18.4zM363.0 971.8l9.2 18.4h-18.4zM449.4 914.7l9.2 18.4h-18.4z"/><path fill="#9fd8a4" d="M406.6 1003.5l9.2 18.4h-18.4zM428.1 973.6l9.2 18.4h-18.4zM438.9 959.1l9.2 18.4h-18.4zM425.1 924.6l9.2 18.4h-18.4zM283.4 1061.8l9.2 18.4h-18.4zM340.4 1068.3l9.2 18.4h-18.4zM455.4 930.5l9.2 18.4h-18.4zM429.9 922.0l9.2 18.4h-18.4zM442.2 954.0l9.2 18.4h-18.4zM447.7 915.6l9.2 18.4h-18.4zM308.4 1095.9l9.2 18.4h-18.4zM456.3 920.1l9.2 18.4h-18.4zM452.4 916.1l9.2 18.4h-18.4zM455.2 918.2l9.2 18.4h-18.4zM411.7 933.5l9.2 18.4h-18.4zM429.1 971.5l9.2 18.4h-18.4zM395.3 1016.9l9.2 18.4h-18.4zM413.8 932.3l9.2 18.4h-18.4zM435.6 962.9l9.2 18.4h-18.4zM455.6 927.0l9.2 18.4h-18.4zM375.5 1037.2l9.2 18.4h-18.4zM417.2 930.2l9.2 18.4h-18.4zM427.4 924.0l9.2 18.4h-18.4zM451.3 917.0l9.2 18.4h-18.4zM289.4 1054.1l9.2 18.4h-18.4zM436.1 919.9l9.2 18.4h-18.4zM378.9 958.5l9.2 18.4h-18.4zM433.4 965.3l9.2 18.4h-18.4zM447.2 944.8l9.2 18.4h-18.4zM454.7 924.8l9.2 18.4h-18.4zM414.7 992.1l9.2 18.4h-18.4zM406.0 938.5l9.2 18.4h-18.4zM352.3 1058.0l9.2 18.4h-18.4zM432.4 922.2l9.2 18.4h-18.4zM453.6 930.0l9.2 18.4h-18.4zM374.6 962.5l9.2 18.4h-18.4zM380.5 1032.1l9.2 18.4h-18.4zM444.1 918.7l9.2 18.4h-18.4zM447.2 918.5l9.2 18.4h-18.4zM389.8 1022.7l9.2 18.4h-18.4z"/><path fill="#a7dba4" d="M305.8 1034.6l9.2 18.4h-18.4zM306.9 1096.9l9.2 18.4h-18.4zM276.2 1071.9l9.2 18.4h-18.4zM352.2 983.4l9.2 18.4h-18.4zM320.4 1084.2l9.2 18.4h-18.4zM451.9 921.9l9.2 18.4h-18.4zM438.0 920.8l9.2 18.4h-18.4zM383.1 1029.4l9.2 18.4h-18.4zM400.6 943.0l9.2 18.4h-18.4zM365.7 970.8l9.2 18.4h-18.4zM422.3 928.6l9.2 18.4h-18.4zM336.6 999.9l9.2 18.4h-18.4zM299.0 1042.8l9.2 18.4h-18.4zM311.7 1092.3l9.2 18.4h-18.4zM410.7 936.2l9.2 18.4h-18.4zM419.3 984.8l9.2 18.4h-18.4zM331.8 1005.4l9.2 18.4h-18.4zM439.4 955.0l9.2 18.4h-18.4zM377.5 960.7l9.2 18.4h-18.4zM387.6 952.5l9.2 18.4h-18.4zM448.7 921.5l9.2 18.4h-18.4zM425.0 975.8l9.2 18.4h-18.4zM436.1 922.5l9.2 18.4h-18.4zM397.0 945.9l9.2 18.4h-18.4zM383.4 955.9l9.2 18.4h-18.4zM426.0 927.2l9.2 18.4h-18.4zM416.6 988.3l9.2 18.4h-18.4zM429.3 968.8l9.2 18.4h-18.4zM349.2 1060.2l9.2 18.4h-18.4zM355.3 981.0l9.2 18.4h-18.4zM388.3 1023.7l9.2 18.4h-18.4zM448.4 938.1l9.2 18.4h-18.4zM443.9 921.5l9.2 18.4h-18.4zM450.2 925.4l9.2 18.4h-18.4zM449.4 935.1l9.2 18.4h-18.4zM424.0 976.9l9.2 18.4h-18.4zM446.6 941.8l9.2 18.4h-18.4zM397.0 1013.5l9.2 18.4h-18.4zM441.3 951.1l9.2 18.4h-18.4zM435.6 959.7l9.2 18.4h-18.4zM445.7 922.4l9.2 18.4h-18.4zM380.8 1031.0l9.2 18.4h-18.4z"/><path fill="#aedea3" d="M443.8 946.6l9.2 18.4h-18.4zM293.9 1049.5l9.2 18.4h-18.4zM376.2 962.5l9.2 18.4h-18.4zM258.3 1101.3l9.2 18.4h-18.4zM296.9 1106.1l9.2 18.4h-18.4zM402.5 1006.3l9.2 18.4h-18.4zM364.1 973.4l9.2 18.4h-18.4zM436.8 924.3l9.2 18.4h-18.4zM378.9 960.4l9.2 18.4h-18.4zM448.5 933.2l9.2 18.4h-18.4zM448.6 928.3l9.2 18.4h-18.4zM438.5 924.1l9.2 18.4h-18.4zM405.7 941.2l9.2 18.4h-18.4zM431.0 926.6l9.2 18.4h-18.4zM393.2 949.6l9.2 18.4h-18.4zM414.1 935.8l9.2 18.4h-18.4zM448.1 929.5l9.2 18.4h-18.4zM409.4 997.1l9.2 18.4h-18.4zM276.4 1122.2l9.2 18.4h-18.4zM444.6 942.7l9.2 18.4h-18.4zM446.2 926.2l9.2 18.4h-18.4zM308.8 1032.2l9.2 18.4h-18.4zM446.4 938.0l9.2 18.4h-18.4zM447.4 934.2l9.2 18.4h-18.4zM372.1 966.6l9.2 18.4h-18.4zM436.6 956.3l9.2 18.4h-18.4zM443.9 926.1l9.2 18.4h-18.4zM390.2 952.3l9.2 18.4h-18.4zM410.8 994.8l9.2 18.4h-18.4zM318.4 1021.7l9.2 18.4h-18.4zM419.9 933.1l9.2 18.4h-18.4zM384.5 1026.7l9.2 18.4h-18.4zM405.8 1001.3l9.2 18.4h-18.4z"/><path fill="#b3e0a2" d="M350.7 986.7l9.2 18.4h-18.4zM273.3 1123.5l9.2 18.4h-18.4zM431.1 928.2l9.2 18.4h-18.4zM410.0 939.5l9.2 18.4h-18.4zM285.0 1061.5l9.2 18.4h-18.4zM273.9 1076.0l9.2 18.4h-18.4zM334.2 1004.2l9.2 18.4h-18.4zM358.5 979.4l9.2 18.4h-18.4zM445.8 932.5l9.2 18.4h-18.4zM444.3 940.2l9.2 18.4h-18.4zM359.9 1050.1l9.2 18.4h-18.4zM443.4 928.3l9.2 18.4h-18.4zM341.7 996.2l9.2 18.4h-18.4zM421.4 933.0l9.2 18.4h-18.4zM354.9 1054.5l9.2 18.4h-18.4zM420.5 980.1l9.2 18.4h-18.4zM408.7 997.0l9.2 18.4h-18.4zM313.9 1027.1l9.2 18.4h-18.4zM428.1 930.2l9.2 18.4h-18.4zM286.9 1059.2l9.2 18.4h-18.4zM409.7 940.3l9.2 18.4h-18.4zM426.8 930.8l9.2 18.4h-18.4zM430.0 964.4l9.2 18.4h-18.4zM293.4 1050.9l9.2 18.4h-18.4zM349.0 1059.6l9.2 18.4h-18.4zM282.4 1065.1l9.2 18.4h-18.4zM422.8 976.0l9.2 18.4h-18.4zM420.0 934.3l9.2 18.4h-18.4zM416.3 986.1l9.2 18.4h-18.4zM344.7 993.4l9.2 18.4h-18.4zM433.7 958.8l9.2 18.4h-18.4zM302.6 1100.3l9.2 18.4h-18.4zM361.2 977.4l9.2 18.4h-18.4zM405.8 1000.5l9.2 18.4h-18.4zM344.3 994.0l9.2 18.4h-18.4zM376.0 1034.5l9.2 18.4h-18.4zM390.9 1019.1l9.2 18.4h-18.4zM443.6 935.1l9.2 18.4h-18.4zM368.3 971.2l9.2 18.4h-18.4zM443.0 932.8l9.2 18.4h-18.4zM337.5 1001.2l9.2 18.4h-18.4zM346.8 991.5l9.2 18.4h-18.4zM440.1 930.1l9.2 18.4h-18.4zM437.2 929.5l9.2 18.4h-18.4z"/><path fill="#bae3a1" d="M432.7 930.7l9.2 18.4h-18.4zM433.2 958.0l9.2 18.4h-18.4zM438.5 948.4l9.2 18.4h-18.4zM409.7 941.5l9.2 18.4h-18.4zM440.0 944.6l9.2 18.4h-18.4zM321.7 1018.9l9.2 18.4h-18.4zM400.3 947.6l9.2 18.4h-18.4zM349.1 989.6l9.2 18.4h-18.4zM416.1 938.1l9.2 18.4h-18.4zM367.2 972.7l9.2 18.4h-18.4zM404.9 945.0l9.2 18.4h-18.4zM397.1 949.7l9.2 18.4h-18.4zM439.2 933.1l9.2 18.4h-18.4zM435.6 952.9l9.2 18.4h-18.4zM325.5 1014.9l9.2 18.4h-18.4zM301.2 1042.3l9.2 18.4h-18.4zM440.5 937.3l9.2 18.4h-18.4zM421.4 976.2l9.2 18.4h-18.4zM361.1 1048.2l9.2 18.4h-18.4zM302.4 1041.1l9.2 18.4h-18.4zM439.6 941.7l9.2 18.4h-18.4zM430.4 933.1l9.2 18.4h-18.4zM434.8 932.9l9.2 18.4h-18.4zM391.8 1017.1l9.2 18.4h-18.4zM385.6 958.2l9.2 18.4h-18.4zM425.6 934.7l9.2 18.4h-18.4zM398.5 1008.6l9.2 18.4h-18.4zM439.4 938.7l9.2 18.4h-18.4zM291.6 1054.0l9.2 18.4h-18.4zM418.8 980.0l9.2 18.4h-18.4zM411.5 941.9l9.2 18.4h-18.4z"/><path fill="#c1e6a0" d="M423.9 970.8l9.2 18.4h-18.4zM433.4 934.1l9.2 18.4h-18.4zM436.1 935.6l9.2 18.4h-18.4zM379.9 963.0l9.2 18.4h-18.4zM372.6 1036.8l9.2 18.4h-18.4zM422.6 937.5l9.2 18.4h-18.4zM289.6 1056.9l9.2 18.4h-18.4zM407.2 945.5l9.2 18.4h-18.4zM359.6 980.8l9.2 18.4h-18.4zM394.5 952.9l9.2 18.4h-18.4zM433.7 952.0l9.2 18.4h-18.4zM430.5 936.2l9.2 18.4h-18.4zM267.0 1088.4l9.2 18.4h-18.4zM342.5 997.6l9.2 18.4h-18.4zM434.5 949.7l9.2 18.4h-18.4zM417.6 940.2l9.2 18.4h-18.4zM429.4 959.8l9.2 18.4h-18.4zM322.3 1019.5l9.2 18.4h-18.4zM435.4 945.2l9.2 18.4h-18.4zM368.8 973.0l9.2 18.4h-18.4zM391.3 955.5l9.2 18.4h-18.4zM435.0 940.2l9.2 18.4h-18.4zM420.6 939.5l9.2 18.4h-18.4z"/><path fill="#c6e89f" d="M384.7 960.2l9.2 18.4h-18.4zM422.8 970.4l9.2 18.4h-18.4zM434.7 944.2l9.2 18.4h-18.4zM433.6 949.0l9.2 18.4h-18.4zM411.5 989.3l9.2 18.4h-18.4zM431.0 939.3l9.2 18.4h-18.4zM433.0 941.3l9.2 18.4h-18.4zM424.0 966.8l9.2 18.4h-18.4zM297.4 1047.9l9.2 18.4h-18.4zM414.3 943.4l9.2 18.4h-18.4zM371.3 971.5l9.2 18.4h-18.4zM270.8 1123.5l9.2 18.4h-18.4zM327.6 1014.2l9.2 18.4h-18.4zM430.4 940.2l9.2 18.4h-18.4zM373.5 1035.2l9.2 18.4h-18.4zM426.5 940.2l9.2 18.4h-18.4zM432.3 947.8l9.2 18.4h-18.4zM422.2 941.1l9.2 18.4h-18.4zM400.3 951.2l9.2 18.4h-18.4zM419.7 942.1l9.2 18.4h-18.4zM396.0 953.7l9.2 18.4h-18.4zM423.2 967.4l9.2 18.4h-18.4zM416.6 980.2l9.2 18.4h-18.4zM368.6 1039.8l9.2 18.4h-18.4zM423.9 941.2l9.2 18.4h-18.4zM376.2 967.9l9.2 18.4h-18.4zM410.3 990.1l9.2 18.4h-18.4z"/><path fill="#cdeb9d" d="M428.7 956.6l9.2 18.4h-18.4zM392.6 1014.0l9.2 18.4h-18.4zM393.5 955.6l9.2 18.4h-18.4zM423.9 965.1l9.2 18.4h-18.4zM360.7 1047.3l9.2 18.4h-18.4zM304.9 1039.7l9.2 18.4h-18.4zM411.7 946.4l9.2 18.4h-18.4zM427.8 943.0l9.2 18.4h-18.4zM278.3 1072.5l9.2 18.4h-18.4zM353.7 1053.7l9.2 18.4h-18.4zM404.2 950.2l9.2 18.4h-18.4zM417.7 977.4l9.2 18.4h-18.4zM313.9 1029.9l9.2 18.4h-18.4zM414.3 945.6l9.2 18.4h-18.4zM344.5 1061.9l9.2 18.4h-18.4zM364.4 1043.4l9.2 18.4h-18.4zM321.2 1022.1l9.2 18.4h-18.4zM427.2 956.2l9.2 18.4h-18.4zM418.4 945.1l9.2 18.4h-18.4zM426.6 945.6l9.2 18.4h-18.4zM418.1 975.7l9.2 18.4h-18.4zM407.3 949.8l9.2 18.4h-18.4zM357.3 985.1l9.2 18.4h-18.4zM356.2 986.1l9.2 18.4h-18.4zM427.4 946.9l9.2 18.4h-18.4z"/><path fill="#d3ed9c" d="M427.2 954.3l9.2 18.4h-18.4zM376.0 1031.7l9.2 18.4h-18.4zM307.3 1037.6l9.2 18.4h-18.4zM427.7 949.7l9.2 18.4h-18.4zM427.5 951.8l9.2 18.4h-18.4zM402.5 952.1l9.2 18.4h-18.4zM407.7 992.5l9.2 18.4h-18.4zM422.8 963.8l9.2 18.4h-18.4zM332.6 1010.0l9.2 18.4h-18.4zM422.5 945.8l9.2 18.4h-18.4zM427.2 949.7l9.2 18.4h-18.4zM281.4 1069.0l9.2 18.4h-18.4zM280.2 1070.4l9.2 18.4h-18.4zM382.8 1024.5l9.2 18.4h-18.4zM341.6 1064.1l9.2 18.4h-18.4zM415.6 979.5l9.2 18.4h-18.4zM387.2 961.3l9.2 18.4h-18.4zM400.5 1002.3l9.2 18.4h-18.4zM424.1 959.6l9.2 18.4h-18.4zM410.6 949.6l9.2 18.4h-18.4zM387.7 1018.8l9.2 18.4h-18.4zM258.3 1103.8l9.2 18.4h-18.4zM411.6 985.4l9.2 18.4h-18.4zM419.1 948.1l9.2 18.4h-18.4zM285.4 1113.7l9.2 18.4h-18.4zM396.3 1007.4l9.2 18.4h-18.4z"/><path fill="#daf09a" d="M392.1 959.0l9.2 18.4h-18.4zM363.8 980.4l9.2 18.4h-18.4zM367.1 977.6l9.2 18.4h-18.4zM333.6 1070.7l9.2 18.4h-18.4zM404.1 953.0l9.2 18.4h-18.4zM422.4 951.0l9.2 18.4h-18.4zM383.5 965.0l9.2 18.4h-18.4zM328.4 1075.0l9.2 18.4h-18.4zM417.8 972.3l9.2 18.4h-18.4zM422.3 958.2l9.2 18.4h-18.4zM409.1 952.2l9.2 18.4h-18.4zM369.2 976.2l9.2 18.4h-18.4zM421.6 960.3l9.2 18.4h-18.4zM379.2 1027.4l9.2 18.4h-18.4zM414.5 951.2l9.2 18.4h-18.4zM411.2 952.1l9.2 18.4h-18.4zM282.5 1115.8l9.2 18.4h-18.4zM421.2 952.8l9.2 18.4h-18.4zM416.9 951.7l9.2 18.4h-18.4zM268.3 1123.5l9.2 18.4h-18.4zM332.7 1011.1l9.2 18.4h-18.4zM419.7 964.8l9.2 18.4h-18.4zM338.6 1005.2l9.2 18.4h-18.4zM355.5 1050.8l9.2 18.4h-18.4z"/><path fill="#dff299" d="M347.1 996.7l9.2 18.4h-18.4zM416.2 952.9l9.2 18.4h-18.4zM370.8 1035.7l9.2 18.4h-18.4zM345.9 998.0l9.2 18.4h-18.4zM355.0 989.3l9.2 18.4h-18.4zM418.6 966.8l9.2 18.4h-18.4zM341.0 1003.0l9.2 18.4h-18.4zM399.8 956.7l9.2 18.4h-18.4zM334.0 1010.3l9.2 18.4h-18.4zM409.1 986.8l9.2 18.4h-18.4zM374.5 973.1l9.2 18.4h-18.4zM296.4 1051.4l9.2 18.4h-18.4zM351.3 993.3l9.2 18.4h-18.4zM339.0 1065.5l9.2 18.4h-18.4zM418.0 961.3l9.2 18.4h-18.4zM398.5 958.2l9.2 18.4h-18.4zM417.1 958.2l9.2 18.4h-18.4zM377.8 971.0l9.2 18.4h-18.4zM310.2 1036.2l9.2 18.4h-18.4zM327.4 1017.6l9.2 18.4h-18.4zM395.8 959.6l9.2 18.4h-18.4zM364.4 1041.6l9.2 18.4h-18.4z"/><path fill="#e6f598" d="M403.4 995.0l9.2 18.4h-18.4zM312.8 1033.5l9.2 18.4h-18.4zM334.4 1069.3l9.2 18.4h-18.4zM284.7 1066.3l9.2 18.4h-18.4zM317.5 1028.5l9.2 18.4h-18.4zM389.3 963.8l9.2 18.4h-18.4zM414.0 957.7l9.2 18.4h-18.4zM381.7 968.8l9.2 18.4h-18.4zM287.9 1062.2l9.2 18.4h-18.4zM262.5 1098.2l9.2 18.4h-18.4zM274.9 1078.8l9.2 18.4h-18.4zM415.0 959.6l9.2 18.4h-18.4zM388.5 964.6l9.2 18.4h-18.4zM412.3 957.7l9.2 18.4h-18.4zM357.8 988.1l9.2 18.4h-18.4zM405.4 990.8l9.2 18.4h-18.4zM414.2 973.7l9.2 18.4h-18.4zM409.3 957.3l9.2 18.4h-18.4zM379.9 970.5l9.2 18.4h-18.4zM410.5 981.6l9.2 18.4h-18.4zM415.8 966.6l9.2 18.4h-18.4zM315.7 1085.4l9.2 18.4h-18.4zM404.5 958.1l9.2 18.4h-18.4zM331.4 1071.7l9.2 18.4h-18.4zM300.1 1047.9l9.2 18.4h-18.4z"/><path fill="#e9f69d" d="M415.6 965.0l9.2 18.4h-18.4zM400.1 959.5l9.2 18.4h-18.4zM395.6 1005.1l9.2 18.4h-18.4zM393.2 1008.2l9.2 18.4h-18.4zM363.5 983.8l9.2 18.4h-18.4zM399.7 999.1l9.2 18.4h-18.4zM395.5 961.7l9.2 18.4h-18.4zM413.9 972.0l9.2 18.4h-18.4zM371.9 977.0l9.2 18.4h-18.4zM397.8 1001.7l9.2 18.4h-18.4zM405.6 958.8l9.2 18.4h-18.4zM386.3 967.1l9.2 18.4h-18.4zM344.0 1001.8l9.2 18.4h-18.4zM383.7 968.7l9.2 18.4h-18.4zM320.9 1025.7l9.2 18.4h-18.4zM389.4 1013.1l9.2 18.4h-18.4zM265.8 1123.5l9.2 18.4h-18.4zM410.3 959.7l9.2 18.4h-18.4zM324.2 1022.3l9.2 18.4h-18.4zM393.9 963.0l9.2 18.4h-18.4zM355.7 1049.3l9.2 18.4h-18.4zM353.5 1051.4l9.2 18.4h-18.4zM367.2 981.3l9.2 18.4h-18.4zM273.4 1081.3l9.2 18.4h-18.4zM408.1 960.0l9.2 18.4h-18.4z"/><path fill="#ebf7a0" d="M388.3 1014.1l9.2 18.4h-18.4zM412.7 972.3l9.2 18.4h-18.4zM281.5 1071.1l9.2 18.4h-18.4zM410.9 976.8l9.2 18.4h-18.4zM374.5 1029.9l9.2 18.4h-18.4zM407.1 985.0l9.2 18.4h-18.4zM410.4 963.0l9.2 18.4h-18.4zM377.9 973.9l9.2 18.4h-18.4zM412.2 966.4l9.2 18.4h-18.4zM381.6 1021.8l9.2 18.4h-18.4zM383.4 970.3l9.2 18.4h-18.4zM389.7 966.8l9.2 18.4h-18.4zM308.6 1039.6l9.2 18.4h-18.4zM408.6 980.6l9.2 18.4h-18.4zM352.7 994.8l9.2 18.4h-18.4zM288.3 1109.9l9.2 18.4h-18.4zM334.5 1012.4l9.2 18.4h-18.4zM407.6 962.9l9.2 18.4h-18.4z"/><path fill="#eef8a4" d="M264.9 1123.3l9.2 18.4h-18.4zM369.2 980.9l9.2 18.4h-18.4zM364.7 984.6l9.2 18.4h-18.4zM324.2 1077.2l9.2 18.4h-18.4zM400.5 995.2l9.2 18.4h-18.4zM361.1 987.6l9.2 18.4h-18.4zM403.9 962.9l9.2 18.4h-18.4zM382.1 1020.7l9.2 18.4h-18.4zM393.8 965.7l9.2 18.4h-18.4zM398.6 964.2l9.2 18.4h-18.4zM347.5 1000.1l9.2 18.4h-18.4zM316.5 1031.7l9.2 18.4h-18.4zM401.1 963.9l9.2 18.4h-18.4zM305.9 1042.9l9.2 18.4h-18.4zM408.7 978.0l9.2 18.4h-18.4zM304.5 1044.5l9.2 18.4h-18.4zM328.2 1019.5l9.2 18.4h-18.4zM409.8 973.1l9.2 18.4h-18.4zM402.7 990.6l9.2 18.4h-18.4zM404.4 987.5l9.2 18.4h-18.4zM386.6 1014.6l9.2 18.4h-18.4zM263.3 1123.5l9.2 18.4h-18.4zM386.3 970.2l9.2 18.4h-18.4zM356.6 992.1l9.2 18.4h-18.4z"/><path fill="#f1f9a9" d="M408.8 968.2l9.2 18.4h-18.4zM362.8 1041.1l9.2 18.4h-18.4zM299.4 1050.4l9.2 18.4h-18.4zM291.6 1059.6l9.2 18.4h-18.4zM378.8 975.4l9.2 18.4h-18.4zM404.5 985.7l9.2 18.4h-18.4zM361.0 1042.7l9.2 18.4h-18.4zM360.6 1043.1l9.2 18.4h-18.4zM402.5 989.4l9.2 18.4h-18.4zM331.8 1016.3l9.2 18.4h-18.4zM358.5 991.1l9.2 18.4h-18.4zM389.7 1009.4l9.2 18.4h-18.4zM408.0 972.6l9.2 18.4h-18.4zM338.6 1009.7l9.2 18.4h-18.4zM343.6 1059.5l9.2 18.4h-18.4z"/><path fill="#f3faac" d="M383.3 973.4l9.2 18.4h-18.4zM404.7 968.1l9.2 18.4h-18.4zM397.3 967.4l9.2 18.4h-18.4zM258.3 1106.3l9.2 18.4h-18.4zM395.3 1000.7l9.2 18.4h-18.4zM296.0 1103.1l9.2 18.4h-18.4zM406.7 972.4l9.2 18.4h-18.4zM376.2 978.2l9.2 18.4h-18.4zM260.8 1123.5l9.2 18.4h-18.4zM301.7 1048.5l9.2 18.4h-18.4zM390.2 970.5l9.2 18.4h-18.4zM383.0 1017.9l9.2 18.4h-18.4zM319.3 1030.0l9.2 18.4h-18.4zM400.5 968.4l9.2 18.4h-18.4zM342.2 1006.9l9.2 18.4h-18.4zM307.3 1092.2l9.2 18.4h-18.4zM354.6 995.6l9.2 18.4h-18.4zM396.3 997.9l9.2 18.4h-18.4zM404.0 982.4l9.2 18.4h-18.4z"/><path fill="#f6fbb0" d="M404.9 972.9l9.2 18.4h-18.4zM366.1 1036.5l9.2 18.4h-18.4zM386.6 973.1l9.2 18.4h-18.4zM403.4 971.7l9.2 18.4h-18.4zM258.3 1123.5l9.2 18.4h-18.4zM394.4 970.8l9.2 18.4h-18.4zM404.0 978.9l9.2 18.4h-18.4zM283.9 1112.5l9.2 18.4h-18.4zM402.1 972.3l9.2 18.4h-18.4zM377.1 1023.8l9.2 18.4h-18.4zM379.9 977.7l9.2 18.4h-18.4zM351.6 999.2l9.2 18.4h-18.4zM372.5 982.6l9.2 18.4h-18.4zM345.4 1004.9l9.2 18.4h-18.4zM333.9 1016.0l9.2 18.4h-18.4z"/><path fill="#f9fcb5" d="M287.6 1065.9l9.2 18.4h-18.4zM339.9 1010.2l9.2 18.4h-18.4zM397.3 971.8l9.2 18.4h-18.4zM390.7 972.9l9.2 18.4h-18.4zM357.1 1045.3l9.2 18.4h-18.4zM396.0 996.4l9.2 18.4h-18.4zM401.6 974.5l9.2 18.4h-18.4zM394.4 998.8l9.2 18.4h-18.4zM364.2 1037.7l9.2 18.4h-18.4zM391.1 1004.2l9.2 18.4h-18.4zM401.3 984.1l9.2 18.4h-18.4zM374.8 1026.0l9.2 18.4h-18.4zM347.6 1003.4l9.2 18.4h-18.4zM374.0 1026.7l9.2 18.4h-18.4zM279.1 1076.6l9.2 18.4h-18.4zM368.5 1032.9l9.2 18.4h-18.4zM369.4 985.6l9.2 18.4h-18.4zM308.5 1090.5l9.2 18.4h-18.4zM396.8 993.5l9.2 18.4h-18.4zM316.3 1083.0l9.2 18.4h-18.4zM267.3 1093.8l9.2 18.4h-18.4zM377.2 980.8l9.2 18.4h-18.4z"/><path fill="#fbfdb8" d="M397.2 974.2l9.2 18.4h-18.4zM365.2 989.2l9.2 18.4h-18.4zM323.7 1027.1l9.2 18.4h-18.4zM384.1 1013.6l9.2 18.4h-18.4zM394.5 974.6l9.2 18.4h-18.4zM399.1 987.1l9.2 18.4h-18.4zM340.4 1061.1l9.2 18.4h-18.4zM399.8 978.7l9.2 18.4h-18.4zM385.8 977.0l9.2 18.4h-18.4zM369.0 987.0l9.2 18.4h-18.4zM366.6 1034.3l9.2 18.4h-18.4zM398.7 986.2l9.2 18.4h-18.4zM399.6 981.7l9.2 18.4h-18.4zM332.5 1018.8l9.2 18.4h-18.4zM296.3 1056.2l9.2 18.4h-18.4zM398.6 978.5l9.2 18.4h-18.4zM384.4 978.3l9.2 18.4h-18.4z"/><path fill="#fefebd" d="M391.2 1001.4l9.2 18.4h-18.4zM356.1 997.4l9.2 18.4h-18.4zM387.1 1008.0l9.2 18.4h-18.4zM372.7 985.2l9.2 18.4h-18.4zM297.9 1054.8l9.2 18.4h-18.4zM326.4 1025.4l9.2 18.4h-18.4zM363.0 992.4l9.2 18.4h-18.4zM326.0 1073.8l9.2 18.4h-18.4zM394.9 979.0l9.2 18.4h-18.4zM273.7 1118.5l9.2 18.4h-18.4zM293.7 1103.8l9.2 18.4h-18.4zM337.3 1063.5l9.2 18.4h-18.4zM316.8 1035.2l9.2 18.4h-18.4zM339.3 1013.0l9.2 18.4h-18.4z"/><path fill="#fffdbc" d="M347.5 1053.7l9.2 18.4h-18.4zM395.2 980.0l9.2 18.4h-18.4zM378.8 1018.9l9.2 18.4h-18.4zM390.5 979.0l9.2 18.4h-18.4zM379.2 982.8l9.2 18.4h-18.4zM348.7 1004.7l9.2 18.4h-18.4zM396.0 982.7l9.2 18.4h-18.4zM393.2 995.1l9.2 18.4h-18.4zM336.9 1015.7l9.2 18.4h-18.4zM394.2 991.6l9.2 18.4h-18.4zM395.3 986.3l9.2 18.4h-18.4zM374.6 1023.5l9.2 18.4h-18.4zM305.7 1047.0l9.2 18.4h-18.4zM377.6 1019.7l9.2 18.4h-18.4zM285.5 1070.3l9.2 18.4h-18.4zM383.2 981.9l9.2 18.4h-18.4z"/><path fill="#fffab6" d="M388.2 980.8l9.2 18.4h-18.4zM332.3 1067.7l9.2 18.4h-18.4zM316.3 1036.3l9.2 18.4h-18.4zM371.3 988.1l9.2 18.4h-18.4zM334.0 1066.2l9.2 18.4h-18.4zM351.3 1003.2l9.2 18.4h-18.4zM312.3 1040.4l9.2 18.4h-18.4zM391.7 996.4l9.2 18.4h-18.4zM315.0 1037.7l9.2 18.4h-18.4zM328.3 1024.6l9.2 18.4h-18.4zM389.7 981.9l9.2 18.4h-18.4zM352.6 1047.8l9.2 18.4h-18.4zM276.8 1116.4l9.2 18.4h-18.4zM370.0 1028.5l9.2 18.4h-18.4zM290.9 1105.6l9.2 18.4h-18.4zM279.8 1077.6l9.2 18.4h-18.4zM290.6 1105.8l9.2 18.4h-18.4zM378.2 985.5l9.2 18.4h-18.4zM280.9 1076.2l9.2 18.4h-18.4z"/><path fill="#fff7b2" d="M390.5 983.8l9.2 18.4h-18.4zM392.6 989.7l9.2 18.4h-18.4zM389.4 999.2l9.2 18.4h-18.4zM369.5 1028.7l9.2 18.4h-18.4zM360.4 996.8l9.2 18.4h-18.4zM258.3 1121.3l9.2 18.4h-18.4zM301.1 1096.3l9.2 18.4h-18.4zM264.7 1120.5l9.2 18.4h-18.4zM319.0 1079.4l9.2 18.4h-18.4zM385.6 1005.7l9.2 18.4h-18.4zM386.2 984.5l9.2 18.4h-18.4zM381.0 985.6l9.2 18.4h-18.4zM258.3 1108.8l9.2 18.4h-18.4zM391.0 992.1l9.2 18.4h-18.4zM347.0 1008.3l9.2 18.4h-18.4z"/><path fill="#fff3ac" d="M349.7 1050.1l9.2 18.4h-18.4zM389.7 987.6l9.2 18.4h-18.4zM386.6 1002.4l9.2 18.4h-18.4zM384.9 986.1l9.2 18.4h-18.4zM380.5 1012.8l9.2 18.4h-18.4zM323.2 1031.0l9.2 18.4h-18.4zM288.8 1067.5l9.2 18.4h-18.4zM381.6 1010.9l9.2 18.4h-18.4zM345.7 1010.1l9.2 18.4h-18.4zM367.7 993.5l9.2 18.4h-18.4zM377.0 988.8l9.2 18.4h-18.4zM378.5 1015.5l9.2 18.4h-18.4zM331.9 1022.9l9.2 18.4h-18.4zM386.8 988.0l9.2 18.4h-18.4z"/><path fill="#fff0a6" d="M363.8 996.3l9.2 18.4h-18.4zM382.9 1008.0l9.2 18.4h-18.4zM353.2 1004.2l9.2 18.4h-18.4zM386.8 999.9l9.2 18.4h-18.4zM380.5 988.2l9.2 18.4h-18.4zM377.2 1017.0l9.2 18.4h-18.4zM364.8 995.9l9.2 18.4h-18.4zM257.7 1110.2l9.2 18.4h-18.4zM382.8 988.2l9.2 18.4h-18.4zM293.4 1062.4l9.2 18.4h-18.4zM387.7 992.3l9.2 18.4h-18.4zM322.2 1032.6l9.2 18.4h-18.4zM387.5 995.0l9.2 18.4h-18.4zM359.0 1000.3l9.2 18.4h-18.4zM312.8 1084.6l9.2 18.4h-18.4zM370.5 993.1l9.2 18.4h-18.4zM345.4 1053.8l9.2 18.4h-18.4zM384.8 1002.3l9.2 18.4h-18.4z"/><path fill="#feeda1" d="M357.6 1040.6l9.2 18.4h-18.4zM311.0 1043.7l9.2 18.4h-18.4zM342.5 1056.5l9.2 18.4h-18.4zM358.6 1001.3l9.2 18.4h-18.4zM372.4 993.1l9.2 18.4h-18.4zM297.8 1098.7l9.2 18.4h-18.4zM352.8 1045.6l9.2 18.4h-18.4zM382.5 991.2l9.2 18.4h-18.4zM381.9 1006.8l9.2 18.4h-18.4zM336.8 1019.6l9.2 18.4h-18.4zM375.6 992.5l9.2 18.4h-18.4zM342.7 1014.5l9.2 18.4h-18.4zM363.5 998.7l9.2 18.4h-18.4z"/><path fill="#feea9b" d="M335.7 1020.8l9.2 18.4h-18.4zM381.5 992.5l9.2 18.4h-18.4zM354.0 1005.4l9.2 18.4h-18.4zM384.3 999.1l9.2 18.4h-18.4zM356.0 1041.6l9.2 18.4h-18.4zM357.1 1003.5l9.2 18.4h-18.4zM323.6 1032.5l9.2 18.4h-18.4zM304.4 1092.2l9.2 18.4h-18.4zM272.4 1089.6l9.2 18.4h-18.4zM382.8 995.6l9.2 18.4h-18.4zM361.3 1035.1l9.2 18.4h-18.4zM304.5 1051.3l9.2 18.4h-18.4z"/><path fill="#fee695" d="M329.6 1027.1l9.2 18.4h-18.4zM343.8 1014.4l9.2 18.4h-18.4zM312.1 1043.8l9.2 18.4h-18.4zM280.3 1112.3l9.2 18.4h-18.4zM375.0 995.1l9.2 18.4h-18.4zM380.0 995.6l9.2 18.4h-18.4zM365.0 999.4l9.2 18.4h-18.4zM374.6 995.4l9.2 18.4h-18.4zM364.8 1030.4l9.2 18.4h-18.4zM374.5 1017.1l9.2 18.4h-18.4zM271.1 1117.5l9.2 18.4h-18.4zM371.2 996.9l9.2 18.4h-18.4zM296.6 1060.0l9.2 18.4h-18.4zM380.4 1004.7l9.2 18.4h-18.4zM371.9 1020.5l9.2 18.4h-18.4zM258.3 1118.8l9.2 18.4h-18.4z"/><path fill="#fee491" d="M267.3 1097.6l9.2 18.4h-18.4zM352.4 1008.4l9.2 18.4h-18.4zM358.4 1004.3l9.2 18.4h-18.4zM329.1 1068.5l9.2 18.4h-18.4zM325.9 1031.3l9.2 18.4h-18.4zM379.4 998.4l9.2 18.4h-18.4zM341.0 1017.8l9.2 18.4h-18.4zM363.5 1001.4l9.2 18.4h-18.4zM294.5 1062.8l9.2 18.4h-18.4zM372.4 997.7l9.2 18.4h-18.4zM363.1 1031.8l9.2 18.4h-18.4zM376.4 1012.2l9.2 18.4h-18.4zM344.0 1015.5l9.2 18.4h-18.4zM377.7 998.5l9.2 18.4h-18.4zM369.2 999.4l9.2 18.4h-18.4zM378.9 1003.4l9.2 18.4h-18.4zM377.6 1008.5l9.2 18.4h-18.4z"/><path fill="#fee08b" d="M345.2 1052.1l9.2 18.4h-18.4zM366.4 1026.9l9.2 18.4h-18.4zM366.9 1001.2l9.2 18.4h-18.4zM300.2 1056.9l9.2 18.4h-18.4zM334.7 1024.1l9.2 18.4h-18.4zM377.7 1004.3l9.2 18.4h-18.4zM339.8 1057.4l9.2 18.4h-18.4zM275.6 1086.0l9.2 18.4h-18.4zM368.4 1023.5l9.2 18.4h-18.4zM258.3 1111.3l9.2 18.4h-18.4zM370.3 1000.9l9.2 18.4h-18.4zM356.0 1007.7l9.2 18.4h-18.4zM348.5 1013.1l9.2 18.4h-18.4zM376.5 1003.8l9.2 18.4h-18.4z"/><path fill="#feda86" d="M358.7 1036.1l9.2 18.4h-18.4zM313.1 1083.0l9.2 18.4h-18.4zM348.6 1047.7l9.2 18.4h-18.4zM336.2 1060.8l9.2 18.4h-18.4zM333.2 1026.2l9.2 18.4h-18.4zM318.1 1078.1l9.2 18.4h-18.4zM317.5 1040.5l9.2 18.4h-18.4zM340.2 1020.4l9.2 18.4h-18.4zM373.0 1004.0l9.2 18.4h-18.4z"/><path fill="#fed683" d="M257.0 1116.0l9.2 18.4h-18.4zM305.4 1052.6l9.2 18.4h-18.4zM373.1 1006.9l9.2 18.4h-18.4zM370.8 1005.8l9.2 18.4h-18.4zM360.8 1007.5l9.2 18.4h-18.4z"/><path fill="#fed07e" d="M371.7 1013.0l9.2 18.4h-18.4zM372.1 1010.8l9.2 18.4h-18.4zM367.8 1021.1l9.2 18.4h-18.4zM258.3 1116.3l9.2 18.4h-18.4zM365.8 1006.7l9.2 18.4h-18.4zM370.4 1015.1l9.2 18.4h-18.4zM321.2 1038.2l9.2 18.4h-18.4zM362.5 1007.8l9.2 18.4h-18.4zM367.1 1021.6l9.2 18.4h-18.4zM306.2 1088.9l9.2 18.4h-18.4zM362.6 1028.3l9.2 18.4h-18.4z"/><path fill="#feca79" d="M293.4 1066.2l9.2 18.4h-18.4zM351.8 1014.0l9.2 18.4h-18.4zM286.9 1073.9l9.2 18.4h-18.4zM304.3 1054.6l9.2 18.4h-18.4zM368.2 1009.3l9.2 18.4h-18.4zM311.3 1047.9l9.2 18.4h-18.4zM346.3 1048.5l9.2 18.4h-18.4zM258.3 1113.8l9.2 18.4h-18.4zM306.0 1053.1l9.2 18.4h-18.4zM292.1 1068.1l9.2 18.4h-18.4zM331.3 1064.5l9.2 18.4h-18.4zM339.3 1023.7l9.2 18.4h-18.4zM271.9 1115.7l9.2 18.4h-18.4zM344.6 1019.7l9.2 18.4h-18.4z"/><path fill="#fdc574" d="M356.6 1012.2l9.2 18.4h-18.4zM359.7 1010.9l9.2 18.4h-18.4zM365.9 1010.2l9.2 18.4h-18.4zM368.1 1012.1l9.2 18.4h-18.4zM320.2 1040.0l9.2 18.4h-18.4zM367.4 1011.8l9.2 18.4h-18.4zM359.7 1011.4l9.2 18.4h-18.4zM367.0 1017.8l9.2 18.4h-18.4zM336.9 1058.4l9.2 18.4h-18.4zM284.1 1107.6l9.2 18.4h-18.4zM311.1 1083.8l9.2 18.4h-18.4zM357.6 1033.7l9.2 18.4h-18.4zM296.3 1063.6l9.2 18.4h-18.4zM354.5 1037.8l9.2 18.4h-18.4zM294.4 1099.7l9.2 18.4h-18.4zM348.5 1017.7l9.2 18.4h-18.4zM296.5 1097.7l9.2 18.4h-18.4zM283.6 1078.4l9.2 18.4h-18.4zM352.6 1015.5l9.2 18.4h-18.4z"/><path fill="#fdc171" d="M351.6 1041.3l9.2 18.4h-18.4zM363.0 1012.4l9.2 18.4h-18.4zM347.0 1019.2l9.2 18.4h-18.4zM283.7 1107.7l9.2 18.4h-18.4zM298.8 1061.0l9.2 18.4h-18.4zM286.9 1074.8l9.2 18.4h-18.4zM342.8 1022.3l9.2 18.4h-18.4zM365.4 1018.1l9.2 18.4h-18.4zM354.7 1015.2l9.2 18.4h-18.4zM280.1 1082.7l9.2 18.4h-18.4zM349.2 1043.8l9.2 18.4h-18.4zM358.6 1031.1l9.2 18.4h-18.4z"/><path fill="#fdbb6c" d="M333.2 1030.4l9.2 18.4h-18.4zM277.4 1086.2l9.2 18.4h-18.4zM317.7 1043.4l9.2 18.4h-18.4zM363.6 1020.6l9.2 18.4h-18.4zM323.4 1038.6l9.2 18.4h-18.4zM332.2 1031.5l9.2 18.4h-18.4zM303.0 1091.1l9.2 18.4h-18.4zM278.0 1111.3l9.2 18.4h-18.4zM289.5 1072.3l9.2 18.4h-18.4zM355.1 1035.2l9.2 18.4h-18.4zM275.5 1112.9l9.2 18.4h-18.4zM362.5 1017.6l9.2 18.4h-18.4zM359.7 1016.4l9.2 18.4h-18.4z"/><path fill="#fdb567" d="M346.1 1021.8l9.2 18.4h-18.4zM335.4 1059.0l9.2 18.4h-18.4zM328.9 1034.8l9.2 18.4h-18.4zM361.3 1022.4l9.2 18.4h-18.4zM331.8 1032.5l9.2 18.4h-18.4zM293.5 1099.9l9.2 18.4h-18.4zM319.0 1043.0l9.2 18.4h-18.4zM340.4 1026.0l9.2 18.4h-18.4zM320.3 1074.2l9.2 18.4h-18.4zM360.0 1025.1l9.2 18.4h-18.4zM338.8 1027.4l9.2 18.4h-18.4zM359.6 1019.0l9.2 18.4h-18.4zM325.5 1069.0l9.2 18.4h-18.4zM347.5 1021.9l9.2 18.4h-18.4z"/><path fill="#fdb163" d="M275.9 1112.2l9.2 18.4h-18.4zM312.8 1048.9l9.2 18.4h-18.4zM352.4 1020.2l9.2 18.4h-18.4zM352.9 1036.7l9.2 18.4h-18.4zM323.5 1070.8l9.2 18.4h-18.4zM359.2 1023.3l9.2 18.4h-18.4zM336.3 1030.0l9.2 18.4h-18.4zM308.6 1085.2l9.2 18.4h-18.4zM304.4 1057.1l9.2 18.4h-18.4z"/><path fill="#fcaa5f" d="M323.3 1040.4l9.2 18.4h-18.4zM350.1 1040.0l9.2 18.4h-18.4zM356.1 1021.3l9.2 18.4h-18.4zM355.2 1031.7l9.2 18.4h-18.4zM357.0 1022.8l9.2 18.4h-18.4zM288.4 1074.8l9.2 18.4h-18.4zM356.4 1027.7l9.2 18.4h-18.4z"/><path fill="#fba35c" d="M287.9 1103.5l9.2 18.4h-18.4zM286.3 1077.7l9.2 18.4h-18.4zM351.6 1024.5l9.2 18.4h-18.4zM330.6 1062.6l9.2 18.4h-18.4z"/><path fill="#fb9d59" d="M344.9 1027.0l9.2 18.4h-18.4zM351.5 1035.3l9.2 18.4h-18.4zM268.5 1101.1l9.2 18.4h-18.4zM351.2 1025.7l9.2 18.4h-18.4zM314.8 1078.6l9.2 18.4h-18.4zM281.8 1083.1l9.2 18.4h-18.4zM349.4 1038.5l9.2 18.4h-18.4zM341.7 1029.5l9.2 18.4h-18.4zM268.5 1114.0l9.2 18.4h-18.4zM336.2 1032.9l9.2 18.4h-18.4zM342.6 1047.8l9.2 18.4h-18.4zM310.7 1052.8l9.2 18.4h-18.4zM305.9 1086.9l9.2 18.4h-18.4z"/><path fill="#fa9656" d="M326.3 1040.0l9.2 18.4h-18.4zM347.6 1027.8l9.2 18.4h-18.4zM352.1 1030.1l9.2 18.4h-18.4zM330.3 1037.3l9.2 18.4h-18.4zM340.7 1049.7l9.2 18.4h-18.4zM347.3 1029.0l9.2 18.4h-18.4zM345.5 1042.9l9.2 18.4h-18.4zM273.3 1095.2l9.2 18.4h-18.4zM344.2 1029.9l9.2 18.4h-18.4z"/><path fill="#f98e52" d="M327.4 1065.2l9.2 18.4h-18.4zM329.0 1038.9l9.2 18.4h-18.4zM346.7 1040.7l9.2 18.4h-18.4zM349.5 1032.7l9.2 18.4h-18.4zM337.0 1053.8l9.2 18.4h-18.4zM308.4 1055.7l9.2 18.4h-18.4z"/><path fill="#f8864f" d="M321.6 1071.0l9.2 18.4h-18.4zM343.0 1032.4l9.2 18.4h-18.4zM313.1 1052.0l9.2 18.4h-18.4zM306.4 1058.0l9.2 18.4h-18.4zM339.1 1034.9l9.2 18.4h-18.4zM302.7 1061.6l9.2 18.4h-18.4z"/><path fill="#f7814c" d="M318.0 1048.4l9.2 18.4h-18.4zM270.0 1100.8l9.2 18.4h-18.4zM301.2 1090.5l9.2 18.4h-18.4zM332.9 1038.5l9.2 18.4h-18.4zM343.8 1035.0l9.2 18.4h-18.4zM337.8 1051.4l9.2 18.4h-18.4zM344.7 1038.9l9.2 18.4h-18.4zM338.0 1036.6l9.2 18.4h-18.4zM296.0 1069.3l9.2 18.4h-18.4zM297.2 1094.1l9.2 18.4h-18.4z"/><path fill="#f67a49" d="M321.8 1046.2l9.2 18.4h-18.4zM342.2 1036.8l9.2 18.4h-18.4zM324.0 1044.9l9.2 18.4h-18.4zM279.6 1107.1l9.2 18.4h-18.4zM272.2 1111.1l9.2 18.4h-18.4z"/><path fill="#f57245" d="M335.6 1039.4l9.2 18.4h-18.4zM312.7 1053.9l9.2 18.4h-18.4zM341.3 1043.5l9.2 18.4h-18.4zM324.7 1066.3l9.2 18.4h-18.4zM303.6 1087.6l9.2 18.4h-18.4zM338.8 1047.9l9.2 18.4h-18.4zM339.8 1039.7l9.2 18.4h-18.4z"/><path fill="#f46d43" d="M285.0 1082.4l9.2 18.4h-18.4zM330.2 1042.5l9.2 18.4h-18.4zM339.5 1045.0l9.2 18.4h-18.4zM283.4 1104.2l9.2 18.4h-18.4zM276.1 1093.9l9.2 18.4h-18.4zM281.8 1086.2l9.2 18.4h-18.4zM337.5 1041.7l9.2 18.4h-18.4zM298.9 1091.7l9.2 18.4h-18.4zM328.9 1043.8l9.2 18.4h-18.4zM315.3 1052.9l9.2 18.4h-18.4z"/><path fill="#f06744" d="M275.6 1108.5l9.2 18.4h-18.4zM333.4 1054.5l9.2 18.4h-18.4zM306.7 1060.1l9.2 18.4h-18.4zM333.7 1043.2l9.2 18.4h-18.4zM294.1 1073.2l9.2 18.4h-18.4zM286.2 1102.0l9.2 18.4h-18.4zM321.2 1069.2l9.2 18.4h-18.4z"/><path fill="#ed6246" d="M335.6 1049.8l9.2 18.4h-18.4zM326.8 1046.3l9.2 18.4h-18.4zM300.8 1066.2l9.2 18.4h-18.4zM294.8 1072.8l9.2 18.4h-18.4zM288.0 1100.6l9.2 18.4h-18.4zM335.8 1047.0l9.2 18.4h-18.4zM269.7 1109.2l9.2 18.4h-18.4zM330.2 1045.6l9.2 18.4h-18.4zM280.0 1089.5l9.2 18.4h-18.4z"/><path fill="#ea5e47" d="M306.0 1084.2l9.2 18.4h-18.4zM315.9 1074.6l9.2 18.4h-18.4zM316.5 1073.9l9.2 18.4h-18.4zM284.7 1102.5l9.2 18.4h-18.4zM271.7 1102.1l9.2 18.4h-18.4zM330.8 1056.3l9.2 18.4h-18.4zM324.7 1048.7l9.2 18.4h-18.4zM298.4 1069.5l9.2 18.4h-18.4zM328.1 1060.1l9.2 18.4h-18.4zM322.2 1050.2l9.2 18.4h-18.4z"/><path fill="#e75948" d="M329.6 1057.5l9.2 18.4h-18.4zM309.1 1059.9l9.2 18.4h-18.4zM271.4 1107.3l9.2 18.4h-18.4zM331.4 1049.0l9.2 18.4h-18.4z"/><path fill="#e3534a" d="M329.6 1049.7l9.2 18.4h-18.4zM284.6 1085.6l9.2 18.4h-18.4zM310.1 1060.1l9.2 18.4h-18.4zM290.1 1079.7l9.2 18.4h-18.4zM278.6 1104.8l9.2 18.4h-18.4z"/><path fill="#e1504b" d="M328.7 1051.3l9.2 18.4h-18.4zM293.4 1076.4l9.2 18.4h-18.4zM312.2 1058.8l9.2 18.4h-18.4zM275.1 1105.5l9.2 18.4h-18.4zM325.0 1052.0l9.2 18.4h-18.4zM295.3 1074.6l9.2 18.4h-18.4zM318.4 1070.3l9.2 18.4h-18.4z"/><path fill="#dd4a4c" d="M319.4 1055.1l9.2 18.4h-18.4zM326.0 1059.7l9.2 18.4h-18.4zM292.3 1095.9l9.2 18.4h-18.4zM318.4 1055.8l9.2 18.4h-18.4zM276.2 1098.6l9.2 18.4h-18.4zM326.9 1054.8l9.2 18.4h-18.4zM314.2 1074.8l9.2 18.4h-18.4zM309.7 1079.2l9.2 18.4h-18.4zM290.9 1080.0l9.2 18.4h-18.4z"/><path fill="#d9444d" d="M314.9 1073.7l9.2 18.4h-18.4zM304.5 1066.1l9.2 18.4h-18.4zM316.4 1058.0l9.2 18.4h-18.4zM283.2 1088.8l9.2 18.4h-18.4z"/><path fill="#d63f4f" d="M324.9 1057.0l9.2 18.4h-18.4zM323.1 1056.3l9.2 18.4h-18.4zM306.4 1065.2l9.2 18.4h-18.4zM307.0 1081.0l9.2 18.4h-18.4z"/><path fill="#d23a4e" d="M300.5 1071.3l9.2 18.4h-18.4zM322.8 1061.0l9.2 18.4h-18.4zM320.2 1058.4l9.2 18.4h-18.4zM308.9 1064.0l9.2 18.4h-18.4zM280.2 1094.5l9.2 18.4h-18.4zM297.4 1089.7l9.2 18.4h-18.4zM319.8 1065.9l9.2 18.4h-18.4zM314.9 1060.8l9.2 18.4h-18.4z"/><path fill="#cb334d" d="M299.8 1087.1l9.2 18.4h-18.4zM279.4 1097.5l9.2 18.4h-18.4zM279.3 1099.3l9.2 18.4h-18.4zM318.2 1060.8l9.2 18.4h-18.4zM280.6 1100.2l9.2 18.4h-18.4zM319.3 1061.4l9.2 18.4h-18.4z"/><path fill="#c52c4b" d="M303.0 1070.1l9.2 18.4h-18.4zM289.3 1096.7l9.2 18.4h-18.4zM297.8 1076.1l9.2 18.4h-18.4zM284.9 1089.5l9.2 18.4h-18.4zM303.8 1082.6l9.2 18.4h-18.4z"/><path fill="#c1274a" d="M290.5 1083.9l9.2 18.4h-18.4zM309.5 1077.1l9.2 18.4h-18.4zM316.8 1065.0l9.2 18.4h-18.4z"/><path fill="#ba2049" d="M287.8 1087.5l9.2 18.4h-18.4zM284.2 1097.9l9.2 18.4h-18.4zM283.4 1092.8l9.2 18.4h-18.4zM312.4 1065.6l9.2 18.4h-18.4zM301.7 1073.9l9.2 18.4h-18.4zM291.1 1093.6l9.2 18.4h-18.4zM306.3 1069.4l9.2 18.4h-18.4z"/><path fill="#b41947" d="M283.7 1095.3l9.2 18.4h-18.4zM311.6 1067.2l9.2 18.4h-18.4zM296.3 1080.2l9.2 18.4h-18.4zM295.0 1081.8l9.2 18.4h-18.4z"/><path fill="#af1446" d="M313.1 1070.0l9.2 18.4h-18.4zM289.0 1088.5l9.2 18.4h-18.4zM303.3 1081.0l9.2 18.4h-18.4zM291.9 1086.3l9.2 18.4h-18.4zM293.8 1084.5l9.2 18.4h-18.4zM301.8 1076.9l9.2 18.4h-18.4z"/><path fill="#a90d45" d="M293.3 1089.4l9.2 18.4h-18.4zM287.2 1092.1l9.2 18.4h-18.4zM307.4 1072.0l9.2 18.4h-18.4zM298.0 1081.6l9.2 18.4h-18.4zM298.8 1081.0l9.2 18.4h-18.4zM294.8 1085.1l9.2 18.4h-18.4zM288.1 1092.1l9.2 18.4h-18.4zM307.6 1074.4l9.2 18.4h-18.4zM309.8 1072.1l9.2 18.4h-18.4z"/>
<line x1="204.0" y1="1183.3" x2="1417.2" y2="75.5" stroke="#000" stroke-width="5.1" stroke-dasharray="18.8 8.17"/>
<line x1="258.3" y1="1111.9" x2="1362.2" y2="125.2" stroke="#ff0000" stroke-width="5.1" stroke-linecap="square"/>
</g>
<rect x="204.0" y="75.5" width="1213.2" height="1107.8" fill="none" stroke="#000" stroke-width="4.4"/>
<path d="M258.3 1183.3V1202.1M489.1 1183.3V1202.1M719.9 1183.3V1202.1M950.7 1183.3V1202.1M1181.5 1183.3V1202.1M1412.3 1183.3V1202.1M204.0 1132.7H185.2M204.0 901.8H185.2M204.0 671.0H185.2M204.0 440.1H185.2M204.0 209.2H185.2" stroke="#000" stroke-width="4.3" fill="none"/>
<text x="258.3" y="1251.3" font-size="54.4" text-anchor="middle">0</text>
<text x="489.1" y="1251.3" font-size="54.4" text-anchor="middle">200</text>
<text x="719.9" y="1251.3" font-size="54.4" text-anchor="middle">400</text>
<text x="950.7" y="1251.3" font-size="54.4" text-anchor="middle">600</text>
<text x="1181.5" y="1251.3" font-size="54.4" text-anchor="middle">800</text>
<text x="1412.3" y="1251.3" font-size="54.4" text-anchor="middle">1000</text>
<text x="173.4" y="1151.1" font-size="54.4" text-anchor="end">0</text>
<text x="173.4" y="920.2" font-size="54.4" text-anchor="end">200</text>
<text x="173.4" y="689.4" font-size="54.4" text-anchor="end">400</text>
<text x="173.4" y="458.5" font-size="54.4" text-anchor="end">600</text>
<text x="173.4" y="227.6" font-size="54.4" text-anchor="end">800</text>
<text x="810.5" y="1314.8" font-size="54.4" text-anchor="middle">Rain Gauge obversvations(mm/month)</text>
<text transform="translate(66.6 629.5) rotate(-90)" font-size="54.4" text-anchor="middle">Original TRMM(mm/month)</text>
<rect x="231.2" y="103.2" width="607.9" height="246.5" rx="9" ry="9" fill="#fff" fill-opacity="0.8" stroke="#d0d0d0" stroke-width="3.4"/>
<line x1="253" y1="143.4" x2="362.6" y2="143.4" stroke="#000" stroke-width="5.1" stroke-dasharray="18.8 8.17"/>
<line x1="253.8" y1="219.8" x2="362.5" y2="219.8" stroke="#ff0000" stroke-width="5.1" stroke-linecap="square"/>
<path d="M307.7 292.79999999999995L316.8 311.0H298.59999999999997Z" fill="#5e4fa2"/>
<text x="404.5" y="163.3" font-size="54.4">1:1 line</text>
<text x="404.5" y="239.5" font-size="54.4">y = 0.89x+18.04</text>
<text x="404.5" y="315.0" font-size="54.4">0.885</text>
<rect x="1492.8" y="75.5" width="55.8" height="1107.8" fill="url(#cb)" stroke="#000" stroke-width="2.6"/>
<text x="1572" y="1036.3" font-size="54.4">0.2</text>
<text x="1572" y="869.9" font-size="54.4">0.4</text>
<text x="1572" y="703.4" font-size="54.4">0.6</text>
<text x="1572" y="537.0" font-size="54.4">0.8</text>
<text x="1572" y="370.5" font-size="54.4">1.0</text>
<text x="1572" y="204.0" font-size="54.4">1.2</text>
<path d="M1548.6 1017.8H1560.8M1548.6 851.4H1560.8M1548.6 684.9H1560.8M1548.6 518.5H1560.8M1548.6 352.0H1560.8M1548.6 185.5H1560.8" stroke="#000" stroke-width="2.8" fill="none"/>
<text x="1548" y="65.2" font-size="43.5" text-anchor="end">1e-4</text>
<text transform="translate(1697 749.5) rotate(-90)" font-size="54.8" style="font-family:'DejaVu Serif',serif;fill:#8b0000">colorbar</text>
</svg></div></body></html>
